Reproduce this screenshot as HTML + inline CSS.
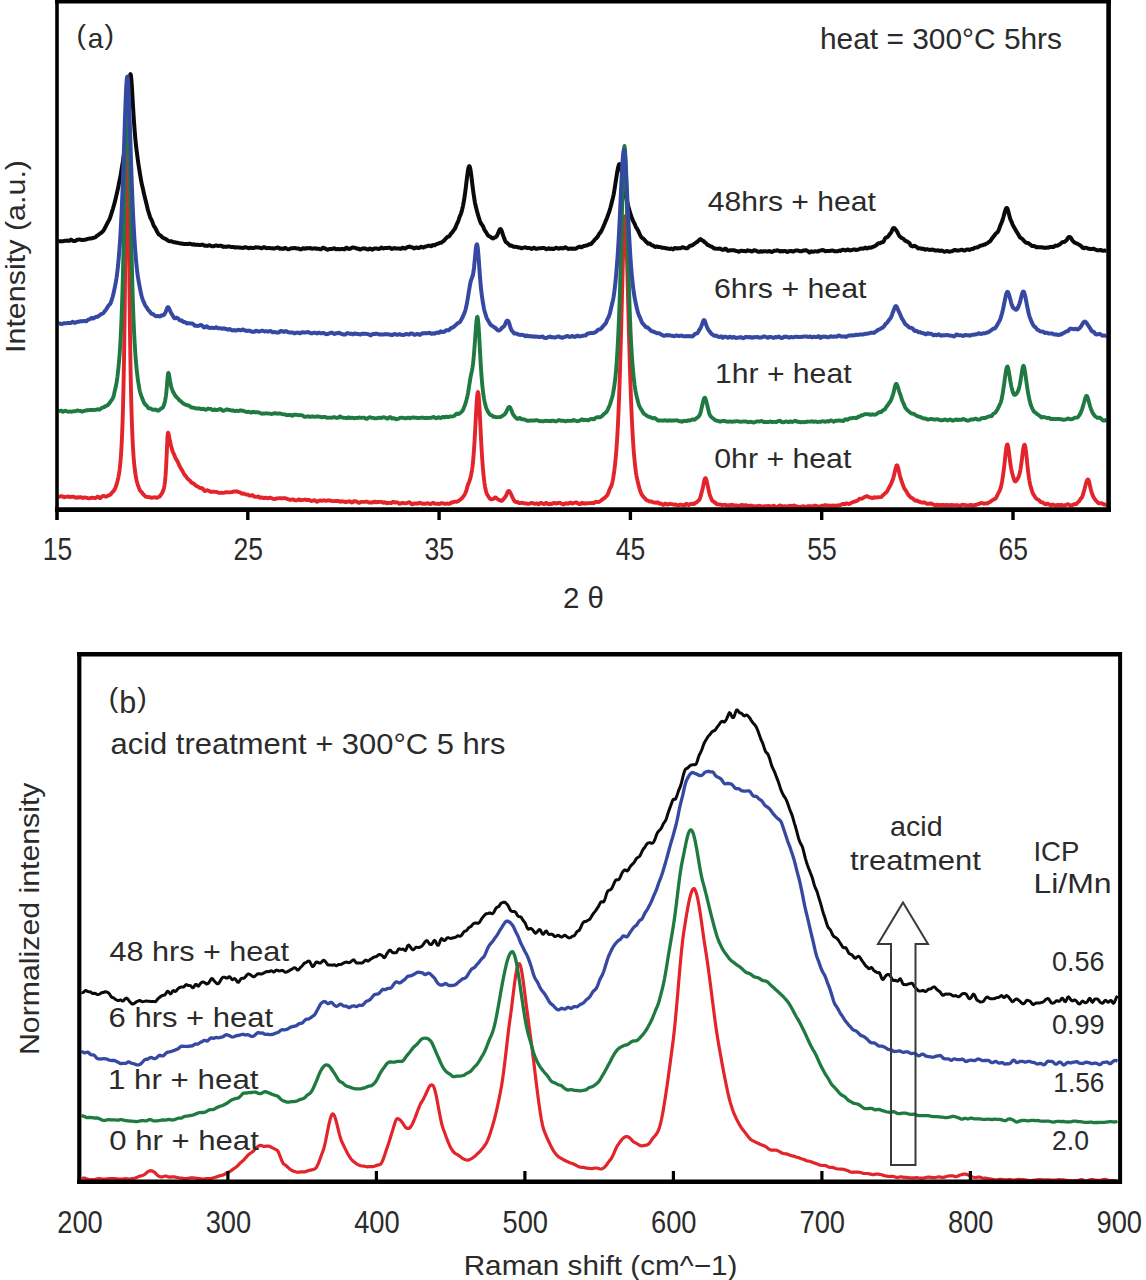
<!DOCTYPE html>
<html><head><meta charset="utf-8"><title>XRD and Raman spectra</title>
<style>html,body{margin:0;padding:0;background:#fff;} body{width:1146px;height:1280px;overflow:hidden;} svg{display:block;} text{font-family:"Liberation Sans",sans-serif;}</style>
</head><body>
<svg width="1146" height="1280" viewBox="0 0 1146 1280">
<rect width="1146" height="1280" fill="#fff"/>
<g>
<polyline fill="none" stroke="#0a0a0a" stroke-width="4.0" stroke-linejoin="round" points="58.5,241.6 59.0,241.4 59.5,241.3 60.0,241.2 60.5,241.2 61.0,241.2 61.5,241.2 62.0,241.3 62.5,241.3 63.0,241.2 63.5,241.1 64.0,241.0 64.5,240.8 65.0,240.8 65.5,240.8 66.0,240.8 66.5,240.8 67.0,240.6 67.5,240.5 68.0,240.6 68.5,240.7 69.0,240.9 69.5,240.8 70.0,240.4 70.5,239.9 71.0,239.7 71.5,239.9 72.0,240.3 72.5,240.6 73.0,240.9 73.5,240.9 74.0,240.9 74.5,240.9 75.0,241.0 75.5,240.9 76.0,240.6 76.5,240.1 77.0,239.9 77.5,239.8 78.0,239.7 78.5,239.6 79.0,239.6 79.5,239.6 80.0,239.6 80.5,239.7 81.0,239.8 81.5,239.9 82.0,240.0 82.5,240.1 83.0,240.1 83.5,240.0 84.0,239.8 84.5,239.7 85.0,239.7 85.5,239.6 86.0,239.5 86.5,239.4 87.0,239.2 87.5,239.0 88.0,238.9 88.5,238.8 89.0,238.7 89.5,238.5 90.0,238.4 90.5,238.4 91.0,238.4 91.5,238.4 92.0,238.2 92.5,238.1 93.0,238.0 93.5,237.9 94.0,237.7 94.5,237.5 95.0,237.3 95.5,237.1 96.0,236.7 96.5,236.2 97.0,235.7 97.5,235.4 98.0,235.3 98.5,234.9 99.0,234.4 99.5,233.9 100.0,233.6 100.5,233.3 101.0,233.0 101.5,232.6 102.0,232.1 102.5,231.6 103.0,231.1 103.5,230.5 104.0,229.7 104.5,228.8 105.0,227.8 105.5,226.8 106.0,225.8 106.5,224.8 107.0,223.9 107.5,222.9 108.0,222.0 108.5,221.1 109.0,220.2 109.5,219.1 110.0,217.9 110.5,216.5 111.0,214.9 111.5,213.2 112.0,211.6 112.5,210.1 113.0,208.5 113.5,206.7 114.0,205.0 114.5,203.2 115.0,201.3 115.5,199.3 116.0,197.1 116.5,194.9 117.0,192.8 117.5,190.6 118.0,188.3 118.5,185.8 119.0,183.1 119.5,180.6 120.0,178.3 120.5,175.8 121.0,173.0 121.5,169.9 122.0,166.8 122.5,163.7 123.0,160.5 123.5,157.1 124.0,153.5 124.5,149.5 125.0,145.0 125.5,140.0 126.0,134.5 126.5,128.3 127.0,121.4 127.5,113.8 128.0,105.6 128.5,97.0 129.0,88.6 129.5,81.3 130.0,76.1 130.5,74.1 131.0,76.0 131.5,81.2 132.0,88.7 132.5,97.3 133.0,106.1 133.5,114.3 134.0,121.8 134.5,128.6 135.0,134.8 135.5,140.4 136.0,145.4 136.5,149.7 137.0,153.6 137.5,157.3 138.0,161.0 138.5,164.5 139.0,167.7 139.5,170.8 140.0,173.9 140.5,177.0 141.0,179.9 141.5,182.5 142.0,184.8 142.5,186.9 143.0,189.2 143.5,191.5 144.0,193.8 144.5,195.9 145.0,198.0 145.5,200.0 146.0,202.0 146.5,204.0 147.0,206.1 147.5,208.2 148.0,210.2 148.5,211.9 149.0,213.5 149.5,215.2 150.0,216.7 150.5,218.0 151.0,218.9 151.5,219.9 152.0,221.1 152.5,222.3 153.0,223.7 153.5,225.0 154.0,226.1 154.5,226.9 155.0,227.5 155.5,228.3 156.0,229.4 156.5,230.5 157.0,231.5 157.5,232.3 158.0,233.2 158.5,234.0 159.0,234.6 159.5,234.9 160.0,235.1 160.5,235.4 161.0,235.9 161.5,236.5 162.0,237.0 162.5,237.4 163.0,237.7 163.5,238.0 164.0,238.3 164.5,238.5 165.0,238.7 165.5,238.9 166.0,239.2 166.5,239.5 167.0,239.9 167.5,240.2 168.0,240.6 168.5,240.9 169.0,241.1 169.5,241.2 170.0,241.2 170.5,241.2 171.0,241.2 171.5,241.3 172.0,241.5 172.5,241.7 173.0,242.0 173.5,242.2 174.0,242.3 174.5,242.2 175.0,242.3 175.5,242.4 176.0,242.6 176.5,242.7 177.0,242.8 177.5,242.8 178.0,242.9 178.5,243.0 179.0,243.2 179.5,243.3 180.0,243.4 180.5,243.5 181.0,243.4 181.5,243.4 182.0,243.5 182.5,243.7 183.0,243.8 183.5,243.9 184.0,243.9 184.5,243.9 185.0,244.0 185.5,244.0 186.0,243.9 186.5,244.0 187.0,244.1 187.5,244.1 188.0,244.1 188.5,244.0 189.0,243.9 189.5,243.7 190.0,243.7 190.5,243.8 191.0,244.0 191.5,244.3 192.0,244.4 192.5,244.5 193.0,244.4 193.5,244.3 194.0,244.4 194.5,244.6 195.0,244.8 195.5,244.9 196.0,244.8 196.5,244.7 197.0,244.7 197.5,244.7 198.0,244.8 198.5,245.0 199.0,245.0 199.5,244.9 200.0,244.9 200.5,244.9 201.0,244.9 201.5,244.8 202.0,244.7 202.5,244.6 203.0,244.8 203.5,245.0 204.0,245.4 204.5,245.6 205.0,245.7 205.5,245.6 206.0,245.6 206.5,245.7 207.0,245.8 207.5,245.9 208.0,245.7 208.5,245.5 209.0,245.3 209.5,245.3 210.0,245.4 210.5,245.6 211.0,245.9 211.5,246.1 212.0,246.2 212.5,246.3 213.0,246.3 213.5,246.2 214.0,246.1 214.5,245.9 215.0,245.7 215.5,245.5 216.0,245.5 216.5,245.5 217.0,245.6 217.5,245.8 218.0,246.0 218.5,246.0 219.0,245.9 219.5,245.8 220.0,245.7 220.5,245.7 221.0,245.7 221.5,245.8 222.0,246.1 222.5,246.5 223.0,246.8 223.5,246.9 224.0,246.8 224.5,246.7 225.0,246.6 225.5,246.7 226.0,246.8 226.5,246.9 227.0,246.7 227.5,246.5 228.0,246.4 228.5,246.4 229.0,246.4 229.5,246.5 230.0,246.6 230.5,246.8 231.0,247.0 231.5,246.9 232.0,246.9 232.5,246.9 233.0,247.0 233.5,247.0 234.0,247.0 234.5,247.2 235.0,247.5 235.5,247.5 236.0,247.5 236.5,247.4 237.0,247.3 237.5,247.4 238.0,247.5 238.5,247.6 239.0,247.6 239.5,247.6 240.0,247.6 240.5,247.8 241.0,247.8 241.5,247.8 242.0,247.8 242.5,247.9 243.0,248.0 243.5,247.9 244.0,247.6 244.5,247.4 245.0,247.3 245.5,247.3 246.0,247.3 246.5,247.5 247.0,247.7 247.5,247.8 248.0,247.9 248.5,248.1 249.0,248.2 249.5,248.1 250.0,247.9 250.5,247.7 251.0,247.7 251.5,247.8 252.0,248.0 252.5,248.0 253.0,248.0 253.5,248.0 254.0,247.9 254.5,247.8 255.0,247.5 255.5,247.3 256.0,247.3 256.5,247.4 257.0,247.5 257.5,247.5 258.0,247.5 258.5,247.4 259.0,247.5 259.5,247.7 260.0,247.9 260.5,248.0 261.0,248.1 261.5,248.2 262.0,248.2 262.5,247.9 263.0,247.5 263.5,247.2 264.0,247.2 264.5,247.3 265.0,247.4 265.5,247.7 266.0,248.0 266.5,248.1 267.0,248.2 267.5,248.1 268.0,248.1 268.5,248.0 269.0,248.0 269.5,248.1 270.0,248.1 270.5,248.2 271.0,248.2 271.5,248.2 272.0,248.2 272.5,248.3 273.0,248.5 273.5,248.6 274.0,248.6 274.5,248.5 275.0,248.3 275.5,248.1 276.0,248.0 276.5,247.9 277.0,247.7 277.5,247.5 278.0,247.5 278.5,247.6 279.0,248.0 279.5,248.5 280.0,248.8 280.5,248.7 281.0,248.6 281.5,248.5 282.0,248.6 282.5,248.9 283.0,249.0 283.5,248.8 284.0,248.5 284.5,248.1 285.0,247.9 285.5,248.0 286.0,248.2 286.5,248.6 287.0,248.9 287.5,249.1 288.0,249.2 288.5,249.2 289.0,249.2 289.5,249.0 290.0,248.8 290.5,248.5 291.0,248.4 291.5,248.3 292.0,248.2 292.5,248.2 293.0,248.2 293.5,248.2 294.0,248.0 294.5,247.9 295.0,248.0 295.5,248.2 296.0,248.4 296.5,248.6 297.0,248.6 297.5,248.5 298.0,248.4 298.5,248.5 299.0,248.8 299.5,249.1 300.0,249.3 300.5,249.4 301.0,249.3 301.5,249.2 302.0,248.9 302.5,248.5 303.0,248.2 303.5,248.2 304.0,248.4 304.5,248.6 305.0,248.7 305.5,248.6 306.0,248.4 306.5,248.2 307.0,248.1 307.5,248.1 308.0,248.2 308.5,248.3 309.0,248.3 309.5,248.1 310.0,248.0 310.5,248.1 311.0,248.3 311.5,248.6 312.0,248.7 312.5,248.7 313.0,248.5 313.5,248.4 314.0,248.4 314.5,248.4 315.0,248.3 315.5,248.4 316.0,248.5 316.5,248.8 317.0,248.9 317.5,248.8 318.0,248.8 318.5,248.8 319.0,248.8 319.5,249.0 320.0,249.2 320.5,249.3 321.0,249.2 321.5,248.9 322.0,248.5 322.5,248.0 323.0,247.7 323.5,247.7 324.0,248.0 324.5,248.3 325.0,248.6 325.5,248.7 326.0,248.9 326.5,249.3 327.0,249.6 327.5,249.7 328.0,249.6 328.5,249.3 329.0,249.1 329.5,249.0 330.0,249.0 330.5,249.1 331.0,249.1 331.5,249.0 332.0,248.9 332.5,248.8 333.0,248.7 333.5,248.5 334.0,248.3 334.5,248.3 335.0,248.5 335.5,249.0 336.0,249.3 336.5,249.3 337.0,249.2 337.5,249.0 338.0,248.9 338.5,249.0 339.0,249.2 339.5,249.3 340.0,249.2 340.5,249.1 341.0,249.0 341.5,249.1 342.0,249.0 342.5,248.9 343.0,248.9 343.5,249.1 344.0,249.3 344.5,249.4 345.0,249.0 345.5,248.5 346.0,247.9 346.5,247.7 347.0,247.9 347.5,248.3 348.0,248.7 348.5,248.9 349.0,249.0 349.5,248.9 350.0,248.8 350.5,248.6 351.0,248.3 351.5,247.9 352.0,247.6 352.5,247.5 353.0,247.5 353.5,247.6 354.0,247.7 354.5,247.7 355.0,247.8 355.5,247.9 356.0,248.2 356.5,248.5 357.0,248.7 357.5,248.6 358.0,248.5 358.5,248.7 359.0,249.0 359.5,249.4 360.0,249.5 360.5,249.5 361.0,249.3 361.5,248.9 362.0,248.6 362.5,248.5 363.0,248.6 363.5,248.6 364.0,248.5 364.5,248.4 365.0,248.4 365.5,248.6 366.0,248.9 366.5,249.1 367.0,249.2 367.5,249.4 368.0,249.5 368.5,249.4 369.0,249.2 369.5,248.8 370.0,248.5 370.5,248.6 371.0,248.9 371.5,249.3 372.0,249.7 372.5,249.6 373.0,249.3 373.5,249.0 374.0,248.7 374.5,248.5 375.0,248.4 375.5,248.4 376.0,248.4 376.5,248.5 377.0,248.6 377.5,248.8 378.0,248.9 378.5,249.0 379.0,249.0 379.5,248.9 380.0,248.6 380.5,248.2 381.0,247.7 381.5,247.5 382.0,247.7 382.5,248.1 383.0,248.4 383.5,248.5 384.0,248.3 384.5,248.1 385.0,248.0 385.5,248.0 386.0,248.0 386.5,248.0 387.0,248.0 387.5,248.0 388.0,247.9 388.5,247.7 389.0,247.7 389.5,247.7 390.0,247.8 390.5,248.1 391.0,248.5 391.5,248.9 392.0,249.0 392.5,248.8 393.0,248.5 393.5,248.2 394.0,248.1 394.5,248.1 395.0,248.2 395.5,248.4 396.0,248.6 396.5,248.6 397.0,248.5 397.5,248.5 398.0,248.4 398.5,248.4 399.0,248.5 399.5,248.6 400.0,248.8 400.5,248.9 401.0,248.8 401.5,248.5 402.0,248.1 402.5,247.8 403.0,247.7 403.5,247.9 404.0,248.3 404.5,248.6 405.0,248.6 405.5,248.4 406.0,248.1 406.5,247.6 407.0,247.3 407.5,247.1 408.0,247.1 408.5,247.0 409.0,246.7 409.5,246.5 410.0,246.6 410.5,247.0 411.0,247.2 411.5,247.3 412.0,247.3 412.5,247.4 413.0,247.8 413.5,248.2 414.0,248.4 414.5,248.4 415.0,248.1 415.5,247.7 416.0,247.5 416.5,247.4 417.0,247.5 417.5,247.8 418.0,248.0 418.5,248.1 419.0,248.1 419.5,247.8 420.0,247.5 420.5,247.1 421.0,246.8 421.5,246.8 422.0,247.0 422.5,247.3 423.0,247.6 423.5,247.5 424.0,247.3 424.5,246.9 425.0,246.6 425.5,246.5 426.0,246.4 426.5,246.4 427.0,246.2 427.5,246.0 428.0,245.8 428.5,245.7 429.0,245.6 429.5,245.7 430.0,245.8 430.5,246.1 431.0,246.2 431.5,246.1 432.0,245.7 432.5,245.2 433.0,245.0 433.5,245.1 434.0,245.2 434.5,245.3 435.0,245.1 435.5,244.8 436.0,244.4 436.5,244.2 437.0,244.0 437.5,243.9 438.0,243.7 438.5,243.5 439.0,243.3 439.5,243.0 440.0,242.8 440.5,242.8 441.0,242.7 441.5,242.6 442.0,242.2 442.5,241.7 443.0,241.3 443.5,241.0 444.0,240.7 444.5,240.1 445.0,239.4 445.5,238.8 446.0,238.3 446.5,237.8 447.0,237.3 447.5,236.9 448.0,236.7 448.5,236.6 449.0,236.4 449.5,236.0 450.0,235.2 450.5,234.3 451.0,233.6 451.5,233.0 452.0,232.6 452.5,232.1 453.0,231.4 453.5,230.5 454.0,229.8 454.5,229.2 455.0,228.5 455.5,227.5 456.0,226.1 456.5,224.8 457.0,223.7 457.5,222.8 458.0,221.7 458.5,220.3 459.0,218.7 459.5,217.2 460.0,216.0 460.5,214.9 461.0,213.6 461.5,211.9 462.0,210.1 462.5,208.1 463.0,205.8 463.5,203.2 464.0,200.3 464.5,197.2 465.0,193.8 465.5,190.1 466.0,186.0 466.5,181.8 467.0,177.6 467.5,173.7 468.0,170.3 468.5,167.7 469.0,166.3 469.5,166.2 470.0,167.5 470.5,170.0 471.0,173.4 471.5,177.3 472.0,181.5 472.5,185.7 473.0,189.6 473.5,193.2 474.0,196.7 474.5,199.9 475.0,202.8 475.5,205.3 476.0,207.3 476.5,209.3 477.0,211.2 477.5,213.0 478.0,214.8 478.5,216.5 479.0,218.1 479.5,219.7 480.0,221.1 480.5,222.4 481.0,223.5 481.5,224.2 482.0,224.8 482.5,225.4 483.0,226.3 483.5,227.4 484.0,228.7 484.5,229.9 485.0,230.7 485.5,231.4 486.0,232.1 486.5,232.9 487.0,233.8 487.5,234.6 488.0,235.3 488.5,235.8 489.0,236.1 489.5,236.3 490.0,236.6 490.5,237.0 491.0,237.3 491.5,237.7 492.0,238.1 492.5,238.4 493.0,238.5 493.5,238.3 494.0,237.9 494.5,237.5 495.0,237.3 495.5,237.2 496.0,236.9 496.5,236.4 497.0,235.7 497.5,234.8 498.0,233.6 498.5,232.2 499.0,230.9 499.5,229.8 500.0,229.1 500.5,229.0 501.0,229.6 501.5,230.5 502.0,231.8 502.5,233.3 503.0,234.9 503.5,236.4 504.0,237.7 504.5,239.0 505.0,240.3 505.5,241.4 506.0,242.1 506.5,242.5 507.0,242.8 507.5,243.2 508.0,243.7 508.5,244.2 509.0,244.7 509.5,245.2 510.0,245.6 510.5,245.7 511.0,245.6 511.5,245.6 512.0,245.8 512.5,246.1 513.0,246.5 513.5,246.7 514.0,246.9 514.5,246.8 515.0,246.8 515.5,246.8 516.0,246.9 516.5,246.9 517.0,247.0 517.5,247.2 518.0,247.4 518.5,247.6 519.0,247.6 519.5,247.6 520.0,247.6 520.5,247.8 521.0,248.1 521.5,248.3 522.0,248.2 522.5,248.0 523.0,247.8 523.5,247.7 524.0,247.6 524.5,247.5 525.0,247.4 525.5,247.3 526.0,247.5 526.5,247.7 527.0,248.0 527.5,248.0 528.0,247.9 528.5,247.9 529.0,247.9 529.5,248.0 530.0,248.2 530.5,248.5 531.0,248.7 531.5,248.9 532.0,248.8 532.5,248.5 533.0,248.1 533.5,247.8 534.0,247.8 534.5,248.0 535.0,248.3 535.5,248.6 536.0,248.8 536.5,248.9 537.0,248.8 537.5,248.7 538.0,248.5 538.5,248.3 539.0,248.3 539.5,248.3 540.0,248.3 540.5,248.3 541.0,248.2 541.5,248.1 542.0,248.0 542.5,248.0 543.0,248.0 543.5,248.0 544.0,248.0 544.5,248.1 545.0,248.3 545.5,248.7 546.0,249.0 546.5,249.2 547.0,249.1 547.5,248.9 548.0,248.5 548.5,248.3 549.0,248.3 549.5,248.6 550.0,248.9 550.5,249.0 551.0,248.9 551.5,248.6 552.0,248.5 552.5,248.7 553.0,249.0 553.5,249.1 554.0,249.0 554.5,248.6 555.0,248.3 555.5,248.0 556.0,247.8 556.5,247.8 557.0,247.9 557.5,248.2 558.0,248.5 558.5,248.7 559.0,248.7 559.5,248.5 560.0,248.2 560.5,248.0 561.0,248.0 561.5,248.2 562.0,248.3 562.5,248.4 563.0,248.4 563.5,248.3 564.0,248.0 564.5,247.6 565.0,247.4 565.5,247.3 566.0,247.6 566.5,247.9 567.0,248.3 567.5,248.5 568.0,248.8 568.5,249.0 569.0,248.9 569.5,248.8 570.0,248.6 570.5,248.5 571.0,248.5 571.5,248.6 572.0,248.8 572.5,248.9 573.0,248.7 573.5,248.6 574.0,248.6 574.5,248.7 575.0,248.7 575.5,248.7 576.0,248.6 576.5,248.3 577.0,248.0 577.5,247.6 578.0,247.3 578.5,247.0 579.0,246.8 579.5,246.7 580.0,246.8 580.5,247.1 581.0,247.3 581.5,247.3 582.0,247.1 582.5,246.8 583.0,246.4 583.5,246.1 584.0,245.9 584.5,245.9 585.0,245.9 585.5,245.7 586.0,245.5 586.5,245.4 587.0,245.4 587.5,245.3 588.0,245.0 588.5,244.6 589.0,244.2 589.5,244.1 590.0,244.2 590.5,244.2 591.0,244.1 591.5,243.6 592.0,242.9 592.5,242.3 593.0,241.7 593.5,241.3 594.0,240.7 594.5,240.0 595.0,239.4 595.5,238.9 596.0,238.5 596.5,238.0 597.0,237.5 597.5,236.9 598.0,236.1 598.5,235.1 599.0,234.2 599.5,233.5 600.0,233.0 600.5,232.4 601.0,231.6 601.5,230.6 602.0,229.6 602.5,228.5 603.0,227.4 603.5,226.3 604.0,225.1 604.5,223.9 605.0,222.7 605.5,221.4 606.0,220.2 606.5,219.1 607.0,217.9 607.5,216.5 608.0,215.1 608.5,213.7 609.0,212.3 609.5,210.8 610.0,209.2 610.5,207.5 611.0,205.6 611.5,203.5 612.0,201.4 612.5,199.4 613.0,197.4 613.5,195.1 614.0,192.5 614.5,189.5 615.0,186.3 615.5,183.0 616.0,179.7 616.5,176.5 617.0,173.4 617.5,170.5 618.0,167.9 618.5,165.9 619.0,164.6 619.5,164.0 620.0,164.4 620.5,165.7 621.0,167.8 621.5,170.4 622.0,173.3 622.5,176.4 623.0,179.5 623.5,182.7 624.0,186.0 624.5,189.2 625.0,192.1 625.5,194.8 626.0,197.3 626.5,199.4 627.0,201.3 627.5,203.1 628.0,205.0 628.5,206.9 629.0,208.8 629.5,210.6 630.0,212.3 630.5,213.9 631.0,215.4 631.5,216.9 632.0,218.3 632.5,219.6 633.0,220.7 633.5,221.7 634.0,222.6 634.5,223.6 635.0,224.8 635.5,226.0 636.0,227.1 636.5,228.0 637.0,228.7 637.5,229.5 638.0,230.3 638.5,231.4 639.0,232.5 639.5,233.6 640.0,234.7 640.5,235.7 641.0,236.6 641.5,237.3 642.0,237.8 642.5,238.2 643.0,238.5 643.5,238.9 644.0,239.3 644.5,239.9 645.0,240.5 645.5,241.2 646.0,241.7 646.5,242.0 647.0,242.4 647.5,243.0 648.0,243.6 648.5,243.8 649.0,243.7 649.5,243.6 650.0,243.6 650.5,244.0 651.0,244.6 651.5,245.1 652.0,245.4 652.5,245.4 653.0,245.4 653.5,245.7 654.0,246.1 654.5,246.5 655.0,246.9 655.5,247.0 656.0,246.8 656.5,246.5 657.0,246.4 657.5,246.6 658.0,246.9 658.5,247.1 659.0,247.1 659.5,247.0 660.0,247.0 660.5,247.1 661.0,247.4 661.5,247.6 662.0,247.7 662.5,247.7 663.0,247.7 663.5,247.7 664.0,247.9 664.5,248.0 665.0,248.0 665.5,248.0 666.0,248.3 666.5,248.5 667.0,248.6 667.5,248.6 668.0,248.5 668.5,248.6 669.0,248.8 669.5,249.0 670.0,249.0 670.5,248.8 671.0,248.6 671.5,248.6 672.0,248.8 672.5,249.2 673.0,249.4 673.5,249.2 674.0,248.7 674.5,248.2 675.0,247.9 675.5,248.0 676.0,248.2 676.5,248.4 677.0,248.4 677.5,248.4 678.0,248.2 678.5,248.1 679.0,248.2 679.5,248.3 680.0,248.3 680.5,248.2 681.0,248.0 681.5,247.8 682.0,247.5 682.5,247.2 683.0,247.2 683.5,247.5 684.0,247.7 684.5,247.9 685.0,248.0 685.5,248.0 686.0,248.1 686.5,248.3 687.0,248.3 687.5,248.2 688.0,247.8 688.5,247.3 689.0,246.6 689.5,246.1 690.0,245.8 690.5,245.8 691.0,245.7 691.5,245.6 692.0,245.3 692.5,245.1 693.0,244.7 693.5,244.4 694.0,244.0 694.5,243.7 695.0,243.4 695.5,243.0 696.0,242.6 696.5,242.3 697.0,242.0 697.5,241.7 698.0,241.2 698.5,240.7 699.0,240.1 699.5,239.6 700.0,239.3 700.5,239.1 701.0,239.3 701.5,239.8 702.0,240.3 702.5,240.6 703.0,240.7 703.5,241.0 704.0,241.5 704.5,242.1 705.0,242.5 705.5,242.7 706.0,243.1 706.5,243.7 707.0,244.4 707.5,244.9 708.0,245.1 708.5,245.2 709.0,245.4 709.5,245.7 710.0,246.0 710.5,246.3 711.0,246.6 711.5,246.7 712.0,246.9 712.5,247.1 713.0,247.5 713.5,248.0 714.0,248.4 714.5,248.6 715.0,248.6 715.5,248.6 716.0,248.7 716.5,248.8 717.0,248.8 717.5,248.7 718.0,248.8 718.5,248.8 719.0,248.7 719.5,248.5 720.0,248.5 720.5,248.8 721.0,249.2 721.5,249.5 722.0,249.7 722.5,249.8 723.0,249.9 723.5,249.8 724.0,249.5 724.5,249.1 725.0,248.8 725.5,248.7 726.0,248.9 726.5,249.4 727.0,250.1 727.5,250.6 728.0,250.8 728.5,250.7 729.0,250.6 729.5,250.4 730.0,250.3 730.5,250.3 731.0,250.3 731.5,250.3 732.0,250.3 732.5,250.3 733.0,250.3 733.5,250.2 734.0,250.2 734.5,250.4 735.0,250.6 735.5,250.8 736.0,251.0 736.5,251.0 737.0,251.1 737.5,251.2 738.0,251.5 738.5,251.7 739.0,251.7 739.5,251.4 740.0,251.1 740.5,250.9 741.0,250.8 741.5,250.8 742.0,250.8 742.5,250.9 743.0,251.1 743.5,251.1 744.0,251.0 744.5,251.0 745.0,251.1 745.5,251.3 746.0,251.2 746.5,250.9 747.0,250.5 747.5,250.3 748.0,250.4 748.5,250.7 749.0,250.8 749.5,250.8 750.0,250.8 750.5,250.9 751.0,251.3 751.5,251.5 752.0,251.5 752.5,251.3 753.0,251.0 753.5,250.6 754.0,250.3 754.5,250.3 755.0,250.4 755.5,250.5 756.0,250.6 756.5,250.8 757.0,251.2 757.5,251.5 758.0,251.7 758.5,251.8 759.0,251.8 759.5,251.8 760.0,251.6 760.5,251.3 761.0,251.2 761.5,251.4 762.0,251.6 762.5,251.7 763.0,251.5 763.5,251.3 764.0,251.2 764.5,251.2 765.0,251.2 765.5,251.3 766.0,251.4 766.5,251.5 767.0,251.6 767.5,251.6 768.0,251.5 768.5,251.3 769.0,251.1 769.5,251.1 770.0,251.3 770.5,251.6 771.0,251.8 771.5,252.0 772.0,252.0 772.5,251.8 773.0,251.4 773.5,251.0 774.0,250.8 774.5,250.7 775.0,250.8 775.5,250.8 776.0,250.7 776.5,250.5 777.0,250.3 777.5,250.4 778.0,250.5 778.5,250.7 779.0,250.9 779.5,251.2 780.0,251.4 780.5,251.4 781.0,251.2 781.5,251.0 782.0,251.1 782.5,251.3 783.0,251.4 783.5,251.2 784.0,251.0 784.5,250.9 785.0,250.9 785.5,251.0 786.0,251.4 786.5,251.8 787.0,252.0 787.5,252.0 788.0,251.8 788.5,251.5 789.0,251.2 789.5,251.0 790.0,251.0 790.5,250.9 791.0,250.9 791.5,251.0 792.0,251.2 792.5,251.5 793.0,251.6 793.5,251.5 794.0,251.3 794.5,251.0 795.0,250.6 795.5,250.5 796.0,250.5 796.5,250.5 797.0,250.5 797.5,250.5 798.0,250.5 798.5,250.6 799.0,250.9 799.5,251.1 800.0,251.2 800.5,251.2 801.0,251.3 801.5,251.3 802.0,251.1 802.5,250.8 803.0,250.6 803.5,250.5 804.0,250.5 804.5,250.6 805.0,250.4 805.5,250.2 806.0,250.2 806.5,250.4 807.0,250.7 807.5,251.0 808.0,251.3 808.5,251.8 809.0,252.2 809.5,252.5 810.0,252.4 810.5,252.0 811.0,251.4 811.5,251.3 812.0,251.5 812.5,251.7 813.0,251.8 813.5,251.7 814.0,251.5 814.5,251.4 815.0,251.3 815.5,251.3 816.0,251.4 816.5,251.4 817.0,251.5 817.5,251.6 818.0,251.5 818.5,251.2 819.0,250.9 819.5,250.7 820.0,250.6 820.5,250.5 821.0,250.4 821.5,250.3 822.0,250.1 822.5,250.0 823.0,250.1 823.5,250.2 824.0,250.5 824.5,250.8 825.0,251.1 825.5,251.2 826.0,251.1 826.5,251.0 827.0,251.0 827.5,251.0 828.0,251.0 828.5,251.0 829.0,251.0 829.5,251.0 830.0,250.9 830.5,250.8 831.0,250.7 831.5,250.6 832.0,250.6 832.5,250.6 833.0,250.6 833.5,250.8 834.0,251.0 834.5,251.3 835.0,251.4 835.5,251.3 836.0,251.2 836.5,251.2 837.0,251.2 837.5,251.2 838.0,251.1 838.5,250.9 839.0,250.6 839.5,250.5 840.0,250.7 840.5,250.9 841.0,250.7 841.5,250.3 842.0,250.0 842.5,249.9 843.0,249.8 843.5,249.8 844.0,249.9 844.5,250.2 845.0,250.4 845.5,250.5 846.0,250.3 846.5,250.1 847.0,249.7 847.5,249.5 848.0,249.5 848.5,249.8 849.0,250.1 849.5,250.3 850.0,250.4 850.5,250.4 851.0,250.2 851.5,250.1 852.0,250.0 852.5,249.9 853.0,249.7 853.5,249.6 854.0,249.4 854.5,249.4 855.0,249.4 855.5,249.7 856.0,250.0 856.5,250.0 857.0,249.9 857.5,249.7 858.0,249.6 858.5,249.5 859.0,249.3 859.5,249.1 860.0,248.9 860.5,248.7 861.0,248.4 861.5,248.4 862.0,248.5 862.5,248.7 863.0,248.7 863.5,248.6 864.0,248.4 864.5,248.0 865.0,247.7 865.5,247.6 866.0,247.8 866.5,248.2 867.0,248.5 867.5,248.4 868.0,248.1 868.5,247.8 869.0,247.6 869.5,247.6 870.0,247.6 870.5,247.7 871.0,247.6 871.5,247.5 872.0,247.2 872.5,247.0 873.0,246.9 873.5,246.7 874.0,246.5 874.5,246.2 875.0,245.9 875.5,245.7 876.0,245.4 876.5,245.0 877.0,244.5 877.5,243.9 878.0,243.5 878.5,243.3 879.0,243.2 879.5,243.2 880.0,243.2 880.5,242.9 881.0,242.6 881.5,242.4 882.0,242.3 882.5,242.3 883.0,242.1 883.5,241.6 884.0,240.7 884.5,239.6 885.0,238.6 885.5,237.9 886.0,237.5 886.5,237.3 887.0,237.3 887.5,237.2 888.0,236.7 888.5,236.0 889.0,235.2 889.5,234.5 890.0,233.9 890.5,233.3 891.0,232.6 891.5,231.6 892.0,230.4 892.5,229.2 893.0,228.4 893.5,228.0 894.0,228.0 894.5,228.2 895.0,228.8 895.5,229.4 896.0,230.1 896.5,230.7 897.0,231.4 897.5,232.3 898.0,233.4 898.5,234.4 899.0,235.3 899.5,236.0 900.0,236.6 900.5,237.1 901.0,237.5 901.5,237.8 902.0,238.2 902.5,238.4 903.0,238.6 903.5,238.9 904.0,239.4 904.5,240.1 905.0,240.6 905.5,240.9 906.0,241.1 906.5,241.2 907.0,241.4 907.5,241.8 908.0,242.2 908.5,242.4 909.0,242.7 909.5,243.2 910.0,244.2 910.5,245.1 911.0,245.7 911.5,246.0 912.0,246.2 912.5,246.4 913.0,246.3 913.5,246.1 914.0,245.8 914.5,245.8 915.0,246.0 915.5,246.3 916.0,246.6 916.5,246.9 917.0,247.3 917.5,247.8 918.0,248.3 918.5,248.5 919.0,248.4 919.5,248.3 920.0,248.3 920.5,248.4 921.0,248.6 921.5,248.8 922.0,248.9 922.5,248.8 923.0,248.7 923.5,248.8 924.0,249.1 924.5,249.5 925.0,249.7 925.5,249.6 926.0,249.4 926.5,249.2 927.0,249.2 927.5,249.3 928.0,249.5 928.5,249.7 929.0,249.8 929.5,249.8 930.0,249.9 930.5,249.9 931.0,249.8 931.5,249.7 932.0,249.6 932.5,249.6 933.0,249.7 933.5,249.8 934.0,250.0 934.5,250.2 935.0,250.5 935.5,250.6 936.0,250.6 936.5,250.5 937.0,250.5 937.5,250.4 938.0,250.3 938.5,250.4 939.0,250.6 939.5,250.9 940.0,251.0 940.5,250.9 941.0,250.6 941.5,250.5 942.0,250.6 942.5,250.8 943.0,251.1 943.5,251.3 944.0,251.6 944.5,251.7 945.0,251.7 945.5,251.5 946.0,251.3 946.5,251.1 947.0,251.1 947.5,251.1 948.0,251.3 948.5,251.5 949.0,251.7 949.5,251.7 950.0,251.6 950.5,251.4 951.0,251.4 951.5,251.3 952.0,251.2 952.5,251.1 953.0,250.8 953.5,250.5 954.0,250.2 954.5,250.0 955.0,249.9 955.5,250.1 956.0,250.3 956.5,250.5 957.0,250.6 957.5,250.6 958.0,250.5 958.5,250.5 959.0,250.5 959.5,250.4 960.0,250.2 960.5,250.0 961.0,249.9 961.5,249.8 962.0,249.8 962.5,249.9 963.0,250.1 963.5,250.4 964.0,250.6 964.5,250.6 965.0,250.4 965.5,250.0 966.0,249.8 966.5,249.7 967.0,249.5 967.5,249.4 968.0,249.4 968.5,249.6 969.0,249.9 969.5,250.0 970.0,249.9 970.5,249.4 971.0,249.1 971.5,249.0 972.0,249.1 972.5,249.1 973.0,248.9 973.5,248.5 974.0,248.1 974.5,247.9 975.0,247.7 975.5,247.7 976.0,247.6 976.5,247.5 977.0,247.4 977.5,247.3 978.0,247.2 978.5,246.9 979.0,246.5 979.5,246.2 980.0,245.9 980.5,245.7 981.0,245.6 981.5,245.5 982.0,245.4 982.5,245.3 983.0,245.1 983.5,244.8 984.0,244.7 984.5,244.6 985.0,244.5 985.5,244.2 986.0,243.8 986.5,243.5 987.0,243.3 987.5,243.1 988.0,242.7 988.5,242.2 989.0,241.9 989.5,241.7 990.0,241.4 990.5,240.8 991.0,240.1 991.5,239.2 992.0,238.5 992.5,237.8 993.0,237.2 993.5,236.6 994.0,236.0 994.5,235.4 995.0,234.6 995.5,233.9 996.0,233.4 996.5,233.0 997.0,232.7 997.5,232.3 998.0,231.5 998.5,230.5 999.0,229.2 999.5,227.8 1000.0,226.4 1000.5,225.1 1001.0,223.9 1001.5,222.8 1002.0,221.5 1002.5,220.2 1003.0,218.5 1003.5,216.8 1004.0,214.9 1004.5,213.1 1005.0,211.3 1005.5,209.8 1006.0,208.7 1006.5,208.0 1007.0,208.0 1007.5,208.8 1008.0,210.3 1008.5,212.2 1009.0,214.3 1009.5,216.4 1010.0,218.2 1010.5,219.5 1011.0,220.6 1011.5,221.8 1012.0,223.1 1012.5,224.3 1013.0,225.3 1013.5,226.3 1014.0,227.2 1014.5,228.0 1015.0,228.9 1015.5,229.8 1016.0,230.7 1016.5,231.6 1017.0,232.3 1017.5,233.1 1018.0,233.9 1018.5,234.8 1019.0,235.7 1019.5,236.6 1020.0,237.3 1020.5,237.8 1021.0,238.1 1021.5,238.4 1022.0,238.7 1022.5,239.2 1023.0,239.7 1023.5,240.3 1024.0,240.8 1024.5,241.4 1025.0,241.8 1025.5,242.2 1026.0,242.6 1026.5,242.9 1027.0,243.0 1027.5,242.9 1028.0,243.0 1028.5,243.2 1029.0,243.6 1029.5,244.0 1030.0,244.4 1030.5,244.7 1031.0,245.1 1031.5,245.6 1032.0,246.0 1032.5,246.1 1033.0,246.1 1033.5,246.1 1034.0,246.0 1034.5,246.1 1035.0,246.3 1035.5,246.7 1036.0,247.1 1036.5,247.3 1037.0,247.3 1037.5,247.1 1038.0,247.1 1038.5,247.2 1039.0,247.3 1039.5,247.3 1040.0,247.2 1040.5,247.2 1041.0,247.2 1041.5,247.4 1042.0,247.5 1042.5,247.6 1043.0,247.5 1043.5,247.5 1044.0,247.6 1044.5,247.8 1045.0,247.9 1045.5,247.9 1046.0,247.7 1046.5,247.6 1047.0,247.5 1047.5,247.6 1048.0,247.7 1048.5,247.6 1049.0,247.3 1049.5,247.1 1050.0,247.1 1050.5,247.1 1051.0,247.1 1051.5,246.9 1052.0,246.8 1052.5,246.9 1053.0,247.0 1053.5,247.0 1054.0,246.7 1054.5,246.3 1055.0,245.8 1055.5,245.6 1056.0,245.6 1056.5,245.7 1057.0,245.7 1057.5,245.6 1058.0,245.4 1058.5,245.1 1059.0,244.8 1059.5,244.5 1060.0,244.2 1060.5,243.9 1061.0,243.4 1061.5,242.9 1062.0,242.4 1062.5,242.2 1063.0,242.1 1063.5,242.0 1064.0,242.0 1064.5,241.9 1065.0,241.7 1065.5,241.2 1066.0,240.7 1066.5,240.2 1067.0,239.6 1067.5,238.8 1068.0,237.8 1068.5,237.2 1069.0,236.9 1069.5,236.9 1070.0,237.1 1070.5,237.4 1071.0,238.0 1071.5,238.8 1072.0,239.8 1072.5,240.6 1073.0,241.1 1073.5,241.6 1074.0,242.0 1074.5,242.5 1075.0,242.8 1075.5,243.0 1076.0,243.2 1076.5,243.3 1077.0,243.5 1077.5,243.8 1078.0,244.1 1078.5,244.4 1079.0,244.7 1079.5,245.0 1080.0,245.2 1080.5,245.6 1081.0,246.0 1081.5,246.5 1082.0,247.0 1082.5,247.5 1083.0,248.0 1083.5,248.2 1084.0,248.2 1084.5,247.9 1085.0,247.7 1085.5,247.7 1086.0,247.8 1086.5,247.9 1087.0,248.1 1087.5,248.3 1088.0,248.6 1088.5,248.7 1089.0,248.8 1089.5,248.8 1090.0,248.9 1090.5,249.1 1091.0,249.1 1091.5,249.1 1092.0,249.0 1092.5,248.8 1093.0,248.7 1093.5,248.7 1094.0,248.9 1094.5,249.1 1095.0,249.4 1095.5,249.6 1096.0,249.8 1096.5,250.0 1097.0,250.2 1097.5,250.3 1098.0,250.3 1098.5,250.3 1099.0,250.3 1099.5,250.2 1100.0,249.9 1100.5,249.9 1101.0,250.0 1101.5,250.3 1102.0,250.5 1102.5,250.7 1103.0,250.7 1103.5,250.7 1104.0,250.6 1104.5,250.5 1105.0,250.6 1105.5,250.7 1106.0,250.8 1106.5,250.8"/>
<polyline fill="none" stroke="#e3242b" stroke-width="3.9" stroke-linejoin="round" points="58.5,496.3 59.0,496.5 59.5,496.7 60.0,496.6 60.5,496.3 61.0,496.2 61.5,496.1 62.0,496.2 62.5,496.3 63.0,496.6 63.5,497.0 64.0,497.2 64.5,497.2 65.0,497.0 65.5,496.9 66.0,496.9 66.5,496.8 67.0,496.8 67.5,496.6 68.0,496.5 68.5,496.5 69.0,496.7 69.5,496.9 70.0,497.1 70.5,497.0 71.0,496.9 71.5,496.7 72.0,496.7 72.5,496.7 73.0,496.6 73.5,496.7 74.0,496.9 74.5,497.1 75.0,497.4 75.5,497.7 76.0,497.8 76.5,497.6 77.0,497.3 77.5,497.3 78.0,497.4 78.5,497.6 79.0,497.5 79.5,497.3 80.0,497.1 80.5,497.1 81.0,497.2 81.5,497.5 82.0,497.8 82.5,497.9 83.0,497.9 83.5,497.7 84.0,497.5 84.5,497.5 85.0,497.5 85.5,497.6 86.0,497.7 86.5,497.8 87.0,497.9 87.5,498.0 88.0,498.2 88.5,498.3 89.0,498.4 89.5,498.4 90.0,498.2 90.5,498.0 91.0,497.9 91.5,497.8 92.0,497.7 92.5,497.7 93.0,497.8 93.5,497.9 94.0,498.0 94.5,498.0 95.0,498.1 95.5,498.0 96.0,497.8 96.5,497.4 97.0,497.0 97.5,496.7 98.0,496.6 98.5,496.9 99.0,497.5 99.5,497.9 100.0,498.1 100.5,497.9 101.0,497.5 101.5,497.0 102.0,496.6 102.5,496.2 103.0,496.0 103.5,495.9 104.0,496.0 104.5,496.2 105.0,496.4 105.5,496.6 106.0,496.6 106.5,496.5 107.0,496.3 107.5,496.0 108.0,495.7 108.5,495.4 109.0,495.2 109.5,495.1 110.0,494.8 110.5,494.4 111.0,493.9 111.5,493.2 112.0,492.7 112.5,492.2 113.0,491.7 113.5,491.1 114.0,490.4 114.5,489.6 115.0,488.6 115.5,487.5 116.0,486.3 116.5,484.7 117.0,482.9 117.5,481.0 118.0,478.9 118.5,476.6 119.0,473.9 119.5,470.6 120.0,466.6 120.5,461.4 121.0,454.8 121.5,446.7 122.0,436.6 122.5,423.9 123.0,407.6 123.5,386.8 124.0,360.1 124.5,325.7 125.0,282.3 125.5,230.0 126.0,173.0 126.5,121.8 127.0,92.2 127.5,96.0 128.0,131.6 128.5,185.1 129.0,241.5 129.5,291.8 130.0,333.1 130.5,365.6 131.0,390.9 131.5,410.5 132.0,425.9 132.5,438.2 133.0,447.9 133.5,455.6 134.0,461.8 134.5,466.7 135.0,470.9 135.5,474.4 136.0,477.4 136.5,479.9 137.0,482.0 137.5,483.7 138.0,485.3 138.5,486.7 139.0,488.1 139.5,489.4 140.0,490.5 140.5,491.1 141.0,491.5 141.5,491.9 142.0,492.6 142.5,493.4 143.0,494.0 143.5,494.4 144.0,494.9 144.5,495.5 145.0,496.1 145.5,496.5 146.0,496.8 146.5,496.9 147.0,496.9 147.5,496.9 148.0,497.0 148.5,497.2 149.0,497.3 149.5,497.3 150.0,497.3 150.5,497.4 151.0,497.6 151.5,497.8 152.0,497.8 152.5,497.7 153.0,497.5 153.5,497.4 154.0,497.4 154.5,497.4 155.0,497.3 155.5,497.3 156.0,497.5 156.5,497.8 157.0,497.8 157.5,497.6 158.0,497.3 158.5,497.0 159.0,496.8 159.5,496.5 160.0,496.0 160.5,495.3 161.0,494.6 161.5,494.0 162.0,493.2 162.5,492.2 163.0,491.1 163.5,489.8 164.0,487.9 164.5,485.3 165.0,481.4 165.5,476.0 166.0,468.6 166.5,458.7 167.0,447.1 167.5,436.8 168.0,432.6 168.5,433.7 169.0,436.1 169.5,438.8 170.0,441.3 170.5,443.5 171.0,445.6 171.5,447.6 172.0,449.4 172.5,450.9 173.0,452.1 173.5,453.2 174.0,454.3 174.5,455.5 175.0,456.8 175.5,458.0 176.0,459.0 176.5,459.8 177.0,460.6 177.5,461.4 178.0,462.4 178.5,463.6 179.0,464.8 179.5,466.0 180.0,466.9 180.5,467.8 181.0,468.6 181.5,469.4 182.0,470.2 182.5,471.0 183.0,472.0 183.5,473.0 184.0,474.0 184.5,474.8 185.0,475.4 185.5,475.9 186.0,476.4 186.5,477.1 187.0,477.9 187.5,478.5 188.0,479.1 188.5,479.5 189.0,479.9 189.5,480.3 190.0,480.7 190.5,481.2 191.0,482.0 191.5,482.7 192.0,483.1 192.5,483.1 193.0,483.2 193.5,483.4 194.0,483.8 194.5,484.4 195.0,484.8 195.5,485.3 196.0,485.7 196.5,486.1 197.0,486.3 197.5,486.4 198.0,486.7 198.5,487.1 199.0,487.5 199.5,487.8 200.0,487.9 200.5,488.0 201.0,488.1 201.5,488.1 202.0,488.2 202.5,488.5 203.0,489.0 203.5,489.7 204.0,490.4 204.5,490.9 205.0,491.0 205.5,490.9 206.0,490.6 206.5,490.3 207.0,490.2 207.5,490.3 208.0,490.5 208.5,490.7 209.0,490.9 209.5,491.2 210.0,491.6 210.5,491.8 211.0,491.9 211.5,491.8 212.0,491.7 212.5,491.7 213.0,491.7 213.5,491.8 214.0,491.8 214.5,491.9 215.0,491.9 215.5,491.9 216.0,491.9 216.5,492.0 217.0,492.1 217.5,492.3 218.0,492.5 218.5,492.7 219.0,492.9 219.5,492.9 220.0,492.9 220.5,492.9 221.0,492.9 221.5,492.8 222.0,492.8 222.5,492.9 223.0,492.9 223.5,492.9 224.0,492.8 224.5,492.7 225.0,492.4 225.5,492.2 226.0,492.2 226.5,492.3 227.0,492.4 227.5,492.3 228.0,492.2 228.5,492.2 229.0,492.3 229.5,492.4 230.0,492.4 230.5,492.4 231.0,492.3 231.5,492.1 232.0,492.1 232.5,492.0 233.0,491.8 233.5,491.6 234.0,491.4 234.5,491.4 235.0,491.5 235.5,491.5 236.0,491.4 236.5,491.3 237.0,491.3 237.5,491.6 238.0,491.9 238.5,492.1 239.0,492.3 239.5,492.3 240.0,492.4 240.5,492.6 241.0,493.1 241.5,493.5 242.0,493.7 242.5,493.7 243.0,493.5 243.5,493.5 244.0,493.7 244.5,493.9 245.0,494.2 245.5,494.3 246.0,494.4 246.5,494.6 247.0,494.6 247.5,494.6 248.0,494.7 248.5,495.0 249.0,495.3 249.5,495.6 250.0,495.7 250.5,495.7 251.0,495.5 251.5,495.3 252.0,495.1 252.5,495.1 253.0,495.5 253.5,496.1 254.0,496.6 254.5,496.7 255.0,496.7 255.5,496.7 256.0,496.8 256.5,496.9 257.0,496.9 257.5,496.7 258.0,496.5 258.5,496.5 259.0,496.9 259.5,497.5 260.0,497.8 260.5,497.8 261.0,497.6 261.5,497.4 262.0,497.4 262.5,497.6 263.0,497.9 263.5,498.1 264.0,498.1 264.5,498.0 265.0,497.8 265.5,497.8 266.0,497.8 266.5,498.0 267.0,498.1 267.5,498.3 268.0,498.3 268.5,498.2 269.0,497.9 269.5,497.7 270.0,497.7 270.5,497.8 271.0,498.0 271.5,498.2 272.0,498.4 272.5,498.5 273.0,498.7 273.5,498.9 274.0,499.0 274.5,499.1 275.0,499.1 275.5,498.9 276.0,498.6 276.5,498.4 277.0,498.4 277.5,498.4 278.0,498.3 278.5,498.2 279.0,498.1 279.5,498.1 280.0,498.2 280.5,498.2 281.0,498.3 281.5,498.3 282.0,498.4 282.5,498.3 283.0,498.2 283.5,498.2 284.0,498.1 284.5,498.1 285.0,498.1 285.5,498.2 286.0,498.4 286.5,498.7 287.0,498.9 287.5,499.0 288.0,499.2 288.5,499.4 289.0,499.5 289.5,499.6 290.0,499.8 290.5,499.9 291.0,499.8 291.5,499.7 292.0,499.5 292.5,499.4 293.0,499.4 293.5,499.6 294.0,499.8 294.5,500.1 295.0,500.3 295.5,500.4 296.0,500.4 296.5,500.3 297.0,500.3 297.5,500.1 298.0,499.8 298.5,499.4 299.0,499.3 299.5,499.6 300.0,500.0 300.5,500.2 301.0,500.2 301.5,500.1 302.0,500.0 302.5,499.9 303.0,499.9 303.5,499.9 304.0,499.8 304.5,499.7 305.0,499.5 305.5,499.6 306.0,499.8 306.5,500.0 307.0,500.2 307.5,500.1 308.0,500.0 308.5,499.8 309.0,499.9 309.5,500.1 310.0,500.4 310.5,500.7 311.0,500.9 311.5,501.0 312.0,500.9 312.5,500.8 313.0,500.6 313.5,500.5 314.0,500.3 314.5,500.3 315.0,500.4 315.5,500.7 316.0,501.2 316.5,501.6 317.0,501.8 317.5,501.6 318.0,501.3 318.5,501.0 319.0,500.8 319.5,500.6 320.0,500.5 320.5,500.5 321.0,500.7 321.5,500.7 322.0,500.7 322.5,500.6 323.0,500.5 323.5,500.4 324.0,500.3 324.5,500.4 325.0,500.7 325.5,500.9 326.0,500.8 326.5,500.7 327.0,500.6 327.5,500.5 328.0,500.4 328.5,500.3 329.0,500.4 329.5,500.5 330.0,500.7 330.5,500.7 331.0,500.7 331.5,500.8 332.0,501.0 332.5,501.1 333.0,501.2 333.5,501.1 334.0,501.1 334.5,501.1 335.0,501.1 335.5,501.0 336.0,501.0 336.5,501.0 337.0,501.1 337.5,501.1 338.0,500.9 338.5,500.9 339.0,501.2 339.5,501.6 340.0,501.8 340.5,501.6 341.0,501.3 341.5,501.3 342.0,501.5 342.5,501.5 343.0,501.5 343.5,501.4 344.0,501.5 344.5,501.7 345.0,501.9 345.5,502.1 346.0,502.1 346.5,501.9 347.0,501.7 347.5,501.6 348.0,501.6 348.5,501.6 349.0,501.3 349.5,501.2 350.0,501.4 350.5,501.9 351.0,502.3 351.5,502.5 352.0,502.5 352.5,502.3 353.0,502.0 353.5,501.5 354.0,501.2 354.5,501.1 355.0,501.2 355.5,501.4 356.0,501.5 356.5,501.5 357.0,501.7 357.5,502.0 358.0,502.4 358.5,502.8 359.0,502.9 359.5,502.7 360.0,502.5 360.5,502.2 361.0,502.0 361.5,501.9 362.0,501.9 362.5,501.9 363.0,501.9 363.5,501.9 364.0,501.9 364.5,501.9 365.0,501.9 365.5,501.8 366.0,501.7 366.5,501.6 367.0,501.6 367.5,501.8 368.0,502.1 368.5,502.4 369.0,502.5 369.5,502.5 370.0,502.5 370.5,502.5 371.0,502.5 371.5,502.5 372.0,502.6 372.5,502.5 373.0,502.2 373.5,501.9 374.0,501.6 374.5,501.6 375.0,501.8 375.5,502.2 376.0,502.4 376.5,502.3 377.0,502.1 377.5,501.9 378.0,501.9 378.5,501.9 379.0,502.0 379.5,501.9 380.0,501.8 380.5,501.9 381.0,501.9 381.5,502.0 382.0,502.1 382.5,502.3 383.0,502.6 383.5,502.8 384.0,502.7 384.5,502.5 385.0,502.3 385.5,502.4 386.0,502.8 386.5,503.1 387.0,503.3 387.5,503.2 388.0,503.0 388.5,502.9 389.0,502.9 389.5,502.9 390.0,503.0 390.5,503.1 391.0,503.1 391.5,503.0 392.0,502.6 392.5,502.1 393.0,501.9 393.5,501.9 394.0,502.1 394.5,502.4 395.0,502.5 395.5,502.5 396.0,502.3 396.5,502.3 397.0,502.4 397.5,502.6 398.0,502.7 398.5,503.1 399.0,503.5 399.5,503.8 400.0,503.8 400.5,503.6 401.0,503.3 401.5,503.1 402.0,503.0 402.5,503.0 403.0,503.0 403.5,503.0 404.0,503.2 404.5,503.3 405.0,503.4 405.5,503.4 406.0,503.3 406.5,503.2 407.0,503.0 407.5,502.8 408.0,502.6 408.5,502.3 409.0,502.2 409.5,502.2 410.0,502.6 410.5,503.0 411.0,503.5 411.5,504.0 412.0,504.3 412.5,504.3 413.0,504.1 413.5,503.9 414.0,503.6 414.5,503.5 415.0,503.6 415.5,503.6 416.0,503.5 416.5,503.4 417.0,503.4 417.5,503.6 418.0,503.6 418.5,503.4 419.0,503.0 419.5,502.8 420.0,502.8 420.5,503.0 421.0,503.2 421.5,503.4 422.0,503.6 422.5,503.7 423.0,503.8 423.5,503.8 424.0,503.7 424.5,503.7 425.0,503.8 425.5,503.8 426.0,503.7 426.5,503.5 427.0,503.3 427.5,503.2 428.0,503.3 428.5,503.4 429.0,503.7 429.5,503.9 430.0,504.0 430.5,504.1 431.0,503.8 431.5,503.5 432.0,503.3 432.5,503.1 433.0,502.9 433.5,502.8 434.0,503.1 434.5,503.6 435.0,503.8 435.5,503.9 436.0,503.8 436.5,503.7 437.0,503.7 437.5,503.7 438.0,503.7 438.5,503.8 439.0,503.9 439.5,504.0 440.0,503.9 440.5,503.6 441.0,503.2 441.5,503.1 442.0,503.2 442.5,503.2 443.0,503.3 443.5,503.5 444.0,503.7 444.5,503.8 445.0,503.9 445.5,503.9 446.0,503.8 446.5,503.6 447.0,503.5 447.5,503.6 448.0,503.8 448.5,503.8 449.0,503.8 449.5,503.8 450.0,503.7 450.5,503.4 451.0,502.8 451.5,502.4 452.0,502.2 452.5,502.3 453.0,502.4 453.5,502.3 454.0,501.9 454.5,501.7 455.0,501.6 455.5,501.6 456.0,501.7 456.5,501.7 457.0,501.7 457.5,501.5 458.0,501.3 458.5,501.0 459.0,500.6 459.5,500.1 460.0,499.8 460.5,499.5 461.0,499.2 461.5,498.7 462.0,498.1 462.5,497.6 463.0,496.9 463.5,496.3 464.0,495.5 464.5,494.8 465.0,493.9 465.5,492.8 466.0,491.6 466.5,490.0 467.0,488.1 467.5,486.2 468.0,484.7 468.5,483.4 469.0,482.2 469.5,480.9 470.0,479.4 470.5,477.5 471.0,475.4 471.5,472.9 472.0,470.1 472.5,466.5 473.0,462.0 473.5,456.4 474.0,449.7 474.5,442.0 475.0,433.2 475.5,423.7 476.0,414.0 476.5,405.2 477.0,398.0 477.5,393.4 478.0,392.0 478.5,394.1 479.0,399.6 479.5,407.8 480.0,417.8 480.5,428.2 481.0,438.1 481.5,447.2 482.0,455.5 482.5,462.9 483.0,469.4 483.5,474.8 484.0,479.3 484.5,483.1 485.0,486.3 485.5,489.0 486.0,491.2 486.5,492.9 487.0,494.1 487.5,495.0 488.0,495.8 488.5,496.6 489.0,497.3 489.5,498.1 490.0,498.7 490.5,499.1 491.0,499.3 491.5,499.4 492.0,499.3 492.5,499.1 493.0,499.0 493.5,498.8 494.0,498.4 494.5,498.0 495.0,497.6 495.5,497.4 496.0,497.7 496.5,498.2 497.0,498.7 497.5,499.1 498.0,499.4 498.5,499.6 499.0,499.8 499.5,500.1 500.0,500.3 500.5,500.6 501.0,500.8 501.5,500.9 502.0,500.7 502.5,500.3 503.0,499.7 503.5,499.1 504.0,498.5 504.5,497.9 505.0,497.3 505.5,496.6 506.0,495.7 506.5,494.6 507.0,493.4 507.5,492.3 508.0,491.4 508.5,490.9 509.0,490.9 509.5,491.4 510.0,492.2 510.5,493.0 511.0,494.0 511.5,495.0 512.0,496.2 512.5,497.4 513.0,498.5 513.5,499.5 514.0,500.3 514.5,501.0 515.0,501.5 515.5,501.9 516.0,502.2 516.5,502.1 517.0,502.0 517.5,502.0 518.0,502.3 518.5,502.7 519.0,503.0 519.5,503.1 520.0,503.1 520.5,503.0 521.0,502.9 521.5,502.8 522.0,502.7 522.5,502.8 523.0,503.0 523.5,503.3 524.0,503.4 524.5,503.4 525.0,503.3 525.5,503.4 526.0,503.5 526.5,503.7 527.0,503.8 527.5,503.8 528.0,503.9 528.5,503.9 529.0,503.8 529.5,503.7 530.0,503.4 530.5,503.2 531.0,503.0 531.5,503.0 532.0,503.0 532.5,503.2 533.0,503.3 533.5,503.4 534.0,503.6 534.5,503.8 535.0,503.9 535.5,503.8 536.0,503.6 536.5,503.5 537.0,503.5 537.5,503.8 538.0,504.2 538.5,504.4 539.0,504.2 539.5,503.7 540.0,503.2 540.5,502.9 541.0,502.9 541.5,503.1 542.0,503.3 542.5,503.5 543.0,503.8 543.5,504.1 544.0,504.1 544.5,503.9 545.0,503.5 545.5,503.1 546.0,503.0 546.5,503.0 547.0,503.3 547.5,503.7 548.0,504.1 548.5,504.3 549.0,504.2 549.5,504.0 550.0,503.8 550.5,503.8 551.0,504.1 551.5,504.1 552.0,503.9 552.5,503.5 553.0,503.2 553.5,503.0 554.0,503.0 554.5,503.0 555.0,503.3 555.5,503.5 556.0,503.6 556.5,503.5 557.0,503.2 557.5,503.1 558.0,503.0 558.5,503.0 559.0,502.9 559.5,502.8 560.0,502.8 560.5,503.0 561.0,503.4 561.5,503.8 562.0,504.0 562.5,504.1 563.0,504.3 563.5,504.4 564.0,504.3 564.5,504.0 565.0,503.6 565.5,503.3 566.0,503.2 566.5,503.3 567.0,503.5 567.5,503.7 568.0,503.8 568.5,503.7 569.0,503.4 569.5,503.0 570.0,502.7 570.5,502.6 571.0,502.8 571.5,503.3 572.0,503.5 572.5,503.5 573.0,503.2 573.5,503.0 574.0,502.9 574.5,502.9 575.0,502.7 575.5,502.5 576.0,502.4 576.5,502.5 577.0,502.8 577.5,503.2 578.0,503.4 578.5,503.7 579.0,503.9 579.5,504.1 580.0,504.1 580.5,503.9 581.0,503.5 581.5,503.0 582.0,502.8 582.5,502.9 583.0,503.2 583.5,503.6 584.0,503.8 584.5,503.7 585.0,503.5 585.5,503.3 586.0,503.3 586.5,503.4 587.0,503.5 587.5,503.3 588.0,503.2 588.5,503.1 589.0,503.1 589.5,503.1 590.0,503.1 590.5,503.1 591.0,503.1 591.5,503.0 592.0,502.9 592.5,503.1 593.0,503.2 593.5,503.2 594.0,503.1 594.5,502.7 595.0,502.2 595.5,501.8 596.0,501.7 596.5,501.8 597.0,501.9 597.5,502.0 598.0,502.0 598.5,502.0 599.0,501.9 599.5,501.6 600.0,501.3 600.5,500.9 601.0,500.6 601.5,500.2 602.0,499.8 602.5,499.3 603.0,498.9 603.5,498.6 604.0,498.4 604.5,498.0 605.0,497.5 605.5,496.9 606.0,496.5 606.5,496.1 607.0,495.6 607.5,494.7 608.0,493.7 608.5,492.5 609.0,491.1 609.5,489.7 610.0,488.5 610.5,487.6 611.0,486.7 611.5,485.5 612.0,483.8 612.5,481.6 613.0,479.0 613.5,476.0 614.0,472.7 614.5,468.9 615.0,464.7 615.5,459.9 616.0,454.4 616.5,448.2 617.0,441.1 617.5,432.9 618.0,423.3 618.5,412.2 619.0,399.7 619.5,385.7 620.0,370.2 620.5,353.2 621.0,334.9 621.5,315.5 622.0,295.5 622.5,275.5 623.0,256.8 623.5,240.4 624.0,227.5 624.5,219.2 625.0,216.3 625.5,219.3 626.0,227.8 626.5,241.0 627.0,257.7 627.5,276.5 628.0,296.2 628.5,315.9 629.0,335.0 629.5,353.1 630.0,369.9 630.5,385.2 631.0,398.9 631.5,411.0 632.0,422.0 632.5,431.8 633.0,440.4 633.5,447.8 634.0,454.1 634.5,459.7 635.0,464.6 635.5,469.0 636.0,472.7 636.5,475.8 637.0,478.3 637.5,480.6 638.0,482.8 638.5,484.8 639.0,486.7 639.5,488.5 640.0,490.2 640.5,491.8 641.0,493.1 641.5,494.1 642.0,494.9 642.5,495.7 643.0,496.4 643.5,496.9 644.0,497.4 644.5,497.9 645.0,498.5 645.5,499.2 646.0,499.7 646.5,500.2 647.0,500.4 647.5,500.5 648.0,500.6 648.5,500.9 649.0,501.2 649.5,501.5 650.0,501.5 650.5,501.4 651.0,501.4 651.5,501.5 652.0,501.7 652.5,502.1 653.0,502.4 653.5,502.4 654.0,502.3 654.5,502.4 655.0,502.6 655.5,502.8 656.0,502.9 656.5,502.8 657.0,502.5 657.5,502.3 658.0,502.4 658.5,502.8 659.0,503.3 659.5,503.7 660.0,503.7 660.5,503.6 661.0,503.5 661.5,503.7 662.0,504.1 662.5,504.6 663.0,504.9 663.5,504.8 664.0,504.5 664.5,504.1 665.0,503.7 665.5,503.6 666.0,503.8 666.5,504.2 667.0,504.5 667.5,504.6 668.0,504.4 668.5,504.2 669.0,504.0 669.5,503.9 670.0,504.0 670.5,504.0 671.0,504.1 671.5,504.1 672.0,504.1 672.5,504.2 673.0,504.3 673.5,504.6 674.0,504.7 674.5,504.7 675.0,504.5 675.5,504.5 676.0,504.6 676.5,504.9 677.0,505.2 677.5,505.3 678.0,505.4 678.5,505.3 679.0,505.0 679.5,504.8 680.0,504.7 680.5,504.7 681.0,504.7 681.5,504.7 682.0,504.8 682.5,504.9 683.0,505.1 683.5,505.2 684.0,505.4 684.5,505.4 685.0,505.0 685.5,504.4 686.0,503.9 686.5,503.8 687.0,503.9 687.5,504.3 688.0,504.7 688.5,505.0 689.0,504.9 689.5,504.5 690.0,504.1 690.5,504.0 691.0,504.0 691.5,503.9 692.0,503.8 692.5,503.7 693.0,503.8 693.5,504.0 694.0,504.0 694.5,503.7 695.0,503.1 695.5,502.7 696.0,502.5 696.5,502.4 697.0,502.0 697.5,501.4 698.0,501.0 698.5,500.7 699.0,500.3 699.5,499.5 700.0,498.2 700.5,496.6 701.0,494.9 701.5,493.0 702.0,491.1 702.5,489.2 703.0,486.9 703.5,484.3 704.0,481.8 704.5,479.7 705.0,478.4 705.5,478.1 706.0,478.8 706.5,480.4 707.0,482.5 707.5,484.9 708.0,487.2 708.5,489.6 709.0,491.8 709.5,493.8 710.0,495.4 710.5,496.8 711.0,498.0 711.5,499.1 712.0,500.1 712.5,500.9 713.0,501.4 713.5,501.7 714.0,501.9 714.5,502.1 715.0,502.4 715.5,503.0 716.0,503.5 716.5,504.0 717.0,504.2 717.5,504.4 718.0,504.4 718.5,504.3 719.0,504.4 719.5,504.4 720.0,504.6 720.5,504.7 721.0,504.8 721.5,504.9 722.0,505.0 722.5,505.0 723.0,504.9 723.5,504.9 724.0,504.9 724.5,504.8 725.0,504.8 725.5,504.9 726.0,505.1 726.5,505.3 727.0,505.4 727.5,505.4 728.0,505.4 728.5,505.3 729.0,505.3 729.5,505.3 730.0,505.2 730.5,505.2 731.0,505.1 731.5,504.9 732.0,504.7 732.5,504.8 733.0,505.0 733.5,505.2 734.0,505.4 734.5,505.5 735.0,505.5 735.5,505.5 736.0,505.4 736.5,505.4 737.0,505.6 737.5,505.9 738.0,506.1 738.5,506.0 739.0,505.9 739.5,505.6 740.0,505.5 740.5,505.3 741.0,505.2 741.5,505.1 742.0,504.9 742.5,505.0 743.0,505.2 743.5,505.5 744.0,505.6 744.5,505.5 745.0,505.3 745.5,505.2 746.0,505.2 746.5,505.3 747.0,505.5 747.5,505.7 748.0,505.8 748.5,505.9 749.0,506.0 749.5,505.9 750.0,505.7 750.5,505.7 751.0,505.6 751.5,505.6 752.0,505.6 752.5,505.9 753.0,506.3 753.5,506.5 754.0,506.5 754.5,506.3 755.0,506.2 755.5,506.2 756.0,506.2 756.5,506.3 757.0,506.4 757.5,506.3 758.0,506.1 758.5,505.9 759.0,505.7 759.5,505.8 760.0,505.9 760.5,506.2 761.0,506.3 761.5,506.4 762.0,506.4 762.5,506.4 763.0,506.5 763.5,506.4 764.0,506.3 764.5,506.3 765.0,506.3 765.5,506.3 766.0,506.2 766.5,506.1 767.0,506.1 767.5,506.1 768.0,506.0 768.5,506.0 769.0,506.1 769.5,506.2 770.0,506.2 770.5,506.3 771.0,506.5 771.5,506.6 772.0,506.6 772.5,506.3 773.0,506.0 773.5,505.8 774.0,505.8 774.5,506.0 775.0,506.4 775.5,506.8 776.0,507.0 776.5,507.1 777.0,506.9 777.5,506.7 778.0,506.6 778.5,506.3 779.0,506.0 779.5,505.6 780.0,505.5 780.5,505.5 781.0,505.7 781.5,506.0 782.0,506.1 782.5,506.2 783.0,506.3 783.5,506.4 784.0,506.5 784.5,506.3 785.0,506.2 785.5,506.1 786.0,506.3 786.5,506.4 787.0,506.5 787.5,506.4 788.0,506.3 788.5,506.2 789.0,506.1 789.5,505.9 790.0,505.8 790.5,505.8 791.0,505.9 791.5,506.1 792.0,506.2 792.5,506.2 793.0,506.0 793.5,505.6 794.0,505.5 794.5,505.6 795.0,505.8 795.5,506.2 796.0,506.4 796.5,506.5 797.0,506.5 797.5,506.6 798.0,506.8 798.5,507.0 799.0,507.2 799.5,507.1 800.0,507.0 800.5,506.8 801.0,506.7 801.5,506.6 802.0,506.5 802.5,506.4 803.0,506.3 803.5,506.3 804.0,506.4 804.5,506.6 805.0,506.8 805.5,507.0 806.0,507.0 806.5,506.8 807.0,506.5 807.5,506.3 808.0,506.3 808.5,506.3 809.0,506.2 809.5,506.1 810.0,506.1 810.5,506.1 811.0,506.2 811.5,506.3 812.0,506.5 812.5,506.4 813.0,506.2 813.5,506.0 814.0,505.8 814.5,505.6 815.0,505.7 815.5,505.7 816.0,505.8 816.5,506.0 817.0,506.3 817.5,506.7 818.0,506.9 818.5,506.8 819.0,506.6 819.5,506.5 820.0,506.6 820.5,506.6 821.0,506.3 821.5,506.0 822.0,505.7 822.5,505.6 823.0,505.6 823.5,505.7 824.0,505.6 824.5,505.3 825.0,505.1 825.5,505.1 826.0,505.3 826.5,505.4 827.0,505.5 827.5,505.5 828.0,505.5 828.5,505.6 829.0,505.7 829.5,505.7 830.0,505.7 830.5,505.7 831.0,505.7 831.5,505.8 832.0,505.7 832.5,505.6 833.0,505.5 833.5,505.6 834.0,505.6 834.5,505.6 835.0,505.7 835.5,505.8 836.0,505.8 836.5,505.7 837.0,505.5 837.5,505.4 838.0,505.4 838.5,505.4 839.0,505.3 839.5,505.2 840.0,505.1 840.5,505.0 841.0,504.8 841.5,504.5 842.0,504.3 842.5,504.0 843.0,503.9 843.5,504.0 844.0,504.2 844.5,504.3 845.0,504.2 845.5,503.8 846.0,503.5 846.5,503.4 847.0,503.5 847.5,503.6 848.0,503.8 848.5,504.0 849.0,504.0 849.5,503.9 850.0,503.6 850.5,503.3 851.0,503.0 851.5,502.7 852.0,502.5 852.5,502.3 853.0,502.0 853.5,501.8 854.0,501.7 854.5,501.6 855.0,501.6 855.5,501.4 856.0,501.1 856.5,500.9 857.0,500.8 857.5,500.6 858.0,500.2 858.5,499.7 859.0,499.2 859.5,498.8 860.0,498.6 860.5,498.6 861.0,498.7 861.5,498.7 862.0,498.6 862.5,498.4 863.0,498.1 863.5,497.7 864.0,497.3 864.5,497.1 865.0,496.9 865.5,496.7 866.0,496.5 866.5,496.2 867.0,496.1 867.5,496.3 868.0,496.6 868.5,497.0 869.0,497.2 869.5,497.3 870.0,497.4 870.5,497.5 871.0,497.6 871.5,497.8 872.0,498.1 872.5,498.1 873.0,497.9 873.5,497.5 874.0,497.3 874.5,497.3 875.0,497.5 875.5,497.6 876.0,497.6 876.5,497.5 877.0,497.3 877.5,497.2 878.0,497.3 878.5,497.4 879.0,497.3 879.5,497.2 880.0,497.1 880.5,497.1 881.0,497.1 881.5,496.8 882.0,496.3 882.5,495.7 883.0,495.2 883.5,494.8 884.0,494.4 884.5,493.9 885.0,493.4 885.5,493.0 886.0,492.6 886.5,492.1 887.0,491.5 887.5,490.6 888.0,489.6 888.5,488.6 889.0,487.7 889.5,486.8 890.0,485.9 890.5,485.1 891.0,484.1 891.5,482.8 892.0,481.6 892.5,480.3 893.0,479.0 893.5,477.3 894.0,475.2 894.5,473.1 895.0,470.9 895.5,468.8 896.0,466.9 896.5,465.6 897.0,465.2 897.5,465.9 898.0,467.4 898.5,469.5 899.0,471.8 899.5,473.9 900.0,475.9 900.5,477.7 901.0,479.4 901.5,481.0 902.0,482.3 902.5,483.7 903.0,485.0 903.5,486.4 904.0,487.6 904.5,488.7 905.0,489.5 905.5,490.1 906.0,490.8 906.5,491.6 907.0,492.6 907.5,493.5 908.0,494.3 908.5,495.0 909.0,495.5 909.5,496.0 910.0,496.6 910.5,497.1 911.0,497.6 911.5,497.9 912.0,498.0 912.5,498.2 913.0,498.6 913.5,499.1 914.0,499.7 914.5,500.1 915.0,500.5 915.5,500.7 916.0,500.7 916.5,500.5 917.0,500.5 917.5,500.8 918.0,501.2 918.5,501.5 919.0,501.7 919.5,501.7 920.0,501.9 920.5,502.1 921.0,502.4 921.5,502.5 922.0,502.6 922.5,502.6 923.0,502.5 923.5,502.4 924.0,502.3 924.5,502.5 925.0,502.8 925.5,503.0 926.0,503.2 926.5,503.5 927.0,503.8 927.5,503.9 928.0,503.8 928.5,503.8 929.0,503.8 929.5,503.8 930.0,503.7 930.5,503.4 931.0,503.3 931.5,503.6 932.0,504.0 932.5,504.3 933.0,504.5 933.5,504.5 934.0,504.7 934.5,504.9 935.0,505.2 935.5,505.3 936.0,505.1 936.5,504.9 937.0,504.7 937.5,504.7 938.0,505.0 938.5,505.2 939.0,505.3 939.5,505.2 940.0,505.1 940.5,505.0 941.0,505.0 941.5,505.0 942.0,505.0 942.5,505.0 943.0,505.0 943.5,505.0 944.0,505.0 944.5,505.1 945.0,505.3 945.5,505.3 946.0,505.2 946.5,505.1 947.0,504.9 947.5,504.9 948.0,505.1 948.5,505.4 949.0,505.5 949.5,505.4 950.0,505.2 950.5,505.0 951.0,504.9 951.5,504.9 952.0,505.0 952.5,505.1 953.0,505.1 953.5,505.2 954.0,505.3 954.5,505.4 955.0,505.3 955.5,505.2 956.0,505.1 956.5,505.2 957.0,505.1 957.5,505.1 958.0,505.2 958.5,505.4 959.0,505.7 959.5,505.9 960.0,506.0 960.5,505.8 961.0,505.4 961.5,505.1 962.0,504.9 962.5,504.8 963.0,504.8 963.5,504.9 964.0,504.9 964.5,504.9 965.0,505.0 965.5,505.2 966.0,505.3 966.5,505.4 967.0,505.4 967.5,505.4 968.0,505.4 968.5,505.4 969.0,505.3 969.5,505.3 970.0,505.2 970.5,504.9 971.0,504.8 971.5,504.9 972.0,505.3 972.5,505.7 973.0,505.8 973.5,505.7 974.0,505.3 974.5,505.0 975.0,504.9 975.5,505.0 976.0,505.0 976.5,504.8 977.0,504.5 977.5,504.3 978.0,504.1 978.5,504.1 979.0,503.9 979.5,503.7 980.0,503.5 980.5,503.2 981.0,503.0 981.5,503.0 982.0,503.2 982.5,503.3 983.0,503.4 983.5,503.5 984.0,503.6 984.5,503.7 985.0,503.6 985.5,503.4 986.0,503.2 986.5,503.3 987.0,503.5 987.5,503.4 988.0,503.1 988.5,502.7 989.0,502.4 989.5,502.2 990.0,502.0 990.5,501.7 991.0,501.3 991.5,500.9 992.0,500.5 992.5,500.2 993.0,499.9 993.5,499.7 994.0,499.4 994.5,499.2 995.0,499.0 995.5,498.6 996.0,497.8 996.5,496.9 997.0,495.8 997.5,494.8 998.0,493.9 998.5,492.9 999.0,492.0 999.5,491.0 1000.0,489.9 1000.5,488.4 1001.0,486.6 1001.5,484.4 1002.0,481.8 1002.5,478.8 1003.0,475.6 1003.5,472.0 1004.0,468.0 1004.5,463.7 1005.0,459.1 1005.5,454.4 1006.0,450.1 1006.5,446.6 1007.0,444.7 1007.5,444.5 1008.0,446.0 1008.5,448.9 1009.0,452.7 1009.5,456.8 1010.0,460.8 1010.5,464.4 1011.0,467.5 1011.5,470.2 1012.0,472.4 1012.5,474.3 1013.0,476.1 1013.5,477.9 1014.0,479.4 1014.5,480.6 1015.0,481.3 1015.5,481.5 1016.0,481.1 1016.5,480.4 1017.0,479.6 1017.5,478.9 1018.0,478.2 1018.5,477.1 1019.0,475.6 1019.5,473.8 1020.0,471.8 1020.5,469.3 1021.0,466.1 1021.5,462.4 1022.0,458.4 1022.5,454.3 1023.0,450.6 1023.5,447.4 1024.0,445.4 1024.5,444.7 1025.0,445.5 1025.5,448.0 1026.0,451.8 1026.5,456.4 1027.0,461.3 1027.5,466.0 1028.0,470.5 1028.5,474.5 1029.0,478.1 1029.5,481.1 1030.0,483.7 1030.5,485.8 1031.0,487.7 1031.5,489.3 1032.0,490.9 1032.5,492.4 1033.0,493.6 1033.5,494.4 1034.0,495.2 1034.5,496.0 1035.0,496.9 1035.5,497.7 1036.0,498.3 1036.5,498.7 1037.0,499.1 1037.5,499.4 1038.0,499.7 1038.5,499.9 1039.0,500.2 1039.5,500.7 1040.0,501.3 1040.5,501.9 1041.0,502.2 1041.5,502.2 1042.0,502.2 1042.5,502.4 1043.0,502.7 1043.5,503.0 1044.0,503.4 1044.5,503.8 1045.0,504.1 1045.5,504.3 1046.0,504.3 1046.5,504.0 1047.0,503.7 1047.5,503.6 1048.0,503.8 1048.5,504.2 1049.0,504.4 1049.5,504.6 1050.0,504.9 1050.5,505.2 1051.0,505.3 1051.5,505.0 1052.0,504.7 1052.5,504.5 1053.0,504.6 1053.5,504.8 1054.0,505.0 1054.5,505.2 1055.0,505.6 1055.5,505.7 1056.0,505.5 1056.5,505.2 1057.0,505.1 1057.5,505.0 1058.0,504.9 1058.5,504.9 1059.0,505.1 1059.5,505.2 1060.0,505.2 1060.5,505.0 1061.0,504.9 1061.5,504.9 1062.0,505.0 1062.5,505.2 1063.0,505.4 1063.5,505.4 1064.0,505.4 1064.5,505.4 1065.0,505.3 1065.5,505.1 1066.0,504.9 1066.5,504.7 1067.0,504.5 1067.5,504.3 1068.0,504.2 1068.5,504.3 1069.0,504.7 1069.5,505.1 1070.0,505.4 1070.5,505.4 1071.0,505.3 1071.5,505.2 1072.0,505.3 1072.5,505.1 1073.0,504.6 1073.5,504.3 1074.0,504.3 1074.5,504.3 1075.0,504.3 1075.5,504.2 1076.0,504.1 1076.5,503.9 1077.0,503.4 1077.5,502.7 1078.0,502.2 1078.5,501.8 1079.0,501.4 1079.5,500.6 1080.0,499.8 1080.5,499.0 1081.0,498.5 1081.5,497.9 1082.0,497.1 1082.5,495.9 1083.0,494.5 1083.5,492.9 1084.0,491.1 1084.5,489.2 1085.0,487.2 1085.5,485.3 1086.0,483.4 1086.5,481.8 1087.0,480.5 1087.5,479.7 1088.0,479.4 1088.5,479.9 1089.0,481.3 1089.5,483.4 1090.0,485.8 1090.5,488.1 1091.0,490.0 1091.5,491.7 1092.0,493.3 1092.5,494.8 1093.0,496.1 1093.5,497.1 1094.0,497.8 1094.5,498.6 1095.0,499.3 1095.5,500.1 1096.0,500.6 1096.5,501.1 1097.0,501.6 1097.5,502.2 1098.0,502.8 1098.5,503.2 1099.0,503.4 1099.5,503.4 1100.0,503.3 1100.5,503.2 1101.0,503.1 1101.5,503.2 1102.0,503.4 1102.5,503.7 1103.0,503.9 1103.5,504.1 1104.0,504.4 1104.5,504.6 1105.0,504.7 1105.5,504.6 1106.0,504.4 1106.5,504.2"/>
<polyline fill="none" stroke="#1e7a40" stroke-width="3.9" stroke-linejoin="round" points="58.5,411.4 59.0,411.2 59.5,411.0 60.0,410.9 60.5,410.8 61.0,410.7 61.5,410.7 62.0,411.0 62.5,411.5 63.0,411.8 63.5,411.7 64.0,411.4 64.5,411.0 65.0,410.8 65.5,410.8 66.0,411.0 66.5,411.2 67.0,411.4 67.5,411.5 68.0,411.6 68.5,411.7 69.0,411.7 69.5,411.6 70.0,411.5 70.5,411.5 71.0,411.7 71.5,411.7 72.0,411.6 72.5,411.4 73.0,411.3 73.5,411.2 74.0,411.3 74.5,411.4 75.0,411.4 75.5,411.2 76.0,410.9 76.5,410.7 77.0,410.5 77.5,410.5 78.0,410.6 78.5,410.8 79.0,410.9 79.5,410.9 80.0,410.8 80.5,411.0 81.0,411.3 81.5,411.5 82.0,411.6 82.5,411.5 83.0,411.3 83.5,411.1 84.0,410.9 84.5,410.9 85.0,410.9 85.5,410.7 86.0,410.4 86.5,410.2 87.0,410.2 87.5,410.3 88.0,410.3 88.5,410.2 89.0,410.1 89.5,410.0 90.0,410.0 90.5,409.9 91.0,410.0 91.5,410.1 92.0,410.0 92.5,409.9 93.0,409.8 93.5,409.9 94.0,410.0 94.5,410.0 95.0,409.9 95.5,409.7 96.0,409.7 96.5,409.7 97.0,409.5 97.5,409.3 98.0,409.3 98.5,409.5 99.0,409.7 99.5,409.6 100.0,409.3 100.5,408.9 101.0,408.4 101.5,408.1 102.0,407.9 102.5,407.7 103.0,407.4 103.5,407.2 104.0,407.1 104.5,406.9 105.0,406.5 105.5,406.1 106.0,405.8 106.5,405.7 107.0,405.7 107.5,405.4 108.0,404.9 108.5,404.3 109.0,403.7 109.5,403.1 110.0,402.4 110.5,401.7 111.0,400.9 111.5,400.2 112.0,399.5 112.5,398.8 113.0,397.9 113.5,396.4 114.0,394.5 114.5,392.2 115.0,390.0 115.5,387.8 116.0,385.5 116.5,382.9 117.0,379.9 117.5,376.3 118.0,372.0 118.5,367.2 119.0,361.8 119.5,355.9 120.0,348.9 120.5,340.5 121.0,330.5 121.5,318.8 122.0,305.2 122.5,289.5 123.0,271.1 123.5,249.9 124.0,226.1 124.5,200.3 125.0,173.4 125.5,146.5 126.0,121.4 126.5,100.7 127.0,86.8 127.5,82.0 128.0,86.8 128.5,100.6 129.0,121.5 129.5,146.8 130.0,173.6 130.5,200.3 131.0,225.8 131.5,249.3 132.0,270.5 132.5,289.1 133.0,305.1 133.5,318.7 134.0,330.3 134.5,340.1 135.0,348.5 135.5,355.9 136.0,362.3 136.5,367.7 137.0,372.5 137.5,376.7 138.0,380.5 138.5,383.8 139.0,386.7 139.5,389.3 140.0,391.6 140.5,393.6 141.0,395.1 141.5,396.4 142.0,397.7 142.5,399.0 143.0,400.3 143.5,401.6 144.0,402.6 144.5,403.5 145.0,404.2 145.5,404.7 146.0,405.1 146.5,405.6 147.0,406.2 147.5,406.9 148.0,407.6 148.5,408.2 149.0,408.4 149.5,408.4 150.0,408.4 150.5,408.5 151.0,408.8 151.5,409.0 152.0,409.3 152.5,409.6 153.0,409.8 153.5,409.9 154.0,409.8 154.5,409.6 155.0,409.5 155.5,409.5 156.0,409.7 156.5,410.0 157.0,410.4 157.5,410.6 158.0,410.7 158.5,410.6 159.0,410.3 159.5,409.8 160.0,409.3 160.5,408.9 161.0,408.6 161.5,408.4 162.0,408.2 162.5,407.8 163.0,407.1 163.5,406.1 164.0,404.8 164.5,403.2 165.0,401.2 165.5,398.7 166.0,395.3 166.5,390.8 167.0,385.1 167.5,378.7 168.0,373.8 168.5,372.9 169.0,374.6 169.5,377.5 170.0,380.7 170.5,383.5 171.0,385.7 171.5,387.6 172.0,389.2 172.5,390.6 173.0,391.7 173.5,392.6 174.0,393.4 174.5,394.3 175.0,395.1 175.5,395.9 176.0,396.6 176.5,397.2 177.0,397.7 177.5,398.1 178.0,398.5 178.5,399.1 179.0,399.8 179.5,400.3 180.0,400.6 180.5,400.9 181.0,401.3 181.5,401.9 182.0,402.5 182.5,402.9 183.0,403.2 183.5,403.5 184.0,403.9 184.5,404.3 185.0,404.5 185.5,404.6 186.0,404.8 186.5,404.9 187.0,405.2 187.5,405.4 188.0,405.5 188.5,405.5 189.0,405.6 189.5,405.9 190.0,406.4 190.5,406.9 191.0,407.3 191.5,407.4 192.0,407.5 192.5,407.6 193.0,407.6 193.5,407.7 194.0,407.9 194.5,408.1 195.0,408.2 195.5,408.2 196.0,408.3 196.5,408.5 197.0,408.6 197.5,408.6 198.0,408.5 198.5,408.4 199.0,408.4 199.5,408.5 200.0,408.6 200.5,408.9 201.0,409.1 201.5,409.2 202.0,409.1 202.5,408.9 203.0,408.7 203.5,408.8 204.0,409.0 204.5,409.3 205.0,409.6 205.5,409.7 206.0,409.7 206.5,409.5 207.0,409.1 207.5,408.8 208.0,408.8 208.5,408.8 209.0,408.8 209.5,408.9 210.0,408.9 210.5,408.9 211.0,409.0 211.5,409.3 212.0,409.6 212.5,410.0 213.0,410.2 213.5,410.1 214.0,409.8 214.5,409.5 215.0,409.5 215.5,409.7 216.0,410.0 216.5,410.1 217.0,410.1 217.5,409.9 218.0,409.8 218.5,409.6 219.0,409.3 219.5,409.1 220.0,409.0 220.5,409.1 221.0,409.3 221.5,409.6 222.0,410.1 222.5,410.6 223.0,410.8 223.5,410.8 224.0,410.5 224.5,410.3 225.0,410.2 225.5,410.0 226.0,409.7 226.5,409.4 227.0,409.3 227.5,409.5 228.0,409.8 228.5,410.0 229.0,410.0 229.5,409.9 230.0,410.0 230.5,410.2 231.0,410.4 231.5,410.5 232.0,410.5 232.5,410.5 233.0,410.5 233.5,410.5 234.0,410.7 234.5,410.9 235.0,411.1 235.5,411.1 236.0,410.9 236.5,410.7 237.0,410.7 237.5,410.8 238.0,410.9 238.5,411.0 239.0,410.9 239.5,410.7 240.0,410.4 240.5,410.3 241.0,410.5 241.5,410.7 242.0,410.8 242.5,410.8 243.0,410.8 243.5,411.0 244.0,411.1 244.5,411.3 245.0,411.5 245.5,411.7 246.0,411.8 246.5,411.9 247.0,412.0 247.5,411.9 248.0,411.8 248.5,411.7 249.0,411.8 249.5,412.0 250.0,412.2 250.5,412.4 251.0,412.6 251.5,412.6 252.0,412.3 252.5,412.0 253.0,411.9 253.5,412.0 254.0,412.2 254.5,412.3 255.0,412.3 255.5,412.2 256.0,412.1 256.5,412.2 257.0,412.4 257.5,412.3 258.0,412.2 258.5,412.3 259.0,412.5 259.5,412.8 260.0,413.0 260.5,413.2 261.0,413.4 261.5,413.6 262.0,413.7 262.5,413.7 263.0,413.6 263.5,413.5 264.0,413.4 264.5,413.4 265.0,413.5 265.5,413.5 266.0,413.4 266.5,413.3 267.0,413.3 267.5,413.4 268.0,413.5 268.5,413.6 269.0,413.6 269.5,413.6 270.0,413.6 270.5,413.7 271.0,413.9 271.5,414.0 272.0,413.9 272.5,413.8 273.0,413.7 273.5,413.6 274.0,413.3 274.5,413.1 275.0,413.1 275.5,413.2 276.0,413.4 276.5,413.6 277.0,413.7 277.5,413.7 278.0,413.6 278.5,413.5 279.0,413.4 279.5,413.4 280.0,413.5 280.5,413.6 281.0,413.8 281.5,413.9 282.0,414.0 282.5,414.2 283.0,414.4 283.5,414.4 284.0,414.4 284.5,414.3 285.0,414.4 285.5,414.6 286.0,414.9 286.5,415.2 287.0,415.2 287.5,415.1 288.0,415.0 288.5,414.9 289.0,415.0 289.5,415.0 290.0,415.0 290.5,414.9 291.0,415.1 291.5,415.4 292.0,415.8 292.5,415.8 293.0,415.4 293.5,414.9 294.0,414.6 294.5,414.6 295.0,414.7 295.5,414.8 296.0,414.8 296.5,414.8 297.0,414.9 297.5,415.0 298.0,415.2 298.5,415.3 299.0,415.3 299.5,415.1 300.0,415.1 300.5,415.1 301.0,415.2 301.5,415.2 302.0,415.3 302.5,415.5 303.0,415.8 303.5,416.2 304.0,416.5 304.5,416.8 305.0,416.9 305.5,416.9 306.0,416.8 306.5,416.7 307.0,416.4 307.5,416.3 308.0,416.3 308.5,416.5 309.0,416.7 309.5,416.7 310.0,416.8 310.5,416.8 311.0,416.8 311.5,416.7 312.0,416.5 312.5,416.4 313.0,416.4 313.5,416.5 314.0,416.7 314.5,416.9 315.0,416.9 315.5,416.8 316.0,416.7 316.5,416.6 317.0,416.4 317.5,416.4 318.0,416.4 318.5,416.6 319.0,416.7 319.5,416.7 320.0,416.7 320.5,416.8 321.0,417.1 321.5,417.4 322.0,417.4 322.5,417.3 323.0,417.0 323.5,416.9 324.0,416.9 324.5,416.9 325.0,417.0 325.5,417.1 326.0,417.4 326.5,417.6 327.0,417.8 327.5,417.8 328.0,417.7 328.5,417.7 329.0,417.6 329.5,417.6 330.0,417.7 330.5,417.8 331.0,417.8 331.5,417.7 332.0,417.6 332.5,417.5 333.0,417.4 333.5,417.3 334.0,417.1 334.5,417.1 335.0,417.3 335.5,417.6 336.0,417.8 336.5,417.9 337.0,417.8 337.5,417.8 338.0,417.8 338.5,417.7 339.0,417.3 339.5,416.7 340.0,416.4 340.5,416.6 341.0,417.1 341.5,417.4 342.0,417.5 342.5,417.6 343.0,417.6 343.5,417.8 344.0,417.9 344.5,417.9 345.0,417.9 345.5,417.8 346.0,417.9 346.5,418.1 347.0,418.3 347.5,418.1 348.0,417.7 348.5,417.3 349.0,417.4 349.5,417.7 350.0,418.0 350.5,418.0 351.0,417.8 351.5,417.7 352.0,417.7 352.5,417.8 353.0,417.9 353.5,418.1 354.0,418.2 354.5,418.3 355.0,418.2 355.5,418.0 356.0,417.9 356.5,417.8 357.0,417.9 357.5,418.0 358.0,417.9 358.5,417.7 359.0,417.5 359.5,417.5 360.0,417.6 360.5,417.7 361.0,417.9 361.5,417.9 362.0,417.8 362.5,417.7 363.0,417.6 363.5,417.6 364.0,417.7 364.5,417.9 365.0,418.2 365.5,418.5 366.0,418.7 366.5,418.8 367.0,418.8 367.5,418.5 368.0,418.1 368.5,417.7 369.0,417.5 369.5,417.3 370.0,417.3 370.5,417.4 371.0,417.6 371.5,417.8 372.0,417.9 372.5,417.9 373.0,417.9 373.5,418.0 374.0,418.1 374.5,418.3 375.0,418.4 375.5,418.4 376.0,418.3 376.5,418.2 377.0,418.2 377.5,418.1 378.0,418.0 378.5,417.9 379.0,417.7 379.5,417.6 380.0,417.7 380.5,417.9 381.0,418.0 381.5,417.9 382.0,417.8 382.5,417.5 383.0,417.3 383.5,417.2 384.0,417.3 384.5,417.4 385.0,417.5 385.5,417.7 386.0,418.0 386.5,418.3 387.0,418.6 387.5,418.7 388.0,418.5 388.5,418.1 389.0,417.6 389.5,417.2 390.0,417.1 390.5,417.2 391.0,417.7 391.5,418.2 392.0,418.5 392.5,418.4 393.0,418.2 393.5,418.1 394.0,418.1 394.5,418.3 395.0,418.6 395.5,419.0 396.0,419.3 396.5,419.3 397.0,419.1 397.5,418.9 398.0,418.7 398.5,418.7 399.0,418.5 399.5,418.2 400.0,417.9 400.5,417.7 401.0,417.8 401.5,417.9 402.0,417.8 402.5,417.7 403.0,417.8 403.5,418.0 404.0,418.2 404.5,418.3 405.0,418.2 405.5,418.2 406.0,418.2 406.5,418.2 407.0,418.0 407.5,417.8 408.0,417.6 408.5,417.7 409.0,418.0 409.5,418.2 410.0,418.3 410.5,418.0 411.0,417.8 411.5,417.7 412.0,417.7 412.5,417.6 413.0,417.5 413.5,417.5 414.0,417.7 414.5,417.8 415.0,417.8 415.5,417.7 416.0,417.6 416.5,417.6 417.0,417.9 417.5,418.1 418.0,418.2 418.5,418.1 419.0,418.0 419.5,417.9 420.0,417.9 420.5,417.8 421.0,417.8 421.5,417.8 422.0,417.7 422.5,417.6 423.0,417.6 423.5,417.7 424.0,417.9 424.5,418.1 425.0,418.1 425.5,417.9 426.0,417.8 426.5,417.7 427.0,417.9 427.5,418.0 428.0,418.0 428.5,418.0 429.0,417.9 429.5,417.8 430.0,417.8 430.5,417.8 431.0,417.9 431.5,417.9 432.0,417.6 432.5,417.3 433.0,417.1 433.5,417.0 434.0,417.1 434.5,417.3 435.0,417.6 435.5,418.0 436.0,418.2 436.5,418.2 437.0,418.0 437.5,417.7 438.0,417.4 438.5,417.2 439.0,417.2 439.5,417.6 440.0,417.9 440.5,418.0 441.0,417.9 441.5,417.7 442.0,417.4 442.5,417.1 443.0,416.9 443.5,417.0 444.0,417.3 444.5,417.5 445.0,417.3 445.5,417.0 446.0,416.7 446.5,416.6 447.0,416.7 447.5,416.9 448.0,417.1 448.5,417.1 449.0,416.8 449.5,416.6 450.0,416.5 450.5,416.6 451.0,416.6 451.5,416.5 452.0,416.4 452.5,416.4 453.0,416.3 453.5,416.2 454.0,416.0 454.5,415.7 455.0,415.3 455.5,414.7 456.0,414.1 456.5,413.6 457.0,413.6 457.5,413.7 458.0,414.0 458.5,414.0 459.0,413.8 459.5,413.5 460.0,413.1 460.5,412.7 461.0,412.3 461.5,411.9 462.0,411.4 462.5,410.7 463.0,409.9 463.5,408.8 464.0,407.6 464.5,406.2 465.0,404.8 465.5,403.3 466.0,401.7 466.5,399.9 467.0,397.8 467.5,395.6 468.0,393.1 468.5,390.2 469.0,387.0 469.5,383.7 470.0,380.6 470.5,377.7 471.0,375.0 471.5,372.7 472.0,370.4 472.5,367.6 473.0,363.9 473.5,359.2 474.0,353.7 474.5,347.3 475.0,340.5 475.5,333.3 476.0,326.3 476.5,320.6 477.0,317.2 477.5,316.9 478.0,319.7 478.5,325.3 479.0,332.9 479.5,341.7 480.0,350.9 480.5,360.1 481.0,368.5 481.5,375.8 482.0,382.0 482.5,387.2 483.0,391.6 483.5,395.3 484.0,398.5 484.5,401.2 485.0,403.4 485.5,405.4 486.0,407.1 486.5,408.5 487.0,409.7 487.5,410.8 488.0,411.7 488.5,412.6 489.0,413.3 489.5,413.9 490.0,414.6 490.5,415.0 491.0,415.1 491.5,415.1 492.0,415.4 492.5,415.9 493.0,416.5 493.5,416.8 494.0,416.9 494.5,416.8 495.0,416.8 495.5,417.0 496.0,417.2 496.5,417.2 497.0,417.1 497.5,417.1 498.0,417.2 498.5,417.2 499.0,417.1 499.5,417.1 500.0,417.1 500.5,417.0 501.0,416.8 501.5,416.4 502.0,416.0 502.5,415.8 503.0,415.5 503.5,415.1 504.0,414.8 504.5,414.4 505.0,413.9 505.5,413.2 506.0,412.3 506.5,411.3 507.0,410.2 507.5,409.1 508.0,408.1 508.5,407.4 509.0,407.0 509.5,407.0 510.0,407.3 510.5,408.1 511.0,409.2 511.5,410.5 512.0,411.9 512.5,413.1 513.0,414.2 513.5,415.0 514.0,415.7 514.5,416.2 515.0,416.8 515.5,417.3 516.0,417.9 516.5,418.4 517.0,418.8 517.5,419.0 518.0,418.8 518.5,418.6 519.0,418.3 519.5,418.0 520.0,418.0 520.5,418.3 521.0,418.9 521.5,419.3 522.0,419.4 522.5,419.3 523.0,419.2 523.5,419.3 524.0,419.4 524.5,419.5 525.0,419.7 525.5,419.9 526.0,420.2 526.5,420.5 527.0,420.7 527.5,420.8 528.0,420.8 528.5,420.8 529.0,420.8 529.5,420.7 530.0,420.5 530.5,420.5 531.0,420.5 531.5,420.6 532.0,420.6 532.5,420.6 533.0,420.5 533.5,420.5 534.0,420.6 534.5,420.6 535.0,420.5 535.5,420.3 536.0,420.1 536.5,420.1 537.0,420.3 537.5,420.5 538.0,420.6 538.5,420.7 539.0,420.9 539.5,421.2 540.0,421.3 540.5,421.2 541.0,421.1 541.5,421.1 542.0,421.2 542.5,421.2 543.0,421.2 543.5,421.2 544.0,421.2 544.5,421.1 545.0,420.9 545.5,420.7 546.0,420.7 546.5,420.8 547.0,420.9 547.5,421.0 548.0,421.1 548.5,421.0 549.0,420.9 549.5,420.9 550.0,421.1 550.5,421.3 551.0,421.2 551.5,421.0 552.0,420.7 552.5,420.6 553.0,420.6 553.5,420.8 554.0,420.9 554.5,421.1 555.0,421.3 555.5,421.4 556.0,421.4 556.5,421.4 557.0,421.1 557.5,420.7 558.0,420.3 558.5,420.2 559.0,420.3 559.5,420.3 560.0,420.3 560.5,420.4 561.0,420.7 561.5,420.9 562.0,420.8 562.5,420.7 563.0,420.6 563.5,420.7 564.0,420.8 564.5,421.1 565.0,421.3 565.5,421.3 566.0,421.2 566.5,421.0 567.0,420.8 567.5,420.7 568.0,420.7 568.5,420.8 569.0,420.9 569.5,420.9 570.0,420.9 570.5,420.9 571.0,420.9 571.5,420.9 572.0,420.8 572.5,420.5 573.0,420.2 573.5,420.0 574.0,420.1 574.5,420.3 575.0,420.6 575.5,420.7 576.0,420.8 576.5,421.0 577.0,421.2 577.5,421.2 578.0,421.1 578.5,420.8 579.0,420.7 579.5,420.6 580.0,420.5 580.5,420.3 581.0,420.0 581.5,419.6 582.0,419.4 582.5,419.5 583.0,419.9 583.5,420.2 584.0,420.2 584.5,420.0 585.0,419.8 585.5,419.8 586.0,419.9 586.5,420.0 587.0,420.1 587.5,420.3 588.0,420.4 588.5,420.3 589.0,420.0 589.5,419.7 590.0,419.3 590.5,419.1 591.0,419.0 591.5,418.9 592.0,418.8 592.5,418.9 593.0,419.2 593.5,419.4 594.0,419.3 594.5,418.9 595.0,418.3 595.5,417.9 596.0,417.6 596.5,417.4 597.0,417.3 597.5,417.2 598.0,417.3 598.5,417.3 599.0,417.3 599.5,417.3 600.0,417.3 600.5,417.1 601.0,416.8 601.5,416.4 602.0,416.0 602.5,415.5 603.0,415.1 603.5,414.5 604.0,414.1 604.5,413.6 605.0,413.2 605.5,412.8 606.0,412.4 606.5,411.8 607.0,411.0 607.5,410.2 608.0,409.1 608.5,407.9 609.0,406.8 609.5,405.7 610.0,404.3 610.5,402.7 611.0,401.1 611.5,399.5 612.0,397.8 612.5,395.9 613.0,393.6 613.5,390.9 614.0,387.9 614.5,384.5 615.0,380.7 615.5,376.2 616.0,370.9 616.5,364.8 617.0,357.6 617.5,349.3 618.0,340.0 618.5,329.6 619.0,317.9 619.5,304.6 620.0,289.3 620.5,272.0 621.0,252.8 621.5,232.5 622.0,211.8 622.5,191.8 623.0,173.8 623.5,159.1 624.0,149.4 624.5,146.0 625.0,149.3 625.5,158.8 626.0,173.5 626.5,191.8 627.0,212.0 627.5,232.6 628.0,252.4 628.5,271.1 629.0,288.3 629.5,304.2 630.0,318.3 630.5,330.5 631.0,340.8 631.5,349.7 632.0,357.3 632.5,364.0 633.0,370.1 633.5,375.5 634.0,380.2 634.5,384.3 635.0,387.7 635.5,390.8 636.0,393.4 636.5,395.7 637.0,397.7 637.5,399.6 638.0,401.7 638.5,403.6 639.0,405.2 639.5,406.4 640.0,407.4 640.5,408.3 641.0,409.1 641.5,409.9 642.0,410.7 642.5,411.6 643.0,412.5 643.5,413.2 644.0,413.8 644.5,414.1 645.0,414.4 645.5,414.7 646.0,415.1 646.5,415.6 647.0,415.9 647.5,416.2 648.0,416.4 648.5,416.7 649.0,416.9 649.5,416.9 650.0,417.0 650.5,417.2 651.0,417.5 651.5,417.8 652.0,418.0 652.5,418.2 653.0,418.2 653.5,418.2 654.0,418.0 654.5,418.0 655.0,418.1 655.5,418.4 656.0,418.8 656.5,419.3 657.0,419.8 657.5,420.2 658.0,420.5 658.5,420.6 659.0,420.6 659.5,420.5 660.0,420.5 660.5,420.4 661.0,420.4 661.5,420.5 662.0,420.6 662.5,420.7 663.0,420.7 663.5,420.6 664.0,420.5 664.5,420.4 665.0,420.3 665.5,420.3 666.0,420.4 666.5,420.6 667.0,420.8 667.5,420.9 668.0,420.8 668.5,420.6 669.0,420.4 669.5,420.3 670.0,420.4 670.5,420.6 671.0,420.7 671.5,420.7 672.0,420.6 672.5,420.4 673.0,420.5 673.5,420.6 674.0,420.6 674.5,420.5 675.0,420.4 675.5,420.4 676.0,420.4 676.5,420.3 677.0,420.3 677.5,420.5 678.0,420.7 678.5,421.0 679.0,421.2 679.5,421.3 680.0,421.3 680.5,421.3 681.0,421.5 681.5,421.7 682.0,421.8 682.5,421.6 683.0,421.2 683.5,420.9 684.0,420.8 684.5,420.8 685.0,421.0 685.5,421.1 686.0,421.2 686.5,421.1 687.0,420.9 687.5,420.6 688.0,420.3 688.5,420.3 689.0,420.4 689.5,420.6 690.0,420.5 690.5,420.4 691.0,420.1 691.5,419.8 692.0,419.5 692.5,419.5 693.0,419.5 693.5,419.6 694.0,419.7 694.5,419.7 695.0,419.5 695.5,419.1 696.0,418.5 696.5,418.1 697.0,417.8 697.5,417.5 698.0,417.1 698.5,416.7 699.0,416.1 699.5,415.3 700.0,414.2 700.5,412.6 701.0,410.7 701.5,408.6 702.0,406.4 702.5,404.2 703.0,402.1 703.5,400.2 704.0,398.7 704.5,397.8 705.0,397.7 705.5,398.5 706.0,400.2 706.5,402.2 707.0,404.2 707.5,406.2 708.0,408.3 708.5,410.5 709.0,412.5 709.5,414.1 710.0,415.2 710.5,416.0 711.0,416.7 711.5,417.2 712.0,417.6 712.5,418.0 713.0,418.4 713.5,418.8 714.0,419.2 714.5,419.7 715.0,420.0 715.5,420.2 716.0,420.4 716.5,420.6 717.0,420.8 717.5,420.9 718.0,420.9 718.5,421.0 719.0,421.2 719.5,421.5 720.0,421.6 720.5,421.7 721.0,421.4 721.5,421.1 722.0,421.0 722.5,421.1 723.0,421.1 723.5,421.1 724.0,420.9 724.5,421.0 725.0,421.1 725.5,421.3 726.0,421.4 726.5,421.5 727.0,421.6 727.5,421.7 728.0,421.7 728.5,421.7 729.0,421.6 729.5,421.5 730.0,421.4 730.5,421.5 731.0,421.6 731.5,421.8 732.0,421.9 732.5,421.8 733.0,421.6 733.5,421.5 734.0,421.5 734.5,421.5 735.0,421.5 735.5,421.4 736.0,421.2 736.5,421.1 737.0,421.1 737.5,421.3 738.0,421.4 738.5,421.4 739.0,421.5 739.5,421.6 740.0,421.8 740.5,421.8 741.0,421.7 741.5,421.7 742.0,421.6 742.5,421.6 743.0,421.6 743.5,421.5 744.0,421.5 744.5,421.5 745.0,421.6 745.5,421.6 746.0,421.5 746.5,421.5 747.0,421.7 747.5,422.0 748.0,422.2 748.5,422.3 749.0,422.2 749.5,421.9 750.0,421.7 750.5,421.7 751.0,421.8 751.5,421.9 752.0,422.1 752.5,422.2 753.0,422.4 753.5,422.5 754.0,422.5 754.5,422.3 755.0,422.1 755.5,421.9 756.0,421.7 756.5,421.5 757.0,421.4 757.5,421.4 758.0,421.4 758.5,421.4 759.0,421.5 759.5,421.5 760.0,421.4 760.5,421.2 761.0,421.1 761.5,421.0 762.0,421.1 762.5,421.3 763.0,421.6 763.5,421.9 764.0,422.1 764.5,422.0 765.0,421.9 765.5,421.9 766.0,422.0 766.5,422.1 767.0,422.2 767.5,422.1 768.0,422.0 768.5,422.0 769.0,421.9 769.5,421.8 770.0,421.6 770.5,421.5 771.0,421.6 771.5,421.9 772.0,422.1 772.5,422.1 773.0,422.0 773.5,421.9 774.0,421.9 774.5,421.8 775.0,421.9 775.5,422.0 776.0,422.1 776.5,422.0 777.0,421.7 777.5,421.4 778.0,421.2 778.5,421.0 779.0,420.9 779.5,420.8 780.0,420.8 780.5,421.0 781.0,421.5 781.5,421.9 782.0,422.1 782.5,422.2 783.0,422.3 783.5,422.3 784.0,422.2 784.5,422.0 785.0,421.7 785.5,421.5 786.0,421.5 786.5,421.6 787.0,421.6 787.5,421.7 788.0,421.9 788.5,422.1 789.0,422.1 789.5,421.9 790.0,421.5 790.5,421.4 791.0,421.5 791.5,421.8 792.0,422.0 792.5,422.0 793.0,421.8 793.5,421.5 794.0,421.3 794.5,421.1 795.0,420.8 795.5,420.8 796.0,421.1 796.5,421.5 797.0,421.7 797.5,421.7 798.0,421.7 798.5,421.7 799.0,421.8 799.5,422.0 800.0,422.1 800.5,422.3 801.0,422.3 801.5,422.2 802.0,422.0 802.5,422.0 803.0,422.1 803.5,422.2 804.0,422.3 804.5,422.3 805.0,422.1 805.5,421.9 806.0,421.7 806.5,421.7 807.0,421.7 807.5,421.8 808.0,421.7 808.5,421.6 809.0,421.6 809.5,421.6 810.0,421.6 810.5,421.7 811.0,421.6 811.5,421.4 812.0,421.2 812.5,421.3 813.0,421.6 813.5,421.8 814.0,421.8 814.5,421.8 815.0,421.6 815.5,421.5 816.0,421.6 816.5,421.8 817.0,421.9 817.5,422.0 818.0,422.0 818.5,421.8 819.0,421.8 819.5,421.8 820.0,421.9 820.5,421.9 821.0,421.7 821.5,421.5 822.0,421.3 822.5,421.3 823.0,421.3 823.5,421.4 824.0,421.5 824.5,421.7 825.0,421.8 825.5,421.7 826.0,421.6 826.5,421.3 827.0,421.1 827.5,421.2 828.0,421.4 828.5,421.5 829.0,421.4 829.5,421.0 830.0,420.7 830.5,420.5 831.0,420.5 831.5,420.6 832.0,420.8 832.5,421.1 833.0,421.4 833.5,421.7 834.0,421.7 834.5,421.4 835.0,421.0 835.5,420.7 836.0,420.7 836.5,420.8 837.0,420.9 837.5,420.8 838.0,420.6 838.5,420.4 839.0,420.4 839.5,420.5 840.0,420.6 840.5,420.7 841.0,420.7 841.5,420.6 842.0,420.7 842.5,420.9 843.0,421.1 843.5,421.0 844.0,420.6 844.5,420.0 845.0,419.5 845.5,419.3 846.0,419.3 846.5,419.5 847.0,419.7 847.5,419.8 848.0,419.6 848.5,419.2 849.0,418.8 849.5,418.5 850.0,418.3 850.5,418.3 851.0,418.3 851.5,418.4 852.0,418.3 852.5,418.1 853.0,417.9 853.5,417.9 854.0,417.8 854.5,417.8 855.0,417.8 855.5,417.9 856.0,418.1 856.5,418.1 857.0,417.8 857.5,417.3 858.0,416.8 858.5,416.6 859.0,416.7 859.5,416.7 860.0,416.4 860.5,415.9 861.0,415.5 861.5,415.3 862.0,415.3 862.5,415.3 863.0,415.2 863.5,414.9 864.0,414.6 864.5,414.3 865.0,414.1 865.5,414.1 866.0,414.1 866.5,414.1 867.0,414.2 867.5,414.3 868.0,414.3 868.5,414.3 869.0,414.3 869.5,414.5 870.0,414.7 870.5,414.9 871.0,414.8 871.5,414.6 872.0,414.4 872.5,414.3 873.0,414.4 873.5,414.5 874.0,414.6 874.5,414.7 875.0,414.7 875.5,414.5 876.0,414.3 876.5,414.0 877.0,413.7 877.5,413.4 878.0,413.0 878.5,412.6 879.0,412.2 879.5,412.0 880.0,412.0 880.5,412.1 881.0,412.1 881.5,411.8 882.0,411.3 882.5,410.6 883.0,410.2 883.5,410.0 884.0,409.9 884.5,409.6 885.0,409.1 885.5,408.3 886.0,407.4 886.5,406.7 887.0,406.1 887.5,405.5 888.0,404.7 888.5,404.0 889.0,403.2 889.5,402.6 890.0,401.9 890.5,401.1 891.0,400.0 891.5,398.7 892.0,397.4 892.5,396.0 893.0,394.5 893.5,392.7 894.0,390.7 894.5,388.5 895.0,386.3 895.5,384.7 896.0,383.9 896.5,384.0 897.0,384.7 897.5,385.9 898.0,387.3 898.5,389.0 899.0,390.7 899.5,392.3 900.0,393.7 900.5,395.0 901.0,396.6 901.5,398.3 902.0,399.9 902.5,401.2 903.0,402.3 903.5,403.3 904.0,404.5 904.5,405.8 905.0,407.1 905.5,408.0 906.0,408.6 906.5,409.1 907.0,409.7 907.5,410.3 908.0,410.8 908.5,411.2 909.0,411.5 909.5,411.9 910.0,412.4 910.5,412.8 911.0,413.1 911.5,413.4 912.0,413.6 912.5,413.7 913.0,413.7 913.5,413.8 914.0,414.0 914.5,414.3 915.0,414.7 915.5,415.1 916.0,415.4 916.5,415.6 917.0,415.9 917.5,416.2 918.0,416.4 918.5,416.5 919.0,416.6 919.5,416.8 920.0,416.9 920.5,417.1 921.0,417.3 921.5,417.6 922.0,417.8 922.5,418.1 923.0,418.3 923.5,418.4 924.0,418.5 924.5,418.4 925.0,418.4 925.5,418.5 926.0,418.7 926.5,419.0 927.0,419.3 927.5,419.6 928.0,419.6 928.5,419.5 929.0,419.4 929.5,419.3 930.0,419.1 930.5,419.0 931.0,419.0 931.5,419.1 932.0,419.1 932.5,419.1 933.0,419.2 933.5,419.4 934.0,419.5 934.5,419.4 935.0,419.4 935.5,419.5 936.0,419.4 936.5,419.3 937.0,419.2 937.5,419.2 938.0,419.4 938.5,419.5 939.0,419.7 939.5,419.9 940.0,420.2 940.5,420.3 941.0,420.3 941.5,420.3 942.0,420.3 942.5,420.3 943.0,420.2 943.5,420.0 944.0,419.7 944.5,419.5 945.0,419.5 945.5,419.6 946.0,419.8 946.5,420.0 947.0,420.3 947.5,420.4 948.0,420.3 948.5,420.1 949.0,419.8 949.5,419.6 950.0,419.5 950.5,419.5 951.0,419.7 951.5,420.0 952.0,420.5 952.5,420.7 953.0,420.6 953.5,420.4 954.0,420.2 954.5,420.1 955.0,419.9 955.5,419.6 956.0,419.4 956.5,419.5 957.0,419.8 957.5,420.1 958.0,420.1 958.5,419.8 959.0,419.6 959.5,419.7 960.0,419.8 960.5,419.9 961.0,419.9 961.5,419.8 962.0,419.5 962.5,419.2 963.0,419.0 963.5,419.0 964.0,419.3 964.5,419.5 965.0,419.8 965.5,419.9 966.0,420.1 966.5,420.3 967.0,420.6 967.5,420.7 968.0,420.6 968.5,420.5 969.0,420.4 969.5,420.2 970.0,419.9 970.5,419.6 971.0,419.4 971.5,419.4 972.0,419.6 972.5,419.6 973.0,419.5 973.5,419.4 974.0,419.2 974.5,419.0 975.0,418.8 975.5,418.6 976.0,418.7 976.5,418.9 977.0,419.3 977.5,419.6 978.0,419.7 978.5,419.6 979.0,419.6 979.5,419.6 980.0,419.5 980.5,419.1 981.0,418.6 981.5,418.2 982.0,418.1 982.5,418.1 983.0,418.1 983.5,418.1 984.0,417.9 984.5,417.9 985.0,418.0 985.5,418.0 986.0,417.8 986.5,417.4 987.0,417.1 987.5,416.9 988.0,416.8 988.5,416.7 989.0,416.5 989.5,416.3 990.0,416.2 990.5,416.3 991.0,416.3 991.5,416.2 992.0,415.6 992.5,414.8 993.0,414.1 993.5,413.6 994.0,413.3 994.5,413.2 995.0,412.9 995.5,412.4 996.0,411.6 996.5,410.8 997.0,410.1 997.5,409.4 998.0,408.4 998.5,407.4 999.0,406.2 999.5,405.1 1000.0,404.0 1000.5,403.0 1001.0,401.6 1001.5,399.7 1002.0,397.2 1002.5,394.5 1003.0,391.6 1003.5,388.4 1004.0,384.9 1004.5,381.2 1005.0,377.6 1005.5,374.1 1006.0,370.9 1006.5,368.3 1007.0,366.8 1007.5,366.6 1008.0,367.7 1008.5,369.8 1009.0,372.6 1009.5,375.7 1010.0,378.9 1010.5,381.9 1011.0,384.7 1011.5,387.1 1012.0,389.1 1012.5,390.9 1013.0,392.5 1013.5,393.7 1014.0,394.6 1014.5,394.9 1015.0,394.8 1015.5,394.5 1016.0,394.2 1016.5,393.6 1017.0,392.9 1017.5,392.1 1018.0,391.1 1018.5,389.8 1019.0,388.2 1019.5,386.1 1020.0,383.6 1020.5,380.8 1021.0,377.8 1021.5,374.5 1022.0,371.2 1022.5,368.3 1023.0,366.4 1023.5,365.8 1024.0,366.6 1024.5,368.7 1025.0,371.8 1025.5,375.2 1026.0,378.8 1026.5,382.4 1027.0,386.0 1027.5,389.3 1028.0,392.4 1028.5,395.2 1029.0,397.7 1029.5,400.0 1030.0,402.1 1030.5,403.9 1031.0,405.5 1031.5,406.7 1032.0,407.9 1032.5,409.0 1033.0,410.0 1033.5,410.9 1034.0,411.5 1034.5,412.0 1035.0,412.3 1035.5,412.7 1036.0,413.1 1036.5,413.5 1037.0,414.0 1037.5,414.3 1038.0,414.5 1038.5,414.8 1039.0,415.3 1039.5,415.8 1040.0,416.2 1040.5,416.5 1041.0,417.0 1041.5,417.4 1042.0,417.5 1042.5,417.3 1043.0,417.0 1043.5,417.0 1044.0,417.1 1044.5,417.3 1045.0,417.4 1045.5,417.5 1046.0,417.6 1046.5,417.7 1047.0,417.9 1047.5,418.0 1048.0,418.0 1048.5,417.8 1049.0,417.9 1049.5,418.1 1050.0,418.6 1050.5,419.0 1051.0,419.1 1051.5,418.9 1052.0,418.8 1052.5,418.8 1053.0,418.9 1053.5,419.1 1054.0,419.1 1054.5,419.1 1055.0,419.0 1055.5,419.1 1056.0,419.2 1056.5,419.1 1057.0,419.0 1057.5,418.9 1058.0,418.9 1058.5,418.9 1059.0,419.0 1059.5,419.1 1060.0,419.2 1060.5,419.2 1061.0,419.3 1061.5,419.3 1062.0,419.4 1062.5,419.6 1063.0,419.8 1063.5,419.8 1064.0,419.8 1064.5,419.7 1065.0,419.6 1065.5,419.5 1066.0,419.4 1066.5,419.2 1067.0,418.9 1067.5,418.6 1068.0,418.5 1068.5,418.6 1069.0,418.8 1069.5,419.1 1070.0,419.2 1070.5,419.3 1071.0,419.2 1071.5,419.2 1072.0,419.1 1072.5,419.0 1073.0,418.8 1073.5,418.4 1074.0,418.1 1074.5,417.8 1075.0,417.6 1075.5,417.6 1076.0,417.6 1076.5,417.6 1077.0,417.6 1077.5,417.4 1078.0,417.1 1078.5,416.4 1079.0,415.7 1079.5,414.9 1080.0,414.1 1080.5,413.2 1081.0,412.1 1081.5,410.8 1082.0,409.4 1082.5,407.8 1083.0,406.2 1083.5,404.5 1084.0,402.8 1084.5,400.9 1085.0,399.1 1085.5,397.5 1086.0,396.3 1086.5,395.8 1087.0,396.1 1087.5,397.1 1088.0,398.5 1088.5,400.3 1089.0,402.3 1089.5,404.2 1090.0,406.0 1090.5,407.6 1091.0,409.0 1091.5,410.3 1092.0,411.6 1092.5,412.6 1093.0,413.5 1093.5,414.2 1094.0,414.9 1094.5,415.6 1095.0,416.2 1095.5,416.6 1096.0,416.9 1096.5,417.2 1097.0,417.5 1097.5,417.8 1098.0,417.9 1098.5,417.8 1099.0,417.7 1099.5,417.6 1100.0,417.8 1100.5,418.2 1101.0,418.7 1101.5,419.2 1102.0,419.6 1102.5,420.1 1103.0,420.4 1103.5,420.6 1104.0,420.7 1104.5,420.6 1105.0,420.5 1105.5,420.1 1106.0,419.7 1106.5,419.5"/>
<polyline fill="none" stroke="#3649a2" stroke-width="4.0" stroke-linejoin="round" points="58.5,323.6 59.0,323.5 59.5,323.4 60.0,323.5 60.5,323.8 61.0,324.1 61.5,324.1 62.0,324.0 62.5,323.8 63.0,323.7 63.5,323.5 64.0,323.4 64.5,323.2 65.0,323.2 65.5,323.2 66.0,323.2 66.5,323.2 67.0,323.1 67.5,323.0 68.0,323.0 68.5,323.1 69.0,323.1 69.5,323.1 70.0,323.0 70.5,323.0 71.0,322.9 71.5,322.7 72.0,322.2 72.5,321.8 73.0,321.9 73.5,322.3 74.0,322.6 74.5,322.8 75.0,322.8 75.5,322.6 76.0,322.4 76.5,322.2 77.0,321.9 77.5,321.8 78.0,321.8 78.5,321.8 79.0,321.8 79.5,321.5 80.0,321.3 80.5,321.2 81.0,321.3 81.5,321.4 82.0,321.3 82.5,321.2 83.0,321.1 83.5,321.0 84.0,320.9 84.5,320.9 85.0,321.0 85.5,321.2 86.0,321.3 86.5,321.1 87.0,320.7 87.5,320.2 88.0,319.8 88.5,319.7 89.0,319.5 89.5,319.4 90.0,319.1 90.5,318.7 91.0,318.3 91.5,317.9 92.0,317.9 92.5,318.2 93.0,318.5 93.5,318.5 94.0,318.1 94.5,317.7 95.0,317.4 95.5,317.0 96.0,316.8 96.5,316.9 97.0,316.9 97.5,316.8 98.0,316.5 98.5,316.1 99.0,315.7 99.5,315.4 100.0,315.0 100.5,314.6 101.0,314.2 101.5,314.0 102.0,313.8 102.5,313.6 103.0,313.3 103.5,312.8 104.0,312.2 104.5,311.5 105.0,310.9 105.5,310.3 106.0,309.7 106.5,308.9 107.0,308.1 107.5,307.2 108.0,306.4 108.5,305.7 109.0,305.2 109.5,304.7 110.0,304.2 110.5,303.3 111.0,302.2 111.5,300.7 112.0,299.0 112.5,297.3 113.0,295.4 113.5,293.4 114.0,291.1 114.5,288.8 115.0,286.3 115.5,283.8 116.0,281.0 116.5,278.0 117.0,274.5 117.5,270.5 118.0,265.8 118.5,260.6 119.0,254.9 119.5,248.7 120.0,241.8 120.5,233.8 121.0,224.7 121.5,214.5 122.0,203.3 122.5,191.1 123.0,178.0 123.5,164.0 124.0,149.1 124.5,133.6 125.0,118.1 125.5,103.8 126.0,91.6 126.5,82.6 127.0,77.4 127.5,76.6 128.0,80.5 128.5,88.8 129.0,100.6 129.5,114.6 130.0,129.9 130.5,145.6 131.0,161.1 131.5,175.9 132.0,189.7 132.5,202.1 133.0,213.2 133.5,223.1 134.0,232.0 134.5,240.0 135.0,247.3 135.5,253.9 136.0,259.8 136.5,265.2 137.0,269.9 137.5,273.9 138.0,277.3 138.5,280.3 139.0,283.1 139.5,285.8 140.0,288.5 140.5,291.0 141.0,293.3 141.5,295.5 142.0,297.3 142.5,298.9 143.0,300.2 143.5,301.4 144.0,302.6 144.5,303.8 145.0,304.9 145.5,305.8 146.0,306.5 146.5,307.2 147.0,307.9 147.5,308.8 148.0,309.7 148.5,310.3 149.0,310.7 149.5,311.2 150.0,311.9 150.5,312.6 151.0,313.3 151.5,313.7 152.0,313.8 152.5,313.9 153.0,314.1 153.5,314.5 154.0,314.9 154.5,315.2 155.0,315.6 155.5,316.0 156.0,316.2 156.5,316.2 157.0,316.1 157.5,316.0 158.0,316.0 158.5,316.1 159.0,316.3 159.5,316.4 160.0,316.5 160.5,316.3 161.0,315.9 161.5,315.4 162.0,315.2 162.5,315.3 163.0,315.4 163.5,315.2 164.0,314.7 164.5,314.1 165.0,313.3 165.5,312.3 166.0,311.1 166.5,309.7 167.0,308.4 167.5,307.4 168.0,307.1 168.5,307.4 169.0,308.3 169.5,309.3 170.0,310.5 170.5,311.8 171.0,312.8 171.5,313.6 172.0,314.3 172.5,315.1 173.0,316.0 173.5,316.9 174.0,317.8 174.5,318.3 175.0,318.3 175.5,318.0 176.0,317.8 176.5,317.8 177.0,317.9 177.5,318.1 178.0,318.4 178.5,318.9 179.0,319.5 179.5,320.1 180.0,320.4 180.5,320.5 181.0,320.4 181.5,320.4 182.0,320.6 182.5,321.1 183.0,321.7 183.5,322.0 184.0,322.1 184.5,322.1 185.0,322.1 185.5,322.4 186.0,322.9 186.5,323.3 187.0,323.5 187.5,323.4 188.0,323.2 188.5,323.2 189.0,323.3 189.5,323.4 190.0,323.5 190.5,323.5 191.0,323.6 191.5,323.5 192.0,323.5 192.5,323.6 193.0,323.9 193.5,324.3 194.0,324.8 194.5,325.4 195.0,325.7 195.5,325.8 196.0,325.8 196.5,325.8 197.0,325.9 197.5,325.9 198.0,325.9 198.5,325.8 199.0,325.7 199.5,325.5 200.0,325.2 200.5,325.0 201.0,325.0 201.5,325.1 202.0,325.4 202.5,325.9 203.0,326.5 203.5,327.1 204.0,327.4 204.5,327.4 205.0,327.3 205.5,327.0 206.0,326.6 206.5,326.3 207.0,326.3 207.5,326.7 208.0,327.3 208.5,327.8 209.0,327.9 209.5,327.8 210.0,327.9 210.5,328.0 211.0,328.0 211.5,327.8 212.0,327.7 212.5,327.8 213.0,328.0 213.5,328.1 214.0,328.1 214.5,328.0 215.0,327.9 215.5,327.5 216.0,327.3 216.5,327.2 217.0,327.6 217.5,328.0 218.0,328.3 218.5,328.3 219.0,328.3 219.5,328.2 220.0,328.2 220.5,328.3 221.0,328.4 221.5,328.6 222.0,328.7 222.5,328.7 223.0,328.6 223.5,328.4 224.0,328.3 224.5,328.5 225.0,328.8 225.5,328.9 226.0,328.9 226.5,329.0 227.0,329.2 227.5,329.5 228.0,329.7 228.5,329.6 229.0,329.3 229.5,329.1 230.0,329.1 230.5,329.4 231.0,329.8 231.5,330.2 232.0,330.4 232.5,330.5 233.0,330.4 233.5,330.2 234.0,330.1 234.5,330.1 235.0,330.2 235.5,330.5 236.0,330.6 236.5,330.5 237.0,330.3 237.5,330.0 238.0,329.8 238.5,329.8 239.0,329.9 239.5,330.0 240.0,330.2 240.5,330.3 241.0,330.3 241.5,330.1 242.0,329.8 242.5,329.5 243.0,329.5 243.5,329.8 244.0,330.1 244.5,330.2 245.0,330.3 245.5,330.5 246.0,330.8 246.5,331.0 247.0,331.0 247.5,330.8 248.0,330.7 248.5,330.6 249.0,330.7 249.5,330.7 250.0,330.8 250.5,331.0 251.0,331.4 251.5,331.6 252.0,331.7 252.5,331.6 253.0,331.6 253.5,331.7 254.0,331.9 254.5,331.8 255.0,331.4 255.5,331.0 256.0,330.7 256.5,330.7 257.0,331.0 257.5,331.3 258.0,331.5 258.5,331.6 259.0,331.6 259.5,331.5 260.0,331.4 260.5,331.2 261.0,331.0 261.5,330.8 262.0,330.7 262.5,330.8 263.0,330.8 263.5,331.0 264.0,331.2 264.5,331.4 265.0,331.5 265.5,331.4 266.0,331.3 266.5,331.3 267.0,331.4 267.5,331.5 268.0,331.5 268.5,331.5 269.0,331.4 269.5,331.2 270.0,331.1 270.5,331.0 271.0,331.2 271.5,331.5 272.0,331.9 272.5,332.2 273.0,332.3 273.5,332.2 274.0,332.1 274.5,332.0 275.0,332.1 275.5,332.2 276.0,332.4 276.5,332.5 277.0,332.4 277.5,332.4 278.0,332.4 278.5,332.5 279.0,332.4 279.5,332.0 280.0,331.4 280.5,331.0 281.0,330.9 281.5,331.0 282.0,331.1 282.5,331.3 283.0,331.6 283.5,331.8 284.0,331.9 284.5,331.7 285.0,331.4 285.5,331.2 286.0,331.2 286.5,331.3 287.0,331.6 287.5,332.0 288.0,332.2 288.5,332.3 289.0,332.4 289.5,332.5 290.0,332.4 290.5,332.4 291.0,332.4 291.5,332.5 292.0,332.4 292.5,332.4 293.0,332.6 293.5,332.9 294.0,333.3 294.5,333.4 295.0,333.2 295.5,333.0 296.0,332.8 296.5,332.7 297.0,332.7 297.5,332.6 298.0,332.6 298.5,332.7 299.0,333.0 299.5,333.2 300.0,333.3 300.5,333.2 301.0,332.8 301.5,332.5 302.0,332.2 302.5,332.2 303.0,332.4 303.5,332.5 304.0,332.5 304.5,332.4 305.0,332.4 305.5,332.4 306.0,332.4 306.5,332.3 307.0,332.2 307.5,332.0 308.0,332.1 308.5,332.3 309.0,332.4 309.5,332.6 310.0,332.9 310.5,333.1 311.0,333.3 311.5,333.3 312.0,333.3 312.5,333.2 313.0,333.0 313.5,332.8 314.0,332.7 314.5,332.7 315.0,332.8 315.5,332.9 316.0,332.9 316.5,333.2 317.0,333.4 317.5,333.4 318.0,333.1 318.5,332.8 319.0,332.7 319.5,332.8 320.0,333.0 320.5,333.2 321.0,333.3 321.5,333.3 322.0,333.1 322.5,333.0 323.0,333.0 323.5,333.0 324.0,333.1 324.5,333.3 325.0,333.7 325.5,334.0 326.0,334.2 326.5,334.1 327.0,334.0 327.5,333.9 328.0,333.9 328.5,333.7 329.0,333.5 329.5,333.3 330.0,333.1 330.5,332.9 331.0,332.7 331.5,332.7 332.0,332.7 332.5,332.9 333.0,333.2 333.5,333.6 334.0,333.9 334.5,334.0 335.0,333.8 335.5,333.5 336.0,333.3 336.5,333.3 337.0,333.3 337.5,333.2 338.0,333.1 338.5,332.9 339.0,332.8 339.5,332.9 340.0,333.2 340.5,333.5 341.0,333.8 341.5,333.9 342.0,334.0 342.5,334.2 343.0,334.4 343.5,334.6 344.0,334.6 344.5,334.6 345.0,334.6 345.5,334.4 346.0,334.0 346.5,333.6 347.0,333.3 347.5,333.2 348.0,333.2 348.5,333.4 349.0,333.5 349.5,333.7 350.0,333.8 350.5,333.9 351.0,333.8 351.5,333.8 352.0,333.9 352.5,334.2 353.0,334.3 353.5,334.1 354.0,333.7 354.5,333.4 355.0,333.4 355.5,333.6 356.0,333.8 356.5,333.9 357.0,333.9 357.5,333.9 358.0,333.9 358.5,334.1 359.0,334.2 359.5,334.4 360.0,334.5 360.5,334.5 361.0,334.2 361.5,333.9 362.0,333.7 362.5,333.7 363.0,333.8 363.5,334.0 364.0,333.9 364.5,333.7 365.0,333.7 365.5,333.8 366.0,333.9 366.5,333.9 367.0,334.0 367.5,334.1 368.0,334.2 368.5,334.3 369.0,334.4 369.5,334.7 370.0,335.2 370.5,335.4 371.0,335.3 371.5,334.9 372.0,334.4 372.5,334.2 373.0,334.1 373.5,334.1 374.0,334.1 374.5,334.1 375.0,334.0 375.5,333.7 376.0,333.6 376.5,333.7 377.0,333.8 377.5,333.9 378.0,334.0 378.5,334.2 379.0,334.4 379.5,334.6 380.0,334.6 380.5,334.5 381.0,334.4 381.5,334.5 382.0,334.6 382.5,334.6 383.0,334.5 383.5,334.5 384.0,334.5 384.5,334.4 385.0,334.2 385.5,334.1 386.0,334.1 386.5,334.2 387.0,334.3 387.5,334.4 388.0,334.3 388.5,334.4 389.0,334.5 389.5,334.7 390.0,334.6 390.5,334.6 391.0,334.7 391.5,335.0 392.0,335.2 392.5,335.0 393.0,334.7 393.5,334.4 394.0,334.2 394.5,334.0 395.0,334.0 395.5,334.2 396.0,334.5 396.5,334.7 397.0,334.8 397.5,334.7 398.0,334.6 398.5,334.4 399.0,334.2 399.5,334.2 400.0,334.4 400.5,334.6 401.0,334.7 401.5,334.8 402.0,334.9 402.5,334.9 403.0,334.9 403.5,334.9 404.0,334.9 404.5,334.7 405.0,334.5 405.5,334.2 406.0,334.0 406.5,334.0 407.0,334.1 407.5,334.2 408.0,334.4 408.5,334.5 409.0,334.6 409.5,334.4 410.0,334.0 410.5,333.6 411.0,333.4 411.5,333.4 412.0,333.5 412.5,333.7 413.0,334.0 413.5,334.3 414.0,334.6 414.5,334.8 415.0,334.8 415.5,334.6 416.0,334.3 416.5,334.1 417.0,334.0 417.5,333.9 418.0,334.1 418.5,334.3 419.0,334.6 419.5,334.8 420.0,334.8 420.5,334.6 421.0,334.1 421.5,333.7 422.0,333.4 422.5,333.3 423.0,333.3 423.5,333.4 424.0,333.4 424.5,333.3 425.0,333.2 425.5,333.1 426.0,333.1 426.5,333.2 427.0,333.3 427.5,333.2 428.0,333.1 428.5,332.9 429.0,332.8 429.5,332.8 430.0,332.9 430.5,333.2 431.0,333.6 431.5,333.8 432.0,333.8 432.5,333.5 433.0,333.3 433.5,333.4 434.0,333.6 434.5,333.7 435.0,333.5 435.5,333.2 436.0,332.9 436.5,332.7 437.0,332.6 437.5,332.6 438.0,332.8 438.5,332.9 439.0,332.9 439.5,332.6 440.0,332.0 440.5,331.4 441.0,331.3 441.5,331.5 442.0,331.9 442.5,332.1 443.0,332.1 443.5,331.9 444.0,331.8 444.5,331.6 445.0,331.2 445.5,330.8 446.0,330.4 446.5,330.2 447.0,330.2 447.5,330.2 448.0,330.3 448.5,330.3 449.0,330.2 449.5,329.7 450.0,329.1 450.5,328.4 451.0,328.0 451.5,327.9 452.0,327.8 452.5,327.5 453.0,327.3 453.5,327.0 454.0,326.7 454.5,326.2 455.0,325.6 455.5,325.2 456.0,324.8 456.5,324.4 457.0,323.9 457.5,323.4 458.0,323.0 458.5,322.8 459.0,322.6 459.5,322.3 460.0,321.8 460.5,321.0 461.0,320.1 461.5,319.2 462.0,318.3 462.5,317.3 463.0,316.2 463.5,315.1 464.0,314.0 464.5,312.8 465.0,311.4 465.5,309.7 466.0,307.6 466.5,305.3 467.0,302.8 467.5,300.0 468.0,297.1 468.5,294.0 469.0,290.8 469.5,287.7 470.0,284.8 470.5,282.3 471.0,280.4 471.5,279.0 472.0,277.8 472.5,276.4 473.0,274.5 473.5,271.7 474.0,267.7 474.5,262.8 475.0,257.4 475.5,252.0 476.0,247.6 476.5,244.9 477.0,244.3 477.5,246.1 478.0,250.2 478.5,256.2 479.0,263.2 479.5,270.4 480.0,277.1 480.5,283.1 481.0,288.3 481.5,292.8 482.0,296.6 482.5,300.0 483.0,303.1 483.5,306.0 484.0,308.6 484.5,310.7 485.0,312.5 485.5,314.2 486.0,315.9 486.5,317.5 487.0,318.6 487.5,319.5 488.0,320.3 488.5,321.2 489.0,322.1 489.5,323.0 490.0,323.9 490.5,324.5 491.0,325.0 491.5,325.4 492.0,325.8 492.5,326.1 493.0,326.4 493.5,326.7 494.0,327.1 494.5,327.5 495.0,327.7 495.5,328.0 496.0,328.5 496.5,329.2 497.0,329.7 497.5,330.1 498.0,330.4 498.5,330.5 499.0,330.5 499.5,330.2 500.0,329.9 500.5,329.5 501.0,329.0 501.5,328.4 502.0,327.8 502.5,327.4 503.0,327.0 503.5,326.7 504.0,326.3 504.5,325.6 505.0,324.5 505.5,323.2 506.0,322.0 506.5,321.1 507.0,320.7 507.5,320.6 508.0,320.9 508.5,321.5 509.0,322.7 509.5,324.3 510.0,326.1 510.5,327.8 511.0,329.1 511.5,330.1 512.0,330.8 512.5,331.3 513.0,331.9 513.5,332.6 514.0,333.2 514.5,333.5 515.0,333.6 515.5,333.5 516.0,333.5 516.5,333.6 517.0,333.8 517.5,334.0 518.0,334.3 518.5,334.6 519.0,334.8 519.5,334.8 520.0,334.8 520.5,334.9 521.0,334.9 521.5,334.9 522.0,334.8 522.5,334.9 523.0,335.0 523.5,335.2 524.0,335.4 524.5,335.8 525.0,336.1 525.5,336.2 526.0,335.9 526.5,335.4 527.0,335.4 527.5,335.7 528.0,336.2 528.5,336.3 529.0,336.2 529.5,336.0 530.0,336.1 530.5,336.3 531.0,336.5 531.5,336.6 532.0,336.5 532.5,336.3 533.0,336.3 533.5,336.5 534.0,336.8 534.5,336.8 535.0,336.6 535.5,336.4 536.0,336.5 536.5,336.6 537.0,336.7 537.5,336.8 538.0,336.8 538.5,337.0 539.0,337.1 539.5,337.1 540.0,337.0 540.5,337.0 541.0,336.9 541.5,336.7 542.0,336.5 542.5,336.5 543.0,336.7 543.5,337.2 544.0,337.6 544.5,337.8 545.0,338.0 545.5,338.1 546.0,338.1 546.5,337.9 547.0,337.6 547.5,337.4 548.0,337.3 548.5,337.1 549.0,336.9 549.5,336.7 550.0,336.5 550.5,336.6 551.0,336.9 551.5,337.2 552.0,337.3 552.5,337.3 553.0,337.3 553.5,337.3 554.0,337.4 554.5,337.6 555.0,337.6 555.5,337.4 556.0,337.1 556.5,337.0 557.0,336.9 557.5,336.7 558.0,336.5 558.5,336.4 559.0,336.5 559.5,336.8 560.0,337.1 560.5,337.3 561.0,337.4 561.5,337.6 562.0,337.8 562.5,337.7 563.0,337.4 563.5,337.2 564.0,337.1 564.5,337.0 565.0,336.9 565.5,336.7 566.0,336.4 566.5,336.1 567.0,336.0 567.5,336.0 568.0,336.2 568.5,336.5 569.0,336.8 569.5,336.9 570.0,336.9 570.5,336.8 571.0,336.6 571.5,336.3 572.0,336.0 572.5,336.0 573.0,336.3 573.5,336.6 574.0,336.8 574.5,336.8 575.0,336.9 575.5,336.8 576.0,336.4 576.5,336.0 577.0,335.7 577.5,335.7 578.0,335.9 578.5,336.1 579.0,336.3 579.5,336.5 580.0,336.4 580.5,336.3 581.0,336.2 581.5,336.1 582.0,336.0 582.5,335.9 583.0,335.8 583.5,335.7 584.0,335.5 584.5,335.5 585.0,335.6 585.5,335.5 586.0,335.2 586.5,334.6 587.0,334.0 587.5,333.6 588.0,333.5 588.5,333.6 589.0,333.5 589.5,333.3 590.0,333.1 590.5,333.0 591.0,333.0 591.5,333.0 592.0,333.1 592.5,333.1 593.0,333.1 593.5,332.9 594.0,332.8 594.5,332.5 595.0,332.3 595.5,332.1 596.0,331.8 596.5,331.4 597.0,330.8 597.5,330.2 598.0,329.8 598.5,329.6 599.0,329.6 599.5,329.5 600.0,329.4 600.5,329.1 601.0,328.6 601.5,328.1 602.0,327.5 602.5,327.0 603.0,326.4 603.5,325.9 604.0,325.2 604.5,324.7 605.0,324.2 605.5,323.6 606.0,322.7 606.5,321.6 607.0,320.2 607.5,319.1 608.0,318.1 608.5,317.2 609.0,316.1 609.5,314.6 610.0,312.8 610.5,310.7 611.0,308.6 611.5,306.4 612.0,304.3 612.5,302.2 613.0,299.9 613.5,297.3 614.0,294.1 614.5,290.4 615.0,286.2 615.5,281.5 616.0,276.1 616.5,270.3 617.0,264.2 617.5,257.6 618.0,250.3 618.5,242.2 619.0,233.1 619.5,223.3 620.0,213.0 620.5,202.3 621.0,191.3 621.5,180.6 622.0,170.7 622.5,162.2 623.0,155.6 623.5,151.3 624.0,149.6 624.5,150.9 625.0,155.0 625.5,161.6 626.0,170.4 626.5,180.6 627.0,191.5 627.5,202.5 628.0,213.2 628.5,223.4 629.0,233.1 629.5,242.2 630.0,250.7 630.5,258.6 631.0,265.7 631.5,271.9 632.0,277.3 632.5,282.0 633.0,286.4 633.5,290.3 634.0,293.9 634.5,297.0 635.0,299.6 635.5,302.0 636.0,304.3 636.5,306.6 637.0,308.8 637.5,310.8 638.0,312.7 638.5,314.2 639.0,315.5 639.5,316.5 640.0,317.6 640.5,318.8 641.0,320.1 641.5,321.4 642.0,322.5 642.5,323.3 643.0,323.9 643.5,324.4 644.0,324.8 644.5,325.3 645.0,326.0 645.5,326.8 646.0,327.3 646.5,327.4 647.0,327.3 647.5,327.4 648.0,327.8 648.5,328.4 649.0,328.9 649.5,329.2 650.0,329.7 650.5,330.2 651.0,330.8 651.5,331.2 652.0,331.3 652.5,331.4 653.0,331.4 653.5,331.5 654.0,331.8 654.5,332.1 655.0,332.4 655.5,332.5 656.0,332.7 656.5,333.0 657.0,333.2 657.5,333.2 658.0,333.2 658.5,333.2 659.0,333.3 659.5,333.5 660.0,333.7 660.5,334.0 661.0,334.4 661.5,334.7 662.0,334.9 662.5,335.2 663.0,335.5 663.5,335.7 664.0,335.8 664.5,335.8 665.0,335.7 665.5,335.5 666.0,335.2 666.5,335.0 667.0,335.1 667.5,335.2 668.0,335.4 668.5,335.4 669.0,335.3 669.5,335.2 670.0,335.3 670.5,335.5 671.0,335.7 671.5,335.7 672.0,335.7 672.5,335.8 673.0,335.9 673.5,336.1 674.0,336.2 674.5,336.1 675.0,336.0 675.5,335.8 676.0,335.5 676.5,335.4 677.0,335.5 677.5,335.7 678.0,335.9 678.5,336.0 679.0,336.1 679.5,336.0 680.0,335.8 680.5,335.7 681.0,335.6 681.5,335.6 682.0,335.7 682.5,335.9 683.0,336.1 683.5,336.2 684.0,336.2 684.5,336.2 685.0,336.3 685.5,336.3 686.0,336.2 686.5,336.1 687.0,336.1 687.5,336.3 688.0,336.4 688.5,336.3 689.0,336.1 689.5,336.0 690.0,336.1 690.5,336.2 691.0,336.3 691.5,336.4 692.0,336.4 692.5,336.4 693.0,336.1 693.5,335.6 694.0,334.9 694.5,334.4 695.0,334.0 695.5,333.7 696.0,333.6 696.5,333.6 697.0,333.4 697.5,333.0 698.0,332.3 698.5,331.4 699.0,330.4 699.5,329.6 700.0,328.9 700.5,328.1 701.0,327.0 701.5,325.8 702.0,324.5 702.5,323.0 703.0,321.6 703.5,320.5 704.0,320.0 704.5,320.4 705.0,321.4 705.5,322.8 706.0,324.3 706.5,325.7 707.0,327.0 707.5,328.1 708.0,329.1 708.5,330.0 709.0,330.7 709.5,331.3 710.0,331.9 710.5,332.6 711.0,333.2 711.5,333.8 712.0,334.2 712.5,334.5 713.0,334.9 713.5,335.2 714.0,335.6 714.5,335.8 715.0,335.8 715.5,335.6 716.0,335.5 716.5,335.7 717.0,336.1 717.5,336.5 718.0,336.7 718.5,336.8 719.0,336.9 719.5,337.0 720.0,336.8 720.5,336.5 721.0,336.3 721.5,336.6 722.0,337.3 722.5,337.8 723.0,337.7 723.5,337.3 724.0,336.9 724.5,336.7 725.0,336.7 725.5,336.7 726.0,336.8 726.5,337.0 727.0,337.3 727.5,337.7 728.0,337.8 728.5,337.5 729.0,337.1 729.5,336.8 730.0,336.7 730.5,336.9 731.0,337.3 731.5,337.6 732.0,337.7 732.5,337.5 733.0,337.1 733.5,336.9 734.0,336.9 734.5,337.2 735.0,337.6 735.5,337.8 736.0,337.9 736.5,337.9 737.0,337.8 737.5,337.7 738.0,337.6 738.5,337.6 739.0,337.6 739.5,337.6 740.0,337.4 740.5,337.2 741.0,337.1 741.5,337.4 742.0,337.7 742.5,337.9 743.0,338.1 743.5,338.2 744.0,338.0 744.5,337.7 745.0,337.3 745.5,337.0 746.0,336.9 746.5,336.9 747.0,336.9 747.5,337.0 748.0,337.1 748.5,337.3 749.0,337.4 749.5,337.3 750.0,337.1 750.5,337.1 751.0,337.3 751.5,337.6 752.0,337.7 752.5,337.7 753.0,337.4 753.5,337.1 754.0,337.0 754.5,337.2 755.0,337.3 755.5,337.3 756.0,337.1 756.5,337.0 757.0,337.0 757.5,337.0 758.0,337.3 758.5,337.5 759.0,337.6 759.5,337.5 760.0,337.4 760.5,337.4 761.0,337.5 761.5,337.5 762.0,337.4 762.5,337.1 763.0,336.8 763.5,336.5 764.0,336.4 764.5,336.5 765.0,336.7 765.5,336.9 766.0,337.0 766.5,337.2 767.0,337.5 767.5,337.7 768.0,337.8 768.5,337.5 769.0,337.1 769.5,336.9 770.0,336.9 770.5,336.9 771.0,337.0 771.5,337.2 772.0,337.4 772.5,337.5 773.0,337.7 773.5,337.8 774.0,337.9 774.5,337.6 775.0,337.3 775.5,337.0 776.0,337.1 776.5,337.3 777.0,337.4 777.5,337.2 778.0,336.8 778.5,336.6 779.0,336.6 779.5,336.9 780.0,337.3 780.5,337.7 781.0,337.9 781.5,338.1 782.0,338.0 782.5,337.8 783.0,337.5 783.5,337.1 784.0,336.8 784.5,336.8 785.0,336.9 785.5,336.9 786.0,336.7 786.5,336.6 787.0,336.8 787.5,337.1 788.0,337.3 788.5,337.5 789.0,337.6 789.5,337.6 790.0,337.4 790.5,337.1 791.0,336.9 791.5,337.0 792.0,337.2 792.5,337.3 793.0,337.3 793.5,337.2 794.0,337.1 794.5,337.0 795.0,336.9 795.5,336.8 796.0,336.7 796.5,336.7 797.0,336.8 797.5,336.9 798.0,337.0 798.5,337.0 799.0,337.0 799.5,336.9 800.0,336.9 800.5,336.9 801.0,336.9 801.5,336.9 802.0,336.8 802.5,336.8 803.0,336.8 803.5,336.7 804.0,336.6 804.5,336.5 805.0,336.5 805.5,336.4 806.0,336.4 806.5,336.4 807.0,336.6 807.5,336.8 808.0,337.0 808.5,337.0 809.0,336.8 809.5,336.6 810.0,336.4 810.5,336.4 811.0,336.7 811.5,337.1 812.0,337.3 812.5,337.3 813.0,337.0 813.5,336.8 814.0,336.7 814.5,336.8 815.0,337.0 815.5,337.1 816.0,337.1 816.5,337.1 817.0,336.9 817.5,336.7 818.0,336.4 818.5,336.2 819.0,336.4 819.5,336.9 820.0,337.5 820.5,337.9 821.0,337.7 821.5,337.2 822.0,336.7 822.5,336.5 823.0,336.6 823.5,336.7 824.0,336.8 824.5,336.7 825.0,336.6 825.5,336.6 826.0,336.7 826.5,336.9 827.0,337.1 827.5,337.2 828.0,337.3 828.5,337.3 829.0,337.1 829.5,336.9 830.0,336.6 830.5,336.4 831.0,336.3 831.5,336.4 832.0,336.6 832.5,336.8 833.0,336.8 833.5,336.7 834.0,336.6 834.5,336.6 835.0,336.6 835.5,336.6 836.0,336.6 836.5,336.7 837.0,336.6 837.5,336.2 838.0,335.8 838.5,335.5 839.0,335.5 839.5,335.7 840.0,336.0 840.5,336.3 841.0,336.5 841.5,336.6 842.0,336.6 842.5,336.5 843.0,336.6 843.5,336.6 844.0,336.5 844.5,336.4 845.0,336.5 845.5,336.8 846.0,337.0 846.5,336.8 847.0,336.4 847.5,336.1 848.0,335.9 848.5,335.7 849.0,335.6 849.5,335.4 850.0,335.5 850.5,335.6 851.0,335.6 851.5,335.4 852.0,335.3 852.5,335.3 853.0,335.4 853.5,335.5 854.0,335.4 854.5,335.3 855.0,335.0 855.5,334.8 856.0,334.7 856.5,334.8 857.0,335.0 857.5,335.0 858.0,335.0 858.5,334.8 859.0,334.7 859.5,334.5 860.0,334.4 860.5,334.4 861.0,334.4 861.5,334.4 862.0,334.4 862.5,334.4 863.0,334.4 863.5,334.4 864.0,334.2 864.5,334.1 865.0,333.9 865.5,333.8 866.0,333.8 866.5,333.8 867.0,333.8 867.5,333.7 868.0,333.5 868.5,333.4 869.0,333.3 869.5,333.2 870.0,333.1 870.5,332.9 871.0,332.7 871.5,332.7 872.0,332.8 872.5,332.8 873.0,332.8 873.5,332.9 874.0,332.8 874.5,332.6 875.0,332.1 875.5,331.6 876.0,331.3 876.5,331.1 877.0,330.7 877.5,330.2 878.0,329.8 878.5,329.7 879.0,329.6 879.5,329.4 880.0,329.1 880.5,328.7 881.0,328.4 881.5,328.2 882.0,328.0 882.5,327.7 883.0,327.3 883.5,326.8 884.0,326.3 884.5,325.7 885.0,324.9 885.5,324.1 886.0,323.5 886.5,323.2 887.0,322.8 887.5,322.2 888.0,321.5 888.5,320.7 889.0,320.1 889.5,319.4 890.0,318.8 890.5,318.1 891.0,317.3 891.5,316.2 892.0,314.9 892.5,313.4 893.0,312.0 893.5,310.7 894.0,309.4 894.5,308.1 895.0,306.9 895.5,306.2 896.0,306.1 896.5,306.5 897.0,307.5 897.5,308.6 898.0,309.7 898.5,310.9 899.0,312.0 899.5,313.0 900.0,314.1 900.5,315.3 901.0,316.6 901.5,317.8 902.0,318.7 902.5,319.4 903.0,320.1 903.5,320.8 904.0,321.8 904.5,322.8 905.0,323.7 905.5,324.3 906.0,324.7 906.5,325.0 907.0,325.3 907.5,325.8 908.0,326.4 908.5,326.9 909.0,327.3 909.5,327.6 910.0,327.7 910.5,327.8 911.0,327.9 911.5,328.0 912.0,328.1 912.5,328.4 913.0,329.0 913.5,329.7 914.0,330.4 914.5,330.9 915.0,331.0 915.5,330.9 916.0,330.8 916.5,330.9 917.0,331.1 917.5,331.5 918.0,331.9 918.5,332.2 919.0,332.3 919.5,332.2 920.0,332.1 920.5,332.2 921.0,332.5 921.5,332.8 922.0,333.0 922.5,333.1 923.0,333.2 923.5,333.2 924.0,333.4 924.5,333.6 925.0,334.0 925.5,334.3 926.0,334.3 926.5,334.1 927.0,333.6 927.5,333.2 928.0,333.1 928.5,333.4 929.0,333.7 929.5,333.8 930.0,333.7 930.5,333.7 931.0,333.8 931.5,334.0 932.0,334.2 932.5,334.6 933.0,335.0 933.5,335.3 934.0,335.3 934.5,335.1 935.0,334.8 935.5,334.8 936.0,335.0 936.5,335.2 937.0,335.1 937.5,334.9 938.0,334.6 938.5,334.3 939.0,334.4 939.5,334.7 940.0,335.1 940.5,335.5 941.0,335.7 941.5,335.6 942.0,335.4 942.5,335.3 943.0,335.3 943.5,335.4 944.0,335.4 944.5,335.3 945.0,335.3 945.5,335.2 946.0,335.1 946.5,335.0 947.0,334.9 947.5,334.9 948.0,335.2 948.5,335.4 949.0,335.4 949.5,335.4 950.0,335.5 950.5,335.6 951.0,335.7 951.5,335.7 952.0,335.8 952.5,336.0 953.0,336.2 953.5,336.4 954.0,336.4 954.5,336.3 955.0,335.9 955.5,335.3 956.0,334.7 956.5,334.4 957.0,334.4 957.5,334.7 958.0,335.0 958.5,335.3 959.0,335.3 959.5,335.2 960.0,335.2 960.5,335.2 961.0,335.3 961.5,335.4 962.0,335.6 962.5,335.8 963.0,336.0 963.5,335.9 964.0,335.6 964.5,335.2 965.0,334.9 965.5,334.9 966.0,335.1 966.5,335.3 967.0,335.3 967.5,335.3 968.0,335.2 968.5,335.2 969.0,335.4 969.5,335.6 970.0,335.7 970.5,335.5 971.0,335.2 971.5,335.0 972.0,334.8 972.5,334.8 973.0,334.8 973.5,334.8 974.0,334.8 974.5,334.6 975.0,334.4 975.5,334.4 976.0,334.3 976.5,334.3 977.0,334.2 977.5,333.9 978.0,333.6 978.5,333.3 979.0,333.3 979.5,333.5 980.0,333.7 980.5,333.9 981.0,333.9 981.5,333.8 982.0,333.7 982.5,333.6 983.0,333.4 983.5,333.3 984.0,333.2 984.5,333.2 985.0,333.2 985.5,333.2 986.0,333.0 986.5,332.7 987.0,332.5 987.5,332.4 988.0,332.3 988.5,332.2 989.0,331.8 989.5,331.4 990.0,331.0 990.5,330.8 991.0,330.4 991.5,330.0 992.0,329.6 992.5,329.2 993.0,328.9 993.5,328.7 994.0,328.6 994.5,328.5 995.0,328.2 995.5,327.6 996.0,326.9 996.5,326.2 997.0,325.3 997.5,324.4 998.0,323.5 998.5,322.7 999.0,321.8 999.5,320.9 1000.0,319.8 1000.5,318.4 1001.0,316.8 1001.5,315.2 1002.0,313.5 1002.5,311.6 1003.0,309.4 1003.5,307.0 1004.0,304.5 1004.5,302.1 1005.0,299.6 1005.5,297.1 1006.0,294.9 1006.5,293.2 1007.0,292.1 1007.5,291.8 1008.0,292.2 1008.5,293.2 1009.0,294.7 1009.5,296.4 1010.0,298.2 1010.5,300.1 1011.0,302.1 1011.5,303.9 1012.0,305.3 1012.5,306.5 1013.0,307.5 1013.5,308.1 1014.0,308.3 1014.5,308.6 1015.0,309.0 1015.5,309.5 1016.0,309.8 1016.5,309.7 1017.0,309.2 1017.5,308.5 1018.0,307.5 1018.5,306.4 1019.0,305.0 1019.5,303.6 1020.0,301.9 1020.5,300.1 1021.0,298.1 1021.5,296.1 1022.0,294.2 1022.5,292.6 1023.0,291.7 1023.5,291.5 1024.0,292.2 1024.5,293.7 1025.0,295.6 1025.5,297.6 1026.0,300.0 1026.5,302.6 1027.0,305.3 1027.5,307.8 1028.0,310.3 1028.5,312.5 1029.0,314.6 1029.5,316.3 1030.0,317.7 1030.5,319.0 1031.0,320.3 1031.5,321.5 1032.0,322.7 1032.5,323.7 1033.0,324.7 1033.5,325.5 1034.0,326.2 1034.5,326.6 1035.0,327.0 1035.5,327.4 1036.0,327.9 1036.5,328.6 1037.0,329.3 1037.5,329.7 1038.0,330.0 1038.5,330.2 1039.0,330.5 1039.5,330.9 1040.0,331.2 1040.5,331.4 1041.0,331.4 1041.5,331.4 1042.0,331.5 1042.5,331.6 1043.0,331.7 1043.5,331.9 1044.0,332.3 1044.5,332.7 1045.0,333.0 1045.5,333.0 1046.0,332.8 1046.5,332.7 1047.0,332.7 1047.5,333.0 1048.0,333.3 1048.5,333.5 1049.0,333.6 1049.5,333.5 1050.0,333.5 1050.5,333.5 1051.0,333.5 1051.5,333.5 1052.0,333.5 1052.5,333.6 1053.0,333.9 1053.5,334.3 1054.0,334.5 1054.5,334.6 1055.0,334.5 1055.5,334.4 1056.0,334.4 1056.5,334.4 1057.0,334.6 1057.5,334.8 1058.0,335.0 1058.5,335.1 1059.0,334.9 1059.5,334.7 1060.0,334.4 1060.5,334.3 1061.0,334.4 1061.5,334.4 1062.0,334.2 1062.5,333.7 1063.0,333.2 1063.5,333.0 1064.0,332.8 1064.5,332.6 1065.0,332.3 1065.5,331.9 1066.0,331.5 1066.5,331.3 1067.0,331.3 1067.5,331.3 1068.0,331.1 1068.5,330.6 1069.0,329.9 1069.5,329.3 1070.0,328.9 1070.5,328.7 1071.0,328.7 1071.5,328.7 1072.0,328.8 1072.5,328.9 1073.0,329.0 1073.5,329.2 1074.0,329.2 1074.5,329.1 1075.0,328.9 1075.5,328.8 1076.0,328.9 1076.5,329.2 1077.0,329.4 1077.5,329.5 1078.0,329.4 1078.5,329.1 1079.0,328.6 1079.5,328.2 1080.0,327.6 1080.5,327.0 1081.0,326.3 1081.5,325.6 1082.0,324.8 1082.5,323.8 1083.0,323.0 1083.5,322.4 1084.0,321.9 1084.5,321.6 1085.0,321.6 1085.5,321.9 1086.0,322.3 1086.5,322.8 1087.0,323.6 1087.5,324.4 1088.0,325.1 1088.5,325.9 1089.0,326.6 1089.5,327.4 1090.0,328.1 1090.5,328.9 1091.0,329.8 1091.5,330.7 1092.0,331.3 1092.5,331.6 1093.0,331.7 1093.5,331.8 1094.0,332.1 1094.5,332.7 1095.0,333.5 1095.5,334.1 1096.0,334.4 1096.5,334.5 1097.0,334.4 1097.5,334.3 1098.0,334.3 1098.5,334.2 1099.0,334.0 1099.5,333.9 1100.0,333.9 1100.5,334.2 1101.0,334.7 1101.5,335.1 1102.0,335.5 1102.5,335.7 1103.0,335.7 1103.5,335.5 1104.0,335.5 1104.5,335.6 1105.0,335.7 1105.5,335.7 1106.0,335.5 1106.5,335.3"/>
</g>
<g stroke="#000" fill="none" stroke-linecap="butt">
<line x1="57" y1="0" x2="57" y2="520" stroke-width="3.6"/>
<line x1="55" y1="1.7" x2="1111" y2="1.7" stroke-width="3.6"/>
<line x1="1108.6" y1="0" x2="1108.6" y2="512" stroke-width="4.6"/>
<line x1="55" y1="509.6" x2="1111" y2="509.6" stroke-width="4.6"/>
<line x1="247.8" y1="509" x2="247.8" y2="520" stroke-width="3.4"/>
<line x1="439.1" y1="509" x2="439.1" y2="520" stroke-width="3.4"/>
<line x1="630.4" y1="509" x2="630.4" y2="520" stroke-width="3.4"/>
<line x1="821.7" y1="509" x2="821.7" y2="520" stroke-width="3.4"/>
<line x1="1013" y1="509" x2="1013" y2="520" stroke-width="3.4"/>
</g>
<polyline fill="none" stroke="#0a0a0a" stroke-width="3.0" stroke-linejoin="round" points="81.5,992.3 82.5,992.7 83.5,992.3 84.5,991.3 85.5,990.5 86.5,990.7 87.5,991.4 88.5,991.7 89.5,991.7 90.5,991.9 91.5,992.8 92.5,993.4 93.5,993.5 94.5,993.3 95.5,993.5 96.5,994.1 97.5,994.5 98.5,994.4 99.5,994.1 100.5,993.5 101.5,992.8 102.5,992.4 103.5,992.4 104.5,992.0 105.5,991.7 106.5,991.9 107.5,992.4 108.5,992.9 109.5,994.0 110.5,995.7 111.5,997.1 112.5,997.5 113.5,997.8 114.5,998.6 115.5,999.4 116.5,1000.0 117.5,1000.5 118.5,1000.6 119.5,1000.1 120.5,999.9 121.5,1000.5 122.5,1001.1 123.5,1000.8 124.5,999.5 125.5,998.4 126.5,998.1 127.5,998.7 128.5,1000.0 129.5,1001.4 130.5,1002.5 131.5,1003.6 132.5,1004.1 133.5,1003.9 134.5,1003.3 135.5,1002.4 136.5,1001.7 137.5,1001.3 138.5,1000.9 139.5,1000.5 140.5,1000.7 141.5,1001.4 142.5,1001.7 143.5,1001.6 144.5,1001.4 145.5,1001.1 146.5,1001.1 147.5,1001.2 148.5,1001.3 149.5,1001.3 150.5,1001.4 151.5,1001.6 152.5,1001.5 153.5,1001.4 154.5,1001.6 155.5,1001.7 156.5,1000.7 157.5,999.2 158.5,998.3 159.5,997.6 160.5,996.6 161.5,995.9 162.5,995.5 163.5,995.3 164.5,995.1 165.5,994.1 166.5,992.5 167.5,991.3 168.5,991.6 169.5,993.0 170.5,994.0 171.5,993.1 172.5,991.2 173.5,990.5 174.5,991.2 175.5,991.5 176.5,990.6 177.5,989.2 178.5,988.2 179.5,987.6 180.5,987.1 181.5,986.9 182.5,987.0 183.5,986.9 184.5,986.2 185.5,985.1 186.5,984.6 187.5,985.1 188.5,985.6 189.5,985.4 190.5,985.6 191.5,986.7 192.5,987.8 193.5,987.6 194.5,985.9 195.5,984.4 196.5,984.5 197.5,985.8 198.5,986.2 199.5,984.8 200.5,983.3 201.5,982.5 202.5,982.1 203.5,982.0 204.5,982.5 205.5,983.3 206.5,983.9 207.5,983.8 208.5,983.1 209.5,981.7 210.5,979.9 211.5,978.6 212.5,978.7 213.5,980.0 214.5,981.2 215.5,982.3 216.5,983.3 217.5,983.8 218.5,983.5 219.5,982.3 220.5,980.5 221.5,978.8 222.5,977.7 223.5,977.2 224.5,977.2 225.5,977.6 226.5,978.1 227.5,978.0 228.5,977.2 229.5,976.7 230.5,977.6 231.5,979.0 232.5,979.7 233.5,979.2 234.5,978.6 235.5,979.2 236.5,980.7 237.5,982.1 238.5,982.3 239.5,981.1 240.5,979.4 241.5,978.4 242.5,978.3 243.5,978.3 244.5,977.8 245.5,976.8 246.5,975.4 247.5,974.3 248.5,973.9 249.5,974.2 250.5,974.8 251.5,975.6 252.5,976.4 253.5,976.8 254.5,976.5 255.5,975.7 256.5,974.8 257.5,974.0 258.5,973.7 259.5,973.8 260.5,974.1 261.5,974.1 262.5,973.7 263.5,973.1 264.5,972.6 265.5,972.1 266.5,971.6 267.5,971.6 268.5,971.7 269.5,971.5 270.5,970.9 271.5,970.7 272.5,971.3 273.5,972.0 274.5,971.6 275.5,970.6 276.5,970.1 277.5,970.4 278.5,970.8 279.5,970.9 280.5,970.8 281.5,970.5 282.5,970.4 283.5,971.0 284.5,971.9 285.5,972.2 286.5,972.1 287.5,971.7 288.5,971.2 289.5,970.5 290.5,969.9 291.5,969.3 292.5,968.8 293.5,968.2 294.5,967.7 295.5,967.9 296.5,969.1 297.5,970.1 298.5,969.8 299.5,968.6 300.5,967.4 301.5,966.5 302.5,965.4 303.5,964.1 304.5,963.1 305.5,962.7 306.5,962.3 307.5,961.6 308.5,960.9 309.5,961.3 310.5,963.0 311.5,965.2 312.5,966.5 313.5,966.1 314.5,964.7 315.5,962.9 316.5,961.9 317.5,962.1 318.5,962.8 319.5,963.1 320.5,963.0 321.5,962.2 322.5,961.0 323.5,960.3 324.5,960.6 325.5,961.7 326.5,963.2 327.5,964.5 328.5,965.1 329.5,964.9 330.5,964.9 331.5,965.1 332.5,965.2 333.5,964.9 334.5,964.8 335.5,965.4 336.5,965.8 337.5,965.2 338.5,964.4 339.5,964.4 340.5,964.5 341.5,964.2 342.5,963.6 343.5,963.1 344.5,962.6 345.5,962.2 346.5,962.1 347.5,962.3 348.5,962.7 349.5,962.6 350.5,962.0 351.5,961.2 352.5,960.3 353.5,959.8 354.5,960.5 355.5,961.9 356.5,963.0 357.5,963.1 358.5,963.0 359.5,962.9 360.5,963.0 361.5,963.1 362.5,962.8 363.5,962.0 364.5,960.9 365.5,960.1 366.5,960.3 367.5,961.0 368.5,960.9 369.5,960.1 370.5,959.2 371.5,958.6 372.5,958.0 373.5,957.4 374.5,956.9 375.5,956.7 376.5,956.5 377.5,955.6 378.5,954.7 379.5,954.5 380.5,954.8 381.5,955.1 382.5,955.9 383.5,957.3 384.5,957.7 385.5,956.3 386.5,954.4 387.5,952.8 388.5,951.3 389.5,950.2 390.5,950.3 391.5,951.4 392.5,952.5 393.5,952.8 394.5,952.7 395.5,952.8 396.5,952.4 397.5,950.7 398.5,949.1 399.5,948.8 400.5,949.2 401.5,949.4 402.5,949.1 403.5,949.2 404.5,950.2 405.5,950.6 406.5,948.7 407.5,946.1 408.5,945.1 409.5,945.8 410.5,947.2 411.5,948.7 412.5,949.7 413.5,949.8 414.5,948.8 415.5,947.7 416.5,947.2 417.5,947.4 418.5,947.6 419.5,947.3 420.5,946.8 421.5,946.4 422.5,945.5 423.5,944.1 424.5,942.7 425.5,941.4 426.5,940.6 427.5,941.0 428.5,942.5 429.5,943.9 430.5,944.5 431.5,944.4 432.5,943.3 433.5,941.5 434.5,940.3 435.5,941.1 436.5,943.4 437.5,945.2 438.5,945.2 439.5,943.0 440.5,940.0 441.5,938.5 442.5,939.1 443.5,940.3 444.5,940.6 445.5,939.8 446.5,938.5 447.5,937.7 448.5,937.7 449.5,938.1 450.5,938.4 451.5,938.3 452.5,938.0 453.5,937.7 454.5,937.6 455.5,937.4 456.5,936.6 457.5,935.8 458.5,935.8 459.5,936.2 460.5,936.2 461.5,935.4 462.5,933.9 463.5,932.2 464.5,931.2 465.5,931.0 466.5,930.6 467.5,929.4 468.5,927.9 469.5,927.1 470.5,926.8 471.5,926.0 472.5,924.5 473.5,923.6 474.5,923.3 475.5,923.0 476.5,923.0 477.5,923.2 478.5,923.2 479.5,922.3 480.5,920.7 481.5,919.0 482.5,917.6 483.5,916.4 484.5,915.2 485.5,914.2 486.5,913.7 487.5,913.6 488.5,913.4 489.5,913.0 490.5,913.1 491.5,913.6 492.5,913.8 493.5,912.8 494.5,911.0 495.5,909.0 496.5,907.7 497.5,907.2 498.5,906.7 499.5,905.5 500.5,903.9 501.5,902.9 502.5,902.6 503.5,902.3 504.5,902.2 505.5,902.7 506.5,903.7 507.5,904.7 508.5,906.3 509.5,908.6 510.5,910.4 511.5,911.2 512.5,911.5 513.5,911.5 514.5,911.5 515.5,912.2 516.5,913.7 517.5,915.5 518.5,916.6 519.5,916.7 520.5,916.8 521.5,917.7 522.5,919.4 523.5,920.9 524.5,922.0 525.5,923.7 526.5,926.3 527.5,928.5 528.5,929.2 529.5,928.8 530.5,928.5 531.5,928.8 532.5,929.6 533.5,930.9 534.5,932.5 535.5,933.2 536.5,932.6 537.5,931.5 538.5,930.3 539.5,929.6 540.5,930.3 541.5,932.2 542.5,934.0 543.5,934.2 544.5,932.8 545.5,931.2 546.5,931.1 547.5,932.6 548.5,934.1 549.5,934.5 550.5,934.3 551.5,934.1 552.5,934.4 553.5,935.4 554.5,936.4 555.5,936.5 556.5,936.0 557.5,935.4 558.5,935.3 559.5,936.0 560.5,936.7 561.5,937.0 562.5,936.7 563.5,935.9 564.5,935.3 565.5,935.5 566.5,936.3 567.5,937.1 568.5,937.7 569.5,937.9 570.5,937.6 571.5,936.8 572.5,936.2 573.5,935.9 574.5,935.5 575.5,934.0 576.5,932.2 577.5,931.1 578.5,930.8 579.5,929.9 580.5,928.0 581.5,925.7 582.5,923.5 583.5,922.1 584.5,921.6 585.5,921.6 586.5,921.1 587.5,920.5 588.5,920.0 589.5,919.4 590.5,918.3 591.5,916.6 592.5,914.8 593.5,913.3 594.5,912.1 595.5,910.8 596.5,909.3 597.5,907.8 598.5,906.3 599.5,904.4 600.5,902.5 601.5,901.7 602.5,901.9 603.5,901.9 604.5,900.4 605.5,897.4 606.5,893.9 607.5,891.5 608.5,890.4 609.5,890.1 610.5,889.8 611.5,888.8 612.5,887.0 613.5,884.7 614.5,882.2 615.5,880.4 616.5,879.8 617.5,879.8 618.5,879.7 619.5,878.7 620.5,876.6 621.5,874.1 622.5,872.1 623.5,870.8 624.5,870.0 625.5,870.1 626.5,870.8 627.5,870.9 628.5,869.7 629.5,867.8 630.5,866.2 631.5,865.1 632.5,864.1 633.5,863.2 634.5,861.9 635.5,860.0 636.5,858.4 637.5,857.6 638.5,857.2 639.5,856.4 640.5,854.8 641.5,852.6 642.5,850.3 643.5,848.8 644.5,847.6 645.5,846.1 646.5,844.4 647.5,843.3 648.5,842.9 649.5,842.7 650.5,842.8 651.5,843.3 652.5,843.3 653.5,842.3 654.5,840.4 655.5,837.7 656.5,834.8 657.5,832.7 658.5,831.3 659.5,830.3 660.5,829.2 661.5,827.8 662.5,825.6 663.5,823.4 664.5,822.1 665.5,820.7 666.5,818.2 667.5,814.9 668.5,811.7 669.5,808.9 670.5,806.3 671.5,803.5 672.5,800.7 673.5,799.2 674.5,799.4 675.5,799.0 676.5,796.9 677.5,793.9 678.5,790.9 679.5,788.4 680.5,786.1 681.5,782.7 682.5,778.5 683.5,774.5 684.5,771.2 685.5,769.2 686.5,768.5 687.5,768.2 688.5,767.1 689.5,766.1 690.5,765.3 691.5,764.9 692.5,764.8 693.5,764.7 694.5,764.7 695.5,764.6 696.5,763.3 697.5,760.5 698.5,757.0 699.5,754.4 700.5,752.7 701.5,750.5 702.5,747.7 703.5,744.8 704.5,742.4 705.5,740.7 706.5,739.1 707.5,737.4 708.5,736.0 709.5,735.0 710.5,733.8 711.5,732.4 712.5,731.4 713.5,731.0 714.5,730.6 715.5,729.6 716.5,728.1 717.5,726.7 718.5,725.4 719.5,724.0 720.5,722.5 721.5,721.4 722.5,721.3 723.5,721.9 724.5,721.9 725.5,720.8 726.5,719.2 727.5,716.9 728.5,714.2 729.5,712.7 730.5,713.5 731.5,715.8 732.5,717.6 733.5,717.6 734.5,715.5 735.5,712.4 736.5,710.0 737.5,710.0 738.5,711.6 739.5,712.7 740.5,713.0 741.5,713.4 742.5,714.3 743.5,715.5 744.5,715.9 745.5,715.3 746.5,714.9 747.5,715.5 748.5,716.5 749.5,717.7 750.5,719.2 751.5,720.9 752.5,722.3 753.5,723.4 754.5,724.5 755.5,725.8 756.5,727.5 757.5,729.8 758.5,732.6 759.5,735.4 760.5,738.1 761.5,740.6 762.5,742.8 763.5,745.6 764.5,748.9 765.5,751.5 766.5,752.7 767.5,753.6 768.5,755.4 769.5,758.2 770.5,761.7 771.5,765.1 772.5,767.7 773.5,769.7 774.5,771.8 775.5,774.4 776.5,777.2 777.5,779.6 778.5,782.2 779.5,785.4 780.5,788.6 781.5,791.2 782.5,793.4 783.5,795.4 784.5,796.9 785.5,798.4 786.5,800.4 787.5,802.9 788.5,805.8 789.5,808.7 790.5,811.3 791.5,813.7 792.5,816.6 793.5,820.1 794.5,823.6 795.5,826.8 796.5,830.4 797.5,834.3 798.5,838.0 799.5,841.2 800.5,843.4 801.5,845.0 802.5,847.1 803.5,850.8 804.5,855.0 805.5,858.8 806.5,862.2 807.5,865.3 808.5,868.0 809.5,870.4 810.5,873.1 811.5,875.6 812.5,878.5 813.5,882.2 814.5,885.8 815.5,888.3 816.5,890.2 817.5,893.1 818.5,896.6 819.5,899.9 820.5,903.1 821.5,906.7 822.5,910.4 823.5,913.7 824.5,916.6 825.5,919.7 826.5,923.0 827.5,926.1 828.5,927.9 829.5,928.8 830.5,930.1 831.5,932.3 832.5,934.6 833.5,936.2 834.5,936.9 835.5,937.5 836.5,938.1 837.5,939.0 838.5,940.3 839.5,942.0 840.5,943.5 841.5,945.1 842.5,946.8 843.5,947.7 844.5,947.7 845.5,947.6 846.5,948.6 847.5,950.7 848.5,952.7 849.5,953.8 850.5,954.2 851.5,954.5 852.5,955.3 853.5,956.8 854.5,958.0 855.5,958.2 856.5,957.5 857.5,956.6 858.5,956.3 859.5,956.9 860.5,958.2 861.5,959.9 862.5,961.4 863.5,962.6 864.5,964.2 865.5,965.7 866.5,966.5 867.5,967.3 868.5,968.5 869.5,968.7 870.5,967.8 871.5,967.4 872.5,968.5 873.5,970.1 874.5,971.0 875.5,971.6 876.5,972.3 877.5,972.7 878.5,972.5 879.5,972.9 880.5,975.0 881.5,977.9 882.5,979.5 883.5,979.1 884.5,977.7 885.5,976.2 886.5,975.1 887.5,974.6 888.5,974.5 889.5,974.9 890.5,976.2 891.5,978.1 892.5,979.7 893.5,980.5 894.5,980.4 895.5,980.3 896.5,980.8 897.5,981.2 898.5,980.5 899.5,979.1 900.5,978.8 901.5,980.8 902.5,983.3 903.5,984.5 904.5,984.6 905.5,984.7 906.5,984.7 907.5,984.3 908.5,983.9 909.5,983.7 910.5,983.4 911.5,983.2 912.5,983.7 913.5,985.1 914.5,986.8 915.5,987.9 916.5,988.8 917.5,989.9 918.5,990.8 919.5,991.1 920.5,991.1 921.5,990.9 922.5,990.5 923.5,990.6 924.5,991.3 925.5,991.6 926.5,991.0 927.5,990.0 928.5,989.2 929.5,989.0 930.5,989.0 931.5,988.4 932.5,987.5 933.5,987.0 934.5,987.1 935.5,987.8 936.5,989.1 937.5,990.1 938.5,990.8 939.5,991.3 940.5,992.5 941.5,994.1 942.5,995.2 943.5,995.2 944.5,994.5 945.5,994.1 946.5,994.1 947.5,994.2 948.5,994.1 949.5,994.1 950.5,994.3 951.5,994.8 952.5,995.6 953.5,996.0 954.5,995.8 955.5,995.6 956.5,996.0 957.5,996.5 958.5,996.7 959.5,996.5 960.5,995.6 961.5,994.4 962.5,993.7 963.5,993.5 964.5,993.5 965.5,993.7 966.5,994.5 967.5,996.3 968.5,998.0 969.5,998.7 970.5,998.4 971.5,997.1 972.5,995.1 973.5,994.1 974.5,994.9 975.5,997.2 976.5,999.4 977.5,1000.4 978.5,1000.9 979.5,1001.7 980.5,1002.1 981.5,1001.9 982.5,1001.7 983.5,1001.1 984.5,999.8 985.5,998.2 986.5,997.2 987.5,997.1 988.5,997.7 989.5,998.4 990.5,998.7 991.5,998.7 992.5,998.7 993.5,998.7 994.5,998.6 995.5,998.1 996.5,997.7 997.5,997.6 998.5,997.5 999.5,997.0 1000.5,996.0 1001.5,995.5 1002.5,996.2 1003.5,997.4 1004.5,997.4 1005.5,996.3 1006.5,995.5 1007.5,996.0 1008.5,997.1 1009.5,998.2 1010.5,999.5 1011.5,1001.0 1012.5,1001.7 1013.5,1001.2 1014.5,1000.1 1015.5,999.3 1016.5,999.0 1017.5,999.3 1018.5,1000.1 1019.5,1000.9 1020.5,1001.8 1021.5,1002.9 1022.5,1003.7 1023.5,1003.8 1024.5,1003.2 1025.5,1001.8 1026.5,1000.5 1027.5,1000.3 1028.5,1000.6 1029.5,1000.9 1030.5,1001.7 1031.5,1003.0 1032.5,1004.2 1033.5,1004.5 1034.5,1003.9 1035.5,1003.3 1036.5,1003.0 1037.5,1002.9 1038.5,1003.0 1039.5,1003.1 1040.5,1002.7 1041.5,1002.4 1042.5,1002.2 1043.5,1001.8 1044.5,1000.8 1045.5,999.7 1046.5,999.0 1047.5,998.5 1048.5,998.7 1049.5,1000.0 1050.5,1001.8 1051.5,1002.9 1052.5,1003.2 1053.5,1003.1 1054.5,1002.4 1055.5,1001.5 1056.5,1000.8 1057.5,1000.8 1058.5,1001.3 1059.5,1001.3 1060.5,1000.2 1061.5,998.7 1062.5,998.2 1063.5,999.4 1064.5,1001.2 1065.5,1001.6 1066.5,1000.0 1067.5,997.7 1068.5,996.8 1069.5,997.8 1070.5,999.4 1071.5,1000.5 1072.5,1000.9 1073.5,1000.5 1074.5,999.9 1075.5,1000.2 1076.5,1001.2 1077.5,1002.5 1078.5,1003.7 1079.5,1004.1 1080.5,1003.3 1081.5,1001.9 1082.5,1001.1 1083.5,1001.5 1084.5,1002.4 1085.5,1002.8 1086.5,1002.5 1087.5,1001.5 1088.5,999.7 1089.5,998.3 1090.5,999.0 1091.5,1001.3 1092.5,1002.3 1093.5,1001.0 1094.5,999.4 1095.5,998.9 1096.5,998.9 1097.5,999.0 1098.5,999.9 1099.5,1001.5 1100.5,1002.5 1101.5,1003.0 1102.5,1003.2 1103.5,1002.5 1104.5,1000.9 1105.5,1000.2 1106.5,1001.0 1107.5,1002.1 1108.5,1002.2 1109.5,1001.3 1110.5,1000.5 1111.5,1000.8 1112.5,1002.4 1113.5,1003.3 1114.5,1002.3 1115.5,999.8 1116.5,997.3 1117.5,995.9"/>
<polyline fill="none" stroke="#e3242b" stroke-width="3.2" stroke-linejoin="round" points="81.5,1178.5 82.5,1178.3 83.5,1178.0 84.5,1178.1 85.5,1178.4 86.5,1178.9 87.5,1179.2 88.5,1179.4 89.5,1179.5 90.5,1179.5 91.5,1179.6 92.5,1179.6 93.5,1179.7 94.5,1179.6 95.5,1179.4 96.5,1179.1 97.5,1178.8 98.5,1178.6 99.5,1178.6 100.5,1178.8 101.5,1179.0 102.5,1179.1 103.5,1179.2 104.5,1179.1 105.5,1179.1 106.5,1179.0 107.5,1178.8 108.5,1178.7 109.5,1178.7 110.5,1178.7 111.5,1178.7 112.5,1178.7 113.5,1178.6 114.5,1178.6 115.5,1178.7 116.5,1178.8 117.5,1178.9 118.5,1179.0 119.5,1179.0 120.5,1179.1 121.5,1179.1 122.5,1179.1 123.5,1178.9 124.5,1178.8 125.5,1178.7 126.5,1178.8 127.5,1178.9 128.5,1179.1 129.5,1179.0 130.5,1178.9 131.5,1178.7 132.5,1178.5 133.5,1178.4 134.5,1178.2 135.5,1178.0 136.5,1177.6 137.5,1177.1 138.5,1176.6 139.5,1176.2 140.5,1175.9 141.5,1175.7 142.5,1175.5 143.5,1175.1 144.5,1174.5 145.5,1173.7 146.5,1172.8 147.5,1172.0 148.5,1171.3 149.5,1170.9 150.5,1170.7 151.5,1170.8 152.5,1171.1 153.5,1171.6 154.5,1172.3 155.5,1173.2 156.5,1174.3 157.5,1175.3 158.5,1176.1 159.5,1176.6 160.5,1176.8 161.5,1176.9 162.5,1176.8 163.5,1176.5 164.5,1176.3 165.5,1176.1 166.5,1176.2 167.5,1176.5 168.5,1176.9 169.5,1177.1 170.5,1177.1 171.5,1176.9 172.5,1176.8 173.5,1176.8 174.5,1176.9 175.5,1177.2 176.5,1177.4 177.5,1177.6 178.5,1177.8 179.5,1178.0 180.5,1178.1 181.5,1178.2 182.5,1178.2 183.5,1178.4 184.5,1178.5 185.5,1178.6 186.5,1178.6 187.5,1178.4 188.5,1178.2 189.5,1178.0 190.5,1177.8 191.5,1177.8 192.5,1177.8 193.5,1177.9 194.5,1178.0 195.5,1178.1 196.5,1178.3 197.5,1178.4 198.5,1178.6 199.5,1178.7 200.5,1178.8 201.5,1178.9 202.5,1179.0 203.5,1179.0 204.5,1178.9 205.5,1178.7 206.5,1178.6 207.5,1178.6 208.5,1178.6 209.5,1178.5 210.5,1178.5 211.5,1178.4 212.5,1178.2 213.5,1177.8 214.5,1177.5 215.5,1177.2 216.5,1176.9 217.5,1176.6 218.5,1176.2 219.5,1175.8 220.5,1175.6 221.5,1175.4 222.5,1175.2 223.5,1174.8 224.5,1174.3 225.5,1173.7 226.5,1173.2 227.5,1172.6 228.5,1172.2 229.5,1171.7 230.5,1171.1 231.5,1170.4 232.5,1169.6 233.5,1168.9 234.5,1168.2 235.5,1167.6 236.5,1166.8 237.5,1165.9 238.5,1164.8 239.5,1163.7 240.5,1162.7 241.5,1161.9 242.5,1161.1 243.5,1160.2 244.5,1159.1 245.5,1157.9 246.5,1156.8 247.5,1155.7 248.5,1154.7 249.5,1153.9 250.5,1153.1 251.5,1152.5 252.5,1151.8 253.5,1150.8 254.5,1149.7 255.5,1148.5 256.5,1147.6 257.5,1146.8 258.5,1146.2 259.5,1145.6 260.5,1145.4 261.5,1145.5 262.5,1145.9 263.5,1146.3 264.5,1146.4 265.5,1146.3 266.5,1146.1 267.5,1146.0 268.5,1146.1 269.5,1146.4 270.5,1146.8 271.5,1147.3 272.5,1147.9 273.5,1148.4 274.5,1148.9 275.5,1149.4 276.5,1149.9 277.5,1150.6 278.5,1152.3 279.5,1154.7 280.5,1157.4 281.5,1160.0 282.5,1162.2 283.5,1163.8 284.5,1164.6 285.5,1165.2 286.5,1166.0 287.5,1167.0 288.5,1167.9 289.5,1168.8 290.5,1169.6 291.5,1170.3 292.5,1170.8 293.5,1171.3 294.5,1171.5 295.5,1171.8 296.5,1172.0 297.5,1172.2 298.5,1172.3 299.5,1172.1 300.5,1171.9 301.5,1171.9 302.5,1171.9 303.5,1171.9 304.5,1171.8 305.5,1171.7 306.5,1171.3 307.5,1170.9 308.5,1170.6 309.5,1170.3 310.5,1170.1 311.5,1169.9 312.5,1169.7 313.5,1169.4 314.5,1169.0 315.5,1168.4 316.5,1167.2 317.5,1165.3 318.5,1163.1 319.5,1160.4 320.5,1157.7 321.5,1154.9 322.5,1152.3 323.5,1149.6 324.5,1145.9 325.5,1141.5 326.5,1136.5 327.5,1131.4 328.5,1126.4 329.5,1121.9 330.5,1118.0 331.5,1115.2 332.5,1113.9 333.5,1114.2 334.5,1116.0 335.5,1118.8 336.5,1122.4 337.5,1126.5 338.5,1130.7 339.5,1134.6 340.5,1138.1 341.5,1141.0 342.5,1143.2 343.5,1145.3 344.5,1147.4 345.5,1149.4 346.5,1151.3 347.5,1153.2 348.5,1155.0 349.5,1156.7 350.5,1158.2 351.5,1159.5 352.5,1160.6 353.5,1161.4 354.5,1162.2 355.5,1163.0 356.5,1163.8 357.5,1164.4 358.5,1164.9 359.5,1165.4 360.5,1165.7 361.5,1166.0 362.5,1166.0 363.5,1166.1 364.5,1166.2 365.5,1166.5 366.5,1166.7 367.5,1166.8 368.5,1166.7 369.5,1166.6 370.5,1166.6 371.5,1166.6 372.5,1166.6 373.5,1166.5 374.5,1166.2 375.5,1165.8 376.5,1165.4 377.5,1165.1 378.5,1164.9 379.5,1164.7 380.5,1164.2 381.5,1163.0 382.5,1161.0 383.5,1158.4 384.5,1155.5 385.5,1152.5 386.5,1149.4 387.5,1146.5 388.5,1143.7 389.5,1140.6 390.5,1137.3 391.5,1133.9 392.5,1130.8 393.5,1127.5 394.5,1124.1 395.5,1121.1 396.5,1119.1 397.5,1118.5 398.5,1118.9 399.5,1119.5 400.5,1120.4 401.5,1121.5 402.5,1122.9 403.5,1124.4 404.5,1125.9 405.5,1127.2 406.5,1128.1 407.5,1128.5 408.5,1128.5 409.5,1128.0 410.5,1127.0 411.5,1125.6 412.5,1123.7 413.5,1121.5 414.5,1119.1 415.5,1116.6 416.5,1113.9 417.5,1111.3 418.5,1108.6 419.5,1106.1 420.5,1103.9 421.5,1102.1 422.5,1100.6 423.5,1098.9 424.5,1096.9 425.5,1094.8 426.5,1092.5 427.5,1090.3 428.5,1088.2 429.5,1086.4 430.5,1085.3 431.5,1084.9 432.5,1085.0 433.5,1086.2 434.5,1088.8 435.5,1092.5 436.5,1097.2 437.5,1102.4 438.5,1107.8 439.5,1113.2 440.5,1118.3 441.5,1123.0 442.5,1126.8 443.5,1129.7 444.5,1132.3 445.5,1135.0 446.5,1137.8 447.5,1140.4 448.5,1142.9 449.5,1145.2 450.5,1147.2 451.5,1149.0 452.5,1150.6 453.5,1151.9 454.5,1152.9 455.5,1153.6 456.5,1154.1 457.5,1154.7 458.5,1155.3 459.5,1156.0 460.5,1156.8 461.5,1157.6 462.5,1158.4 463.5,1158.9 464.5,1159.3 465.5,1159.7 466.5,1160.0 467.5,1160.1 468.5,1160.0 469.5,1159.6 470.5,1159.1 471.5,1158.6 472.5,1158.0 473.5,1157.3 474.5,1156.5 475.5,1155.6 476.5,1154.7 477.5,1153.7 478.5,1152.8 479.5,1151.8 480.5,1150.8 481.5,1149.6 482.5,1148.4 483.5,1147.2 484.5,1145.8 485.5,1144.4 486.5,1142.7 487.5,1140.6 488.5,1138.2 489.5,1135.4 490.5,1132.4 491.5,1129.3 492.5,1126.0 493.5,1122.5 494.5,1118.8 495.5,1114.8 496.5,1110.6 497.5,1106.2 498.5,1101.6 499.5,1096.7 500.5,1091.5 501.5,1086.1 502.5,1079.7 503.5,1072.6 504.5,1064.8 505.5,1056.5 506.5,1047.8 507.5,1039.0 508.5,1030.5 509.5,1022.8 510.5,1015.8 511.5,1008.2 512.5,1000.1 513.5,991.8 514.5,983.7 515.5,976.6 516.5,970.7 517.5,966.4 518.5,963.9 519.5,963.7 520.5,965.9 521.5,970.2 522.5,976.2 523.5,983.3 524.5,991.2 525.5,999.2 526.5,1006.9 527.5,1014.0 528.5,1021.6 529.5,1029.3 530.5,1037.0 531.5,1044.3 532.5,1051.8 533.5,1059.9 534.5,1068.2 535.5,1076.6 536.5,1084.8 537.5,1092.8 538.5,1100.4 539.5,1107.6 540.5,1114.2 541.5,1120.1 542.5,1125.1 543.5,1128.9 544.5,1131.7 545.5,1134.2 546.5,1136.6 547.5,1138.8 548.5,1141.0 549.5,1143.1 550.5,1145.2 551.5,1147.2 552.5,1149.1 553.5,1150.8 554.5,1152.3 555.5,1153.6 556.5,1154.8 557.5,1155.8 558.5,1156.7 559.5,1157.4 560.5,1158.0 561.5,1158.5 562.5,1159.1 563.5,1159.7 564.5,1160.2 565.5,1160.7 566.5,1161.2 567.5,1161.6 568.5,1162.2 569.5,1162.6 570.5,1163.0 571.5,1163.3 572.5,1163.6 573.5,1164.0 574.5,1164.5 575.5,1165.0 576.5,1165.5 577.5,1166.1 578.5,1166.6 579.5,1167.0 580.5,1167.2 581.5,1167.3 582.5,1167.3 583.5,1167.4 584.5,1167.7 585.5,1167.9 586.5,1168.1 587.5,1168.2 588.5,1168.3 589.5,1168.4 590.5,1168.5 591.5,1168.6 592.5,1168.6 593.5,1168.3 594.5,1168.1 595.5,1168.0 596.5,1168.0 597.5,1168.2 598.5,1168.4 599.5,1168.8 600.5,1169.0 601.5,1169.0 602.5,1168.6 603.5,1168.0 604.5,1167.2 605.5,1166.2 606.5,1165.0 607.5,1163.5 608.5,1162.1 609.5,1160.7 610.5,1159.6 611.5,1158.2 612.5,1156.4 613.5,1154.2 614.5,1151.8 615.5,1149.5 616.5,1147.3 617.5,1145.5 618.5,1144.1 619.5,1142.6 620.5,1141.2 621.5,1139.9 622.5,1138.7 623.5,1137.9 624.5,1137.2 625.5,1136.8 626.5,1136.6 627.5,1136.7 628.5,1137.1 629.5,1137.7 630.5,1138.6 631.5,1139.7 632.5,1140.9 633.5,1141.8 634.5,1142.4 635.5,1142.9 636.5,1143.4 637.5,1144.0 638.5,1144.6 639.5,1145.3 640.5,1145.7 641.5,1145.9 642.5,1145.8 643.5,1145.6 644.5,1145.4 645.5,1145.2 646.5,1145.1 647.5,1144.8 648.5,1144.1 649.5,1143.1 650.5,1141.7 651.5,1140.2 652.5,1138.8 653.5,1137.5 654.5,1136.4 655.5,1135.2 656.5,1133.8 657.5,1132.3 658.5,1130.2 659.5,1127.3 660.5,1123.7 661.5,1119.3 662.5,1114.3 663.5,1108.6 664.5,1102.5 665.5,1096.2 666.5,1089.6 667.5,1082.7 668.5,1075.5 669.5,1068.0 670.5,1060.5 671.5,1053.0 672.5,1045.5 673.5,1037.7 674.5,1028.6 675.5,1018.4 676.5,1007.5 677.5,996.1 678.5,984.4 679.5,972.7 680.5,961.4 681.5,950.9 682.5,941.7 683.5,933.8 684.5,927.5 685.5,921.3 686.5,915.1 687.5,909.3 688.5,903.9 689.5,899.2 690.5,895.2 691.5,892.0 692.5,889.7 693.5,888.6 694.5,888.9 695.5,890.7 696.5,893.7 697.5,897.7 698.5,902.7 699.5,908.6 700.5,915.1 701.5,922.0 702.5,929.2 703.5,936.4 704.5,943.3 705.5,949.6 706.5,956.0 707.5,962.7 708.5,969.9 709.5,977.4 710.5,985.1 711.5,993.0 712.5,1000.9 713.5,1008.8 714.5,1016.6 715.5,1024.0 716.5,1031.0 717.5,1037.5 718.5,1043.5 719.5,1049.1 720.5,1054.8 721.5,1060.4 722.5,1065.9 723.5,1071.1 724.5,1076.3 725.5,1081.3 726.5,1086.3 727.5,1091.0 728.5,1095.5 729.5,1099.5 730.5,1103.1 731.5,1106.4 732.5,1109.5 733.5,1112.3 734.5,1114.7 735.5,1116.9 736.5,1119.0 737.5,1120.9 738.5,1122.8 739.5,1124.6 740.5,1126.3 741.5,1127.9 742.5,1129.3 743.5,1130.6 744.5,1131.8 745.5,1133.1 746.5,1134.4 747.5,1135.8 748.5,1137.1 749.5,1138.3 750.5,1139.2 751.5,1140.0 752.5,1140.6 753.5,1141.1 754.5,1141.5 755.5,1142.1 756.5,1142.6 757.5,1143.0 758.5,1143.5 759.5,1144.0 760.5,1144.4 761.5,1144.8 762.5,1145.2 763.5,1145.6 764.5,1146.0 765.5,1146.5 766.5,1147.1 767.5,1148.0 768.5,1148.8 769.5,1149.4 770.5,1149.9 771.5,1150.1 772.5,1150.2 773.5,1150.1 774.5,1150.0 775.5,1150.1 776.5,1150.3 777.5,1150.6 778.5,1151.1 779.5,1151.6 780.5,1152.2 781.5,1152.7 782.5,1153.2 783.5,1153.5 784.5,1153.7 785.5,1153.8 786.5,1153.9 787.5,1154.2 788.5,1154.6 789.5,1155.0 790.5,1155.4 791.5,1155.7 792.5,1155.9 793.5,1156.1 794.5,1156.4 795.5,1156.8 796.5,1157.1 797.5,1157.4 798.5,1157.6 799.5,1158.0 800.5,1158.4 801.5,1158.8 802.5,1159.1 803.5,1159.3 804.5,1159.7 805.5,1160.2 806.5,1160.7 807.5,1161.0 808.5,1161.1 809.5,1161.3 810.5,1161.5 811.5,1161.9 812.5,1162.3 813.5,1162.7 814.5,1163.1 815.5,1163.4 816.5,1163.7 817.5,1164.1 818.5,1164.5 819.5,1164.9 820.5,1165.2 821.5,1165.4 822.5,1165.5 823.5,1165.4 824.5,1165.4 825.5,1165.6 826.5,1166.0 827.5,1166.5 828.5,1167.0 829.5,1167.3 830.5,1167.3 831.5,1167.3 832.5,1167.4 833.5,1167.7 834.5,1168.1 835.5,1168.5 836.5,1168.7 837.5,1168.9 838.5,1169.0 839.5,1169.0 840.5,1169.1 841.5,1169.2 842.5,1169.2 843.5,1169.4 844.5,1169.6 845.5,1170.0 846.5,1170.3 847.5,1170.6 848.5,1171.0 849.5,1171.6 850.5,1172.0 851.5,1172.2 852.5,1172.3 853.5,1172.2 854.5,1172.1 855.5,1172.1 856.5,1172.1 857.5,1172.2 858.5,1172.2 859.5,1172.3 860.5,1172.5 861.5,1172.8 862.5,1173.2 863.5,1173.4 864.5,1173.5 865.5,1173.5 866.5,1173.5 867.5,1173.5 868.5,1173.6 869.5,1173.9 870.5,1174.1 871.5,1174.4 872.5,1174.6 873.5,1174.6 874.5,1174.4 875.5,1174.2 876.5,1174.1 877.5,1174.1 878.5,1174.2 879.5,1174.3 880.5,1174.5 881.5,1174.7 882.5,1175.0 883.5,1175.4 884.5,1175.7 885.5,1175.9 886.5,1176.1 887.5,1176.3 888.5,1176.5 889.5,1176.5 890.5,1176.4 891.5,1176.3 892.5,1176.3 893.5,1176.5 894.5,1176.8 895.5,1177.1 896.5,1177.3 897.5,1177.4 898.5,1177.3 899.5,1177.0 900.5,1176.8 901.5,1176.8 902.5,1177.0 903.5,1177.3 904.5,1177.4 905.5,1177.4 906.5,1177.4 907.5,1177.5 908.5,1177.7 909.5,1177.8 910.5,1177.8 911.5,1177.8 912.5,1177.9 913.5,1177.9 914.5,1177.9 915.5,1177.7 916.5,1177.7 917.5,1177.7 918.5,1177.9 919.5,1178.0 920.5,1178.2 921.5,1178.2 922.5,1178.1 923.5,1178.0 924.5,1177.8 925.5,1177.6 926.5,1177.4 927.5,1177.2 928.5,1177.2 929.5,1177.2 930.5,1177.3 931.5,1177.4 932.5,1177.5 933.5,1177.6 934.5,1177.6 935.5,1177.5 936.5,1177.3 937.5,1177.0 938.5,1176.8 939.5,1176.9 940.5,1177.1 941.5,1177.3 942.5,1177.4 943.5,1177.4 944.5,1177.1 945.5,1176.8 946.5,1176.5 947.5,1176.2 948.5,1176.0 949.5,1175.8 950.5,1175.8 951.5,1175.8 952.5,1175.8 953.5,1176.0 954.5,1176.4 955.5,1176.6 956.5,1176.6 957.5,1176.3 958.5,1175.8 959.5,1175.3 960.5,1175.0 961.5,1174.7 962.5,1174.4 963.5,1174.1 964.5,1174.0 965.5,1174.1 966.5,1174.4 967.5,1174.7 968.5,1175.1 969.5,1175.6 970.5,1176.1 971.5,1176.5 972.5,1177.0 973.5,1177.3 974.5,1177.5 975.5,1177.5 976.5,1177.4 977.5,1177.2 978.5,1177.1 979.5,1177.1 980.5,1177.3 981.5,1177.7 982.5,1178.0 983.5,1178.2 984.5,1178.2 985.5,1178.2 986.5,1178.3 987.5,1178.5 988.5,1178.7 989.5,1178.8 990.5,1179.0 991.5,1179.1 992.5,1179.3 993.5,1179.5 994.5,1179.7 995.5,1179.8 996.5,1179.9 997.5,1179.8 998.5,1179.6 999.5,1179.4 1000.5,1179.3 1001.5,1179.4 1002.5,1179.5 1003.5,1179.7 1004.5,1179.8 1005.5,1179.9 1006.5,1179.9 1007.5,1179.7 1008.5,1179.5 1009.5,1179.5 1010.5,1179.6 1011.5,1179.8 1012.5,1180.0 1013.5,1180.1 1014.5,1180.0 1015.5,1179.8 1016.5,1179.7 1017.5,1179.5 1018.5,1179.3 1019.5,1179.3 1020.5,1179.5 1021.5,1179.6 1022.5,1179.7 1023.5,1179.7 1024.5,1179.8 1025.5,1179.9 1026.5,1180.0 1027.5,1180.2 1028.5,1180.4 1029.5,1180.5 1030.5,1180.6 1031.5,1180.5 1032.5,1180.4 1033.5,1180.2 1034.5,1180.1 1035.5,1180.0 1036.5,1179.9 1037.5,1179.8 1038.5,1179.7 1039.5,1179.7 1040.5,1179.7 1041.5,1179.8 1042.5,1179.9 1043.5,1179.9 1044.5,1179.9 1045.5,1179.9 1046.5,1179.8 1047.5,1179.8 1048.5,1179.9 1049.5,1179.9 1050.5,1180.0 1051.5,1180.0 1052.5,1180.1 1053.5,1180.1 1054.5,1180.1 1055.5,1180.1 1056.5,1180.0 1057.5,1179.8 1058.5,1179.7 1059.5,1179.7 1060.5,1179.8 1061.5,1179.9 1062.5,1179.9 1063.5,1179.9 1064.5,1180.0 1065.5,1180.2 1066.5,1180.4 1067.5,1180.6 1068.5,1180.6 1069.5,1180.6 1070.5,1180.7 1071.5,1180.8 1072.5,1180.8 1073.5,1180.8 1074.5,1180.7 1075.5,1180.7 1076.5,1180.7 1077.5,1180.6 1078.5,1180.4 1079.5,1180.1 1080.5,1179.8 1081.5,1179.6 1082.5,1179.8 1083.5,1180.2 1084.5,1180.6 1085.5,1180.9 1086.5,1180.9 1087.5,1180.7 1088.5,1180.3 1089.5,1179.9 1090.5,1179.7 1091.5,1179.5 1092.5,1179.6 1093.5,1179.7 1094.5,1180.0 1095.5,1180.2 1096.5,1180.3 1097.5,1180.3 1098.5,1180.3 1099.5,1180.4 1100.5,1180.3 1101.5,1180.1 1102.5,1179.8 1103.5,1179.5 1104.5,1179.4 1105.5,1179.6 1106.5,1179.8 1107.5,1180.1 1108.5,1180.4 1109.5,1180.6 1110.5,1180.7 1111.5,1180.6 1112.5,1180.5 1113.5,1180.5 1114.5,1180.5 1115.5,1180.7 1116.5,1180.9 1117.5,1181.1"/>
<polyline fill="none" stroke="#1e7a40" stroke-width="3.3" stroke-linejoin="round" points="81.5,1115.6 82.5,1115.8 83.5,1116.2 84.5,1116.6 85.5,1117.1 86.5,1117.5 87.5,1117.6 88.5,1117.5 89.5,1117.5 90.5,1117.5 91.5,1117.6 92.5,1117.7 93.5,1117.9 94.5,1118.0 95.5,1118.1 96.5,1118.0 97.5,1118.0 98.5,1118.3 99.5,1118.7 100.5,1119.2 101.5,1119.7 102.5,1120.1 103.5,1120.4 104.5,1120.4 105.5,1120.3 106.5,1120.0 107.5,1119.8 108.5,1119.6 109.5,1119.6 110.5,1119.8 111.5,1119.9 112.5,1119.8 113.5,1119.8 114.5,1119.8 115.5,1120.0 116.5,1120.2 117.5,1120.2 118.5,1120.1 119.5,1119.8 120.5,1119.7 121.5,1119.7 122.5,1119.8 123.5,1120.1 124.5,1120.4 125.5,1120.6 126.5,1120.7 127.5,1120.8 128.5,1120.9 129.5,1121.0 130.5,1121.2 131.5,1121.2 132.5,1121.2 133.5,1121.3 134.5,1121.4 135.5,1121.5 136.5,1121.6 137.5,1121.5 138.5,1121.3 139.5,1121.0 140.5,1120.8 141.5,1120.6 142.5,1120.6 143.5,1120.7 144.5,1120.8 145.5,1120.9 146.5,1120.8 147.5,1120.4 148.5,1119.9 149.5,1119.6 150.5,1119.7 151.5,1120.0 152.5,1120.5 153.5,1120.8 154.5,1120.9 155.5,1120.9 156.5,1120.9 157.5,1120.8 158.5,1120.7 159.5,1120.5 160.5,1120.3 161.5,1120.1 162.5,1119.9 163.5,1120.0 164.5,1120.1 165.5,1120.1 166.5,1119.9 167.5,1119.6 168.5,1119.5 169.5,1119.5 170.5,1119.7 171.5,1119.9 172.5,1120.0 173.5,1119.9 174.5,1119.6 175.5,1119.2 176.5,1118.8 177.5,1118.5 178.5,1118.2 179.5,1118.1 180.5,1118.1 181.5,1118.0 182.5,1117.5 183.5,1116.9 184.5,1116.5 185.5,1116.2 186.5,1116.2 187.5,1116.1 188.5,1115.9 189.5,1115.7 190.5,1115.5 191.5,1115.4 192.5,1115.2 193.5,1114.9 194.5,1114.5 195.5,1114.1 196.5,1113.6 197.5,1113.2 198.5,1112.9 199.5,1112.7 200.5,1112.6 201.5,1112.5 202.5,1112.5 203.5,1112.5 204.5,1112.3 205.5,1111.9 206.5,1111.4 207.5,1110.8 208.5,1110.2 209.5,1109.8 210.5,1109.6 211.5,1109.6 212.5,1109.6 213.5,1109.4 214.5,1109.0 215.5,1108.3 216.5,1107.8 217.5,1107.3 218.5,1106.9 219.5,1106.4 220.5,1106.0 221.5,1105.8 222.5,1105.5 223.5,1105.1 224.5,1104.6 225.5,1104.1 226.5,1103.5 227.5,1102.9 228.5,1102.1 229.5,1101.4 230.5,1100.7 231.5,1100.1 232.5,1099.6 233.5,1099.2 234.5,1098.8 235.5,1098.5 236.5,1098.4 237.5,1098.2 238.5,1097.9 239.5,1097.2 240.5,1096.2 241.5,1095.0 242.5,1093.9 243.5,1093.2 244.5,1093.0 245.5,1093.1 246.5,1093.0 247.5,1092.9 248.5,1092.7 249.5,1092.6 250.5,1092.5 251.5,1092.5 252.5,1092.4 253.5,1092.2 254.5,1092.1 255.5,1092.1 256.5,1092.4 257.5,1092.9 258.5,1093.4 259.5,1093.6 260.5,1093.6 261.5,1093.3 262.5,1092.8 263.5,1092.2 264.5,1091.7 265.5,1091.7 266.5,1091.9 267.5,1092.4 268.5,1092.8 269.5,1093.2 270.5,1093.6 271.5,1094.1 272.5,1094.4 273.5,1094.8 274.5,1095.2 275.5,1095.5 276.5,1095.7 277.5,1096.1 278.5,1096.8 279.5,1097.9 280.5,1099.0 281.5,1099.8 282.5,1100.4 283.5,1100.9 284.5,1101.3 285.5,1101.7 286.5,1102.0 287.5,1102.1 288.5,1102.1 289.5,1102.0 290.5,1101.8 291.5,1101.6 292.5,1101.6 293.5,1101.6 294.5,1101.5 295.5,1101.4 296.5,1101.1 297.5,1100.7 298.5,1100.2 299.5,1099.7 300.5,1099.3 301.5,1099.1 302.5,1098.8 303.5,1098.5 304.5,1097.8 305.5,1096.9 306.5,1095.8 307.5,1094.9 308.5,1094.3 309.5,1093.7 310.5,1092.8 311.5,1091.5 312.5,1089.8 313.5,1087.7 314.5,1085.5 315.5,1083.2 316.5,1080.8 317.5,1078.3 318.5,1075.7 319.5,1073.4 320.5,1071.3 321.5,1069.5 322.5,1068.0 323.5,1066.7 324.5,1065.7 325.5,1065.1 326.5,1064.8 327.5,1065.0 328.5,1065.5 329.5,1066.4 330.5,1067.5 331.5,1069.0 332.5,1070.5 333.5,1072.0 334.5,1073.4 335.5,1075.0 336.5,1076.7 337.5,1078.4 338.5,1080.1 339.5,1081.2 340.5,1081.9 341.5,1082.3 342.5,1082.8 343.5,1083.7 344.5,1084.7 345.5,1085.5 346.5,1086.0 347.5,1086.4 348.5,1086.7 349.5,1087.0 350.5,1087.4 351.5,1087.8 352.5,1088.1 353.5,1088.4 354.5,1088.6 355.5,1088.8 356.5,1088.9 357.5,1088.9 358.5,1088.9 359.5,1088.9 360.5,1088.8 361.5,1088.7 362.5,1088.4 363.5,1088.1 364.5,1087.8 365.5,1087.5 366.5,1087.1 367.5,1086.6 368.5,1086.2 369.5,1086.0 370.5,1085.9 371.5,1085.6 372.5,1084.9 373.5,1084.1 374.5,1083.1 375.5,1081.9 376.5,1080.3 377.5,1078.5 378.5,1076.5 379.5,1074.5 380.5,1072.7 381.5,1071.1 382.5,1069.6 383.5,1068.3 384.5,1066.9 385.5,1065.4 386.5,1064.1 387.5,1063.1 388.5,1062.4 389.5,1062.0 390.5,1061.9 391.5,1062.0 392.5,1062.2 393.5,1062.2 394.5,1062.1 395.5,1061.8 396.5,1061.6 397.5,1061.4 398.5,1061.3 399.5,1061.3 400.5,1061.4 401.5,1061.5 402.5,1061.1 403.5,1060.3 404.5,1059.0 405.5,1057.5 406.5,1056.1 407.5,1054.9 408.5,1053.7 409.5,1052.6 410.5,1051.3 411.5,1049.9 412.5,1048.6 413.5,1047.3 414.5,1046.4 415.5,1045.5 416.5,1044.7 417.5,1043.6 418.5,1042.5 419.5,1041.3 420.5,1040.2 421.5,1039.2 422.5,1038.6 423.5,1038.3 424.5,1038.2 425.5,1038.2 426.5,1038.3 427.5,1038.6 428.5,1039.1 429.5,1039.8 430.5,1040.8 431.5,1042.2 432.5,1044.1 433.5,1046.3 434.5,1048.6 435.5,1051.0 436.5,1053.3 437.5,1055.6 438.5,1057.8 439.5,1060.0 440.5,1062.3 441.5,1064.5 442.5,1066.5 443.5,1068.2 444.5,1069.6 445.5,1070.9 446.5,1071.9 447.5,1072.7 448.5,1073.3 449.5,1073.9 450.5,1074.6 451.5,1075.5 452.5,1076.3 453.5,1076.6 454.5,1076.6 455.5,1076.3 456.5,1076.1 457.5,1076.2 458.5,1076.2 459.5,1076.2 460.5,1076.0 461.5,1075.8 462.5,1075.7 463.5,1075.5 464.5,1075.0 465.5,1074.2 466.5,1073.5 467.5,1073.0 468.5,1072.6 469.5,1072.1 470.5,1071.4 471.5,1070.4 472.5,1069.2 473.5,1068.0 474.5,1066.9 475.5,1065.9 476.5,1064.9 477.5,1063.7 478.5,1062.2 479.5,1060.6 480.5,1058.9 481.5,1057.2 482.5,1055.5 483.5,1053.7 484.5,1051.8 485.5,1049.6 486.5,1047.1 487.5,1044.5 488.5,1041.9 489.5,1039.4 490.5,1037.1 491.5,1034.8 492.5,1032.3 493.5,1029.2 494.5,1025.4 495.5,1021.0 496.5,1016.1 497.5,1010.7 498.5,1005.2 499.5,999.6 500.5,993.8 501.5,988.1 502.5,982.7 503.5,977.5 504.5,972.6 505.5,968.0 506.5,963.7 507.5,959.9 508.5,956.9 509.5,954.6 510.5,952.9 511.5,951.8 512.5,951.7 513.5,952.8 514.5,955.1 515.5,958.6 516.5,963.2 517.5,968.7 518.5,974.9 519.5,981.6 520.5,988.4 521.5,995.4 522.5,1002.3 523.5,1009.0 524.5,1015.3 525.5,1021.1 526.5,1026.4 527.5,1031.1 528.5,1035.0 529.5,1038.5 530.5,1041.9 531.5,1045.4 532.5,1049.0 533.5,1052.4 534.5,1055.4 535.5,1057.9 536.5,1060.2 537.5,1062.3 538.5,1064.2 539.5,1065.9 540.5,1067.4 541.5,1068.7 542.5,1070.0 543.5,1071.3 544.5,1072.5 545.5,1073.6 546.5,1074.7 547.5,1075.9 548.5,1077.2 549.5,1078.8 550.5,1080.3 551.5,1081.4 552.5,1082.0 553.5,1082.4 554.5,1082.7 555.5,1083.2 556.5,1083.8 557.5,1084.4 558.5,1084.8 559.5,1085.0 560.5,1085.3 561.5,1085.8 562.5,1086.5 563.5,1087.4 564.5,1088.3 565.5,1089.0 566.5,1089.6 567.5,1090.0 568.5,1090.0 569.5,1089.8 570.5,1089.6 571.5,1089.7 572.5,1089.8 573.5,1090.1 574.5,1090.3 575.5,1090.4 576.5,1090.5 577.5,1090.6 578.5,1090.7 579.5,1090.8 580.5,1090.8 581.5,1090.7 582.5,1090.5 583.5,1090.3 584.5,1090.1 585.5,1090.0 586.5,1089.6 587.5,1088.8 588.5,1088.0 589.5,1087.5 590.5,1087.2 591.5,1086.9 592.5,1086.5 593.5,1086.0 594.5,1085.3 595.5,1084.5 596.5,1083.7 597.5,1082.9 598.5,1081.9 599.5,1080.6 600.5,1079.0 601.5,1077.2 602.5,1075.5 603.5,1073.8 604.5,1072.1 605.5,1070.3 606.5,1068.5 607.5,1066.6 608.5,1064.7 609.5,1062.9 610.5,1061.0 611.5,1059.0 612.5,1057.0 613.5,1055.3 614.5,1053.7 615.5,1052.2 616.5,1050.8 617.5,1049.7 618.5,1048.7 619.5,1047.9 620.5,1047.3 621.5,1046.7 622.5,1046.2 623.5,1045.7 624.5,1045.3 625.5,1045.0 626.5,1044.9 627.5,1044.6 628.5,1044.0 629.5,1043.2 630.5,1042.4 631.5,1041.7 632.5,1041.2 633.5,1041.0 634.5,1040.9 635.5,1040.9 636.5,1040.7 637.5,1040.2 638.5,1039.3 639.5,1038.3 640.5,1037.2 641.5,1036.1 642.5,1035.0 643.5,1033.7 644.5,1032.4 645.5,1031.0 646.5,1029.5 647.5,1027.8 648.5,1026.0 649.5,1024.2 650.5,1022.3 651.5,1020.3 652.5,1018.0 653.5,1015.5 654.5,1013.0 655.5,1010.5 656.5,1008.2 657.5,1005.9 658.5,1003.1 659.5,999.7 660.5,995.9 661.5,992.1 662.5,988.0 663.5,983.7 664.5,978.8 665.5,973.2 666.5,967.2 667.5,960.9 668.5,954.8 669.5,948.7 670.5,942.9 671.5,937.0 672.5,931.2 673.5,925.1 674.5,918.3 675.5,910.8 676.5,902.8 677.5,894.5 678.5,886.3 679.5,878.4 680.5,871.3 681.5,865.1 682.5,860.1 683.5,855.3 684.5,850.3 685.5,845.2 686.5,840.5 687.5,836.3 688.5,833.1 689.5,830.8 690.5,829.8 691.5,830.1 692.5,831.6 693.5,834.3 694.5,838.0 695.5,842.7 696.5,848.0 697.5,853.8 698.5,859.8 699.5,865.8 700.5,871.4 701.5,876.4 702.5,880.7 703.5,884.4 704.5,888.0 705.5,891.9 706.5,895.9 707.5,900.0 708.5,904.2 709.5,908.3 710.5,912.4 711.5,916.4 712.5,920.2 713.5,924.0 714.5,927.7 715.5,931.3 716.5,934.8 717.5,937.8 718.5,940.5 719.5,942.8 720.5,944.9 721.5,947.0 722.5,948.9 723.5,950.7 724.5,952.2 725.5,953.5 726.5,954.8 727.5,956.2 728.5,957.6 729.5,958.9 730.5,960.0 731.5,960.8 732.5,961.6 733.5,962.3 734.5,963.1 735.5,963.9 736.5,964.6 737.5,965.3 738.5,965.9 739.5,966.6 740.5,967.5 741.5,968.3 742.5,969.2 743.5,970.2 744.5,971.2 745.5,972.0 746.5,972.6 747.5,972.9 748.5,973.2 749.5,973.6 750.5,974.1 751.5,974.8 752.5,975.6 753.5,976.4 754.5,976.9 755.5,977.2 756.5,977.4 757.5,977.6 758.5,977.9 759.5,978.4 760.5,979.2 761.5,979.9 762.5,980.4 763.5,980.7 764.5,980.9 765.5,981.0 766.5,981.3 767.5,981.9 768.5,982.8 769.5,983.8 770.5,984.9 771.5,985.8 772.5,986.7 773.5,987.6 774.5,988.5 775.5,989.5 776.5,990.3 777.5,991.2 778.5,992.1 779.5,993.1 780.5,994.0 781.5,994.9 782.5,995.8 783.5,996.8 784.5,998.0 785.5,999.1 786.5,1000.2 787.5,1001.4 788.5,1002.7 789.5,1004.3 790.5,1006.0 791.5,1007.8 792.5,1009.6 793.5,1011.5 794.5,1013.4 795.5,1015.2 796.5,1017.0 797.5,1018.7 798.5,1020.4 799.5,1022.1 800.5,1024.1 801.5,1026.1 802.5,1028.1 803.5,1030.1 804.5,1032.1 805.5,1034.2 806.5,1036.4 807.5,1038.6 808.5,1040.8 809.5,1043.0 810.5,1045.0 811.5,1046.9 812.5,1048.7 813.5,1050.5 814.5,1052.2 815.5,1054.0 816.5,1056.0 817.5,1058.3 818.5,1060.6 819.5,1062.9 820.5,1065.0 821.5,1067.0 822.5,1068.9 823.5,1070.7 824.5,1072.6 825.5,1074.3 826.5,1075.9 827.5,1077.4 828.5,1079.0 829.5,1080.8 830.5,1082.6 831.5,1084.2 832.5,1085.4 833.5,1086.4 834.5,1087.4 835.5,1088.5 836.5,1089.6 837.5,1090.8 838.5,1092.0 839.5,1093.1 840.5,1094.1 841.5,1094.9 842.5,1095.4 843.5,1095.9 844.5,1096.6 845.5,1097.4 846.5,1098.5 847.5,1099.6 848.5,1100.4 849.5,1101.0 850.5,1101.5 851.5,1102.0 852.5,1102.7 853.5,1103.2 854.5,1103.5 855.5,1103.7 856.5,1103.8 857.5,1104.0 858.5,1104.4 859.5,1104.9 860.5,1105.7 861.5,1106.5 862.5,1107.3 863.5,1108.0 864.5,1108.4 865.5,1108.7 866.5,1108.7 867.5,1108.7 868.5,1108.5 869.5,1108.4 870.5,1108.3 871.5,1108.3 872.5,1108.6 873.5,1109.2 874.5,1109.7 875.5,1109.9 876.5,1109.7 877.5,1109.5 878.5,1109.4 879.5,1109.6 880.5,1109.9 881.5,1110.3 882.5,1110.6 883.5,1110.9 884.5,1111.1 885.5,1111.5 886.5,1111.8 887.5,1112.0 888.5,1112.2 889.5,1112.4 890.5,1112.4 891.5,1112.2 892.5,1111.8 893.5,1111.6 894.5,1111.8 895.5,1112.4 896.5,1113.0 897.5,1113.5 898.5,1113.6 899.5,1113.6 900.5,1113.5 901.5,1113.4 902.5,1113.2 903.5,1113.2 904.5,1113.1 905.5,1113.2 906.5,1113.4 907.5,1113.7 908.5,1114.0 909.5,1114.2 910.5,1114.4 911.5,1114.4 912.5,1114.3 913.5,1114.1 914.5,1114.2 915.5,1114.4 916.5,1114.9 917.5,1115.4 918.5,1115.6 919.5,1115.7 920.5,1115.7 921.5,1115.6 922.5,1115.6 923.5,1115.6 924.5,1115.6 925.5,1115.6 926.5,1115.6 927.5,1115.6 928.5,1115.7 929.5,1115.8 930.5,1116.1 931.5,1116.3 932.5,1116.5 933.5,1116.6 934.5,1116.6 935.5,1116.6 936.5,1116.6 937.5,1116.7 938.5,1116.8 939.5,1116.9 940.5,1117.0 941.5,1117.2 942.5,1117.2 943.5,1117.3 944.5,1117.5 945.5,1117.6 946.5,1117.6 947.5,1117.5 948.5,1117.3 949.5,1117.1 950.5,1116.9 951.5,1116.7 952.5,1116.4 953.5,1116.3 954.5,1116.5 955.5,1116.9 956.5,1117.2 957.5,1117.5 958.5,1117.8 959.5,1118.3 960.5,1118.8 961.5,1119.1 962.5,1119.1 963.5,1118.7 964.5,1118.4 965.5,1118.3 966.5,1118.6 967.5,1118.8 968.5,1118.8 969.5,1118.5 970.5,1118.2 971.5,1118.1 972.5,1118.3 973.5,1118.7 974.5,1118.9 975.5,1118.9 976.5,1118.8 977.5,1118.8 978.5,1118.8 979.5,1118.9 980.5,1119.0 981.5,1119.2 982.5,1119.3 983.5,1119.4 984.5,1119.4 985.5,1119.4 986.5,1119.3 987.5,1119.2 988.5,1119.2 989.5,1119.3 990.5,1119.4 991.5,1119.5 992.5,1119.5 993.5,1119.4 994.5,1119.2 995.5,1119.2 996.5,1119.3 997.5,1119.4 998.5,1119.4 999.5,1119.4 1000.5,1119.5 1001.5,1119.7 1002.5,1120.1 1003.5,1120.5 1004.5,1120.7 1005.5,1120.6 1006.5,1120.2 1007.5,1119.6 1008.5,1119.1 1009.5,1118.9 1010.5,1119.0 1011.5,1119.3 1012.5,1119.7 1013.5,1120.3 1014.5,1120.9 1015.5,1121.6 1016.5,1122.0 1017.5,1121.9 1018.5,1121.6 1019.5,1121.1 1020.5,1120.7 1021.5,1120.5 1022.5,1120.5 1023.5,1120.4 1024.5,1120.4 1025.5,1120.5 1026.5,1120.7 1027.5,1120.9 1028.5,1120.8 1029.5,1120.7 1030.5,1120.5 1031.5,1120.4 1032.5,1120.4 1033.5,1120.4 1034.5,1120.5 1035.5,1120.6 1036.5,1120.6 1037.5,1120.5 1038.5,1120.6 1039.5,1120.9 1040.5,1121.1 1041.5,1121.2 1042.5,1121.2 1043.5,1121.3 1044.5,1121.2 1045.5,1121.1 1046.5,1121.1 1047.5,1121.1 1048.5,1121.2 1049.5,1121.3 1050.5,1121.5 1051.5,1121.8 1052.5,1122.0 1053.5,1122.1 1054.5,1122.0 1055.5,1121.7 1056.5,1121.5 1057.5,1121.3 1058.5,1121.3 1059.5,1121.4 1060.5,1121.5 1061.5,1121.6 1062.5,1121.5 1063.5,1121.5 1064.5,1121.6 1065.5,1121.8 1066.5,1121.9 1067.5,1122.0 1068.5,1121.9 1069.5,1121.9 1070.5,1121.9 1071.5,1121.7 1072.5,1121.4 1073.5,1121.2 1074.5,1121.1 1075.5,1121.2 1076.5,1121.4 1077.5,1121.5 1078.5,1121.6 1079.5,1121.6 1080.5,1121.6 1081.5,1121.8 1082.5,1122.0 1083.5,1122.2 1084.5,1122.4 1085.5,1122.4 1086.5,1122.4 1087.5,1122.4 1088.5,1122.3 1089.5,1122.1 1090.5,1122.1 1091.5,1122.2 1092.5,1122.4 1093.5,1122.6 1094.5,1122.6 1095.5,1122.5 1096.5,1122.5 1097.5,1122.5 1098.5,1122.5 1099.5,1122.4 1100.5,1122.3 1101.5,1122.3 1102.5,1122.3 1103.5,1122.3 1104.5,1122.3 1105.5,1122.2 1106.5,1122.1 1107.5,1122.0 1108.5,1121.8 1109.5,1121.7 1110.5,1121.6 1111.5,1121.7 1112.5,1121.8 1113.5,1121.9 1114.5,1122.0 1115.5,1121.8 1116.5,1121.7 1117.5,1121.5"/>
<polyline fill="none" stroke="#3649a2" stroke-width="3.3" stroke-linejoin="round" points="81.5,1051.0 82.5,1051.8 83.5,1052.5 84.5,1052.9 85.5,1052.7 86.5,1052.3 87.5,1052.1 88.5,1052.5 89.5,1053.5 90.5,1054.5 91.5,1054.9 92.5,1054.8 93.5,1054.9 94.5,1055.5 95.5,1056.6 96.5,1057.9 97.5,1058.6 98.5,1058.9 99.5,1058.9 100.5,1059.0 101.5,1058.9 102.5,1058.8 103.5,1058.7 104.5,1058.7 105.5,1058.8 106.5,1059.0 107.5,1059.4 108.5,1059.8 109.5,1060.1 110.5,1060.3 111.5,1060.5 112.5,1060.5 113.5,1060.4 114.5,1060.5 115.5,1060.9 116.5,1061.4 117.5,1061.9 118.5,1062.4 119.5,1063.1 120.5,1063.5 121.5,1063.6 122.5,1063.4 123.5,1063.4 124.5,1063.4 125.5,1063.4 126.5,1062.9 127.5,1062.3 128.5,1061.9 129.5,1062.1 130.5,1062.7 131.5,1063.2 132.5,1063.5 133.5,1063.7 134.5,1064.0 135.5,1064.4 136.5,1064.8 137.5,1064.9 138.5,1064.8 139.5,1064.6 140.5,1064.1 141.5,1063.1 142.5,1062.1 143.5,1061.0 144.5,1059.9 145.5,1059.3 146.5,1059.2 147.5,1059.3 148.5,1058.8 149.5,1058.0 150.5,1057.5 151.5,1057.6 152.5,1058.0 153.5,1058.4 154.5,1058.7 155.5,1058.5 156.5,1057.8 157.5,1056.8 158.5,1055.8 159.5,1055.4 160.5,1055.5 161.5,1055.9 162.5,1055.9 163.5,1055.6 164.5,1054.8 165.5,1053.7 166.5,1052.7 167.5,1052.2 168.5,1052.1 169.5,1051.9 170.5,1051.6 171.5,1051.3 172.5,1051.0 173.5,1050.6 174.5,1050.3 175.5,1049.9 176.5,1049.5 177.5,1049.1 178.5,1048.5 179.5,1047.6 180.5,1046.7 181.5,1046.2 182.5,1046.1 183.5,1046.3 184.5,1046.3 185.5,1046.3 186.5,1046.3 187.5,1046.5 188.5,1046.4 189.5,1046.1 190.5,1046.0 191.5,1046.0 192.5,1045.8 193.5,1045.1 194.5,1044.3 195.5,1044.0 196.5,1044.1 197.5,1044.2 198.5,1043.7 199.5,1043.0 200.5,1042.3 201.5,1041.9 202.5,1041.4 203.5,1040.7 204.5,1040.3 205.5,1040.5 206.5,1041.0 207.5,1040.9 208.5,1040.1 209.5,1039.1 210.5,1038.2 211.5,1037.9 212.5,1038.1 213.5,1038.4 214.5,1038.1 215.5,1037.6 216.5,1037.4 217.5,1037.7 218.5,1037.8 219.5,1037.7 220.5,1037.4 221.5,1037.2 222.5,1036.9 223.5,1036.4 224.5,1035.6 225.5,1035.0 226.5,1034.7 227.5,1035.0 228.5,1035.3 229.5,1035.8 230.5,1036.3 231.5,1036.8 232.5,1037.0 233.5,1036.8 234.5,1036.5 235.5,1036.0 236.5,1035.6 237.5,1035.5 238.5,1035.5 239.5,1035.2 240.5,1034.8 241.5,1034.5 242.5,1034.3 243.5,1034.4 244.5,1034.8 245.5,1034.9 246.5,1034.8 247.5,1034.6 248.5,1034.8 249.5,1035.4 250.5,1036.0 251.5,1036.4 252.5,1036.4 253.5,1036.2 254.5,1035.5 255.5,1034.6 256.5,1033.7 257.5,1032.8 258.5,1032.5 259.5,1032.8 260.5,1033.2 261.5,1033.0 262.5,1032.9 263.5,1033.4 264.5,1034.1 265.5,1034.4 266.5,1034.3 267.5,1034.2 268.5,1034.4 269.5,1034.6 270.5,1034.6 271.5,1034.5 272.5,1034.4 273.5,1034.1 274.5,1033.6 275.5,1033.2 276.5,1032.8 277.5,1032.5 278.5,1032.1 279.5,1031.4 280.5,1030.4 281.5,1029.8 282.5,1029.7 283.5,1029.9 284.5,1029.9 285.5,1029.7 286.5,1029.4 287.5,1029.1 288.5,1028.5 289.5,1027.8 290.5,1027.3 291.5,1026.9 292.5,1026.6 293.5,1026.3 294.5,1026.1 295.5,1026.0 296.5,1025.7 297.5,1024.9 298.5,1024.1 299.5,1023.6 300.5,1023.4 301.5,1023.3 302.5,1022.8 303.5,1021.8 304.5,1020.6 305.5,1019.6 306.5,1019.2 307.5,1019.1 308.5,1019.0 309.5,1018.5 310.5,1017.8 311.5,1017.1 312.5,1016.3 313.5,1015.7 314.5,1014.9 315.5,1013.5 316.5,1011.6 317.5,1009.7 318.5,1007.9 319.5,1005.9 320.5,1004.2 321.5,1003.0 322.5,1002.2 323.5,1001.7 324.5,1001.5 325.5,1001.9 326.5,1002.7 327.5,1003.5 328.5,1003.6 329.5,1003.0 330.5,1002.4 331.5,1002.4 332.5,1003.2 333.5,1004.3 334.5,1005.3 335.5,1006.0 336.5,1006.3 337.5,1006.0 338.5,1005.3 339.5,1004.5 340.5,1004.1 341.5,1004.5 342.5,1005.2 343.5,1006.0 344.5,1006.2 345.5,1006.1 346.5,1006.1 347.5,1006.8 348.5,1007.5 349.5,1007.6 350.5,1007.0 351.5,1006.4 352.5,1006.0 353.5,1005.8 354.5,1005.9 355.5,1006.4 356.5,1006.7 357.5,1006.2 358.5,1005.5 359.5,1005.2 360.5,1005.3 361.5,1005.5 362.5,1005.2 363.5,1004.4 364.5,1003.2 365.5,1002.1 366.5,1001.2 367.5,1000.8 368.5,1000.6 369.5,1000.1 370.5,999.2 371.5,998.0 372.5,996.7 373.5,995.5 374.5,994.6 375.5,994.3 376.5,994.2 377.5,994.1 378.5,993.7 379.5,992.9 380.5,991.7 381.5,990.4 382.5,989.5 383.5,989.4 384.5,989.7 385.5,989.6 386.5,989.0 387.5,988.5 388.5,988.3 389.5,988.3 390.5,988.2 391.5,987.5 392.5,986.2 393.5,984.6 394.5,983.2 395.5,982.3 396.5,981.9 397.5,982.1 398.5,982.7 399.5,983.0 400.5,982.7 401.5,981.9 402.5,981.1 403.5,980.4 404.5,979.6 405.5,978.6 406.5,977.5 407.5,976.5 408.5,976.1 409.5,976.0 410.5,975.9 411.5,975.6 412.5,975.0 413.5,974.6 414.5,974.0 415.5,973.4 416.5,972.8 417.5,972.3 418.5,972.1 419.5,972.3 420.5,972.5 421.5,972.6 422.5,972.8 423.5,973.6 424.5,974.4 425.5,974.6 426.5,974.0 427.5,973.5 428.5,973.2 429.5,973.5 430.5,974.1 431.5,975.1 432.5,976.2 433.5,977.1 434.5,978.2 435.5,979.7 436.5,981.4 437.5,982.9 438.5,984.0 439.5,984.7 440.5,985.0 441.5,985.1 442.5,985.1 443.5,984.6 444.5,983.8 445.5,983.5 446.5,983.9 447.5,984.7 448.5,985.3 449.5,985.5 450.5,985.5 451.5,985.5 452.5,985.4 453.5,985.3 454.5,985.0 455.5,984.6 456.5,984.0 457.5,983.1 458.5,982.1 459.5,981.3 460.5,980.6 461.5,979.7 462.5,978.9 463.5,978.5 464.5,978.3 465.5,977.9 466.5,976.9 467.5,975.3 468.5,973.6 469.5,972.1 470.5,970.6 471.5,969.3 472.5,968.4 473.5,967.9 474.5,967.4 475.5,966.3 476.5,965.0 477.5,963.9 478.5,962.9 479.5,961.6 480.5,960.2 481.5,959.0 482.5,958.1 483.5,957.2 484.5,955.8 485.5,953.6 486.5,951.1 487.5,948.7 488.5,946.7 489.5,945.1 490.5,943.8 491.5,942.7 492.5,941.6 493.5,940.2 494.5,938.6 495.5,937.2 496.5,935.9 497.5,934.5 498.5,932.8 499.5,931.0 500.5,929.3 501.5,927.8 502.5,926.2 503.5,924.6 504.5,923.1 505.5,921.9 506.5,921.2 507.5,921.1 508.5,921.4 509.5,922.1 510.5,922.9 511.5,923.9 512.5,925.2 513.5,926.9 514.5,929.0 515.5,931.2 516.5,933.3 517.5,935.1 518.5,937.2 519.5,939.9 520.5,942.5 521.5,944.6 522.5,946.5 523.5,948.5 524.5,950.7 525.5,952.5 526.5,954.3 527.5,956.4 528.5,958.9 529.5,961.6 530.5,964.5 531.5,967.6 532.5,971.1 533.5,974.4 534.5,977.2 535.5,979.1 536.5,980.6 537.5,982.2 538.5,984.3 539.5,986.5 540.5,988.4 541.5,989.9 542.5,991.2 543.5,992.4 544.5,993.7 545.5,995.3 546.5,996.9 547.5,998.6 548.5,1000.4 549.5,1002.1 550.5,1003.4 551.5,1004.2 552.5,1004.9 553.5,1005.8 554.5,1007.0 555.5,1008.1 556.5,1009.0 557.5,1009.7 558.5,1009.9 559.5,1009.5 560.5,1008.8 561.5,1008.4 562.5,1008.4 563.5,1008.8 564.5,1009.1 565.5,1008.8 566.5,1008.1 567.5,1007.4 568.5,1007.3 569.5,1007.8 570.5,1008.3 571.5,1008.3 572.5,1007.7 573.5,1006.9 574.5,1006.6 575.5,1006.6 576.5,1006.8 577.5,1006.5 578.5,1005.8 579.5,1005.0 580.5,1004.3 581.5,1003.9 582.5,1003.5 583.5,1002.8 584.5,1001.8 585.5,1000.6 586.5,999.6 587.5,998.8 588.5,998.1 589.5,997.1 590.5,995.7 591.5,994.0 592.5,992.3 593.5,991.1 594.5,990.2 595.5,989.4 596.5,988.0 597.5,985.9 598.5,983.2 599.5,980.5 600.5,978.2 601.5,976.4 602.5,974.5 603.5,972.0 604.5,969.0 605.5,965.7 606.5,962.4 607.5,959.2 608.5,956.5 609.5,954.2 610.5,952.1 611.5,950.0 612.5,948.0 613.5,946.4 614.5,944.9 615.5,943.6 616.5,942.5 617.5,941.4 618.5,940.5 619.5,939.9 620.5,939.2 621.5,938.0 622.5,936.6 623.5,935.8 624.5,936.0 625.5,936.6 626.5,936.9 627.5,936.4 628.5,935.0 629.5,933.3 630.5,931.7 631.5,930.4 632.5,929.0 633.5,927.6 634.5,926.6 635.5,925.9 636.5,925.2 637.5,923.8 638.5,922.0 639.5,920.7 640.5,920.0 641.5,919.4 642.5,918.1 643.5,916.1 644.5,913.9 645.5,912.1 646.5,910.7 647.5,909.1 648.5,907.2 649.5,905.3 650.5,903.4 651.5,901.3 652.5,898.8 653.5,896.3 654.5,894.0 655.5,891.9 656.5,889.5 657.5,886.6 658.5,883.5 659.5,880.9 660.5,878.4 661.5,875.7 662.5,872.7 663.5,869.4 664.5,866.0 665.5,862.6 666.5,859.1 667.5,855.5 668.5,851.8 669.5,848.0 670.5,844.4 671.5,841.1 672.5,837.8 673.5,834.2 674.5,830.5 675.5,826.8 676.5,822.9 677.5,818.4 678.5,813.3 679.5,808.2 680.5,803.8 681.5,800.1 682.5,796.2 683.5,791.6 684.5,787.1 685.5,783.3 686.5,780.3 687.5,778.4 688.5,776.6 689.5,774.9 690.5,773.7 691.5,772.9 692.5,772.5 693.5,772.7 694.5,773.2 695.5,773.6 696.5,774.0 697.5,774.5 698.5,775.1 699.5,775.5 700.5,775.6 701.5,775.4 702.5,774.8 703.5,773.8 704.5,772.7 705.5,772.0 706.5,771.7 707.5,771.5 708.5,771.4 709.5,771.5 710.5,771.8 711.5,771.8 712.5,771.9 713.5,772.6 714.5,774.2 715.5,775.6 716.5,776.5 717.5,777.0 718.5,777.5 719.5,778.0 720.5,778.6 721.5,779.5 722.5,781.0 723.5,782.6 724.5,783.6 725.5,783.8 726.5,783.6 727.5,783.4 728.5,783.5 729.5,783.7 730.5,783.9 731.5,784.2 732.5,785.0 733.5,786.2 734.5,787.5 735.5,788.4 736.5,788.8 737.5,788.7 738.5,788.7 739.5,789.1 740.5,790.0 741.5,790.7 742.5,790.9 743.5,791.0 744.5,791.2 745.5,791.2 746.5,791.0 747.5,790.8 748.5,790.9 749.5,791.2 750.5,792.1 751.5,793.6 752.5,795.2 753.5,796.2 754.5,796.3 755.5,796.2 756.5,796.6 757.5,797.4 758.5,798.4 759.5,799.3 760.5,799.9 761.5,800.6 762.5,801.8 763.5,803.4 764.5,804.8 765.5,805.8 766.5,806.5 767.5,807.1 768.5,807.9 769.5,808.8 770.5,810.0 771.5,811.4 772.5,812.9 773.5,814.1 774.5,815.2 775.5,816.3 776.5,817.4 777.5,818.4 778.5,819.1 779.5,819.8 780.5,820.8 781.5,822.7 782.5,825.5 783.5,828.6 784.5,831.5 785.5,834.5 786.5,837.6 787.5,840.7 788.5,843.5 789.5,845.9 790.5,848.7 791.5,851.7 792.5,854.8 793.5,857.9 794.5,861.3 795.5,865.2 796.5,869.3 797.5,873.2 798.5,876.8 799.5,880.7 800.5,885.2 801.5,889.8 802.5,894.7 803.5,899.9 804.5,904.9 805.5,909.5 806.5,913.6 807.5,917.6 808.5,921.9 809.5,926.3 810.5,930.6 811.5,934.9 812.5,939.0 813.5,943.2 814.5,947.6 815.5,952.0 816.5,955.7 817.5,958.5 818.5,961.1 819.5,964.0 820.5,966.9 821.5,969.5 822.5,971.6 823.5,973.3 824.5,975.0 825.5,977.2 826.5,980.0 827.5,982.9 828.5,985.4 829.5,987.9 830.5,990.8 831.5,994.0 832.5,997.4 833.5,1000.8 834.5,1003.5 835.5,1005.3 836.5,1006.6 837.5,1008.1 838.5,1009.9 839.5,1011.8 840.5,1013.6 841.5,1015.0 842.5,1016.4 843.5,1018.0 844.5,1019.7 845.5,1021.1 846.5,1022.3 847.5,1023.5 848.5,1024.8 849.5,1025.9 850.5,1026.9 851.5,1028.1 852.5,1029.3 853.5,1030.0 854.5,1030.4 855.5,1030.7 856.5,1031.3 857.5,1032.1 858.5,1033.1 859.5,1034.3 860.5,1035.2 861.5,1035.7 862.5,1036.0 863.5,1036.4 864.5,1037.0 865.5,1037.8 866.5,1038.6 867.5,1039.5 868.5,1040.6 869.5,1041.6 870.5,1042.4 871.5,1042.8 872.5,1042.9 873.5,1042.9 874.5,1043.0 875.5,1043.6 876.5,1044.3 877.5,1045.1 878.5,1045.8 879.5,1046.1 880.5,1046.2 881.5,1046.2 882.5,1046.4 883.5,1046.7 884.5,1047.1 885.5,1047.7 886.5,1048.3 887.5,1049.0 888.5,1049.6 889.5,1049.7 890.5,1049.6 891.5,1049.9 892.5,1050.6 893.5,1051.3 894.5,1051.5 895.5,1051.4 896.5,1051.3 897.5,1051.2 898.5,1051.0 899.5,1050.9 900.5,1051.1 901.5,1051.7 902.5,1052.1 903.5,1052.3 904.5,1052.1 905.5,1051.9 906.5,1051.8 907.5,1051.9 908.5,1052.2 909.5,1052.8 910.5,1053.4 911.5,1053.6 912.5,1053.4 913.5,1053.3 914.5,1053.4 915.5,1053.8 916.5,1054.5 917.5,1055.3 918.5,1055.8 919.5,1055.7 920.5,1055.1 921.5,1054.4 922.5,1054.1 923.5,1054.3 924.5,1055.0 925.5,1055.9 926.5,1056.3 927.5,1056.4 928.5,1056.6 929.5,1056.7 930.5,1056.9 931.5,1057.1 932.5,1057.2 933.5,1057.1 934.5,1056.8 935.5,1056.4 936.5,1056.1 937.5,1055.9 938.5,1055.8 939.5,1055.5 940.5,1055.6 941.5,1056.3 942.5,1057.5 943.5,1058.4 944.5,1058.8 945.5,1058.9 946.5,1058.9 947.5,1058.8 948.5,1058.8 949.5,1059.4 950.5,1060.2 951.5,1060.3 952.5,1059.7 953.5,1059.0 954.5,1058.8 955.5,1059.2 956.5,1059.5 957.5,1059.7 958.5,1059.7 959.5,1059.7 960.5,1059.6 961.5,1059.2 962.5,1059.2 963.5,1059.7 964.5,1060.6 965.5,1061.3 966.5,1061.5 967.5,1061.1 968.5,1060.6 969.5,1060.3 970.5,1060.2 971.5,1060.1 972.5,1060.3 973.5,1060.5 974.5,1060.6 975.5,1060.3 976.5,1059.7 977.5,1059.1 978.5,1059.0 979.5,1059.3 980.5,1059.8 981.5,1060.2 982.5,1060.6 983.5,1060.6 984.5,1060.5 985.5,1060.5 986.5,1060.5 987.5,1060.4 988.5,1060.4 989.5,1061.1 990.5,1062.0 991.5,1062.5 992.5,1062.6 993.5,1062.3 994.5,1061.8 995.5,1061.4 996.5,1061.6 997.5,1062.3 998.5,1063.0 999.5,1063.1 1000.5,1062.8 1001.5,1062.5 1002.5,1062.7 1003.5,1063.4 1004.5,1063.9 1005.5,1064.1 1006.5,1063.9 1007.5,1063.7 1008.5,1063.8 1009.5,1063.7 1010.5,1063.1 1011.5,1062.0 1012.5,1060.7 1013.5,1060.1 1014.5,1060.5 1015.5,1061.5 1016.5,1062.4 1017.5,1062.6 1018.5,1062.2 1019.5,1061.6 1020.5,1061.3 1021.5,1061.3 1022.5,1061.4 1023.5,1061.7 1024.5,1062.0 1025.5,1062.1 1026.5,1061.9 1027.5,1061.5 1028.5,1061.3 1029.5,1061.3 1030.5,1061.8 1031.5,1062.2 1032.5,1062.3 1033.5,1062.3 1034.5,1062.6 1035.5,1063.2 1036.5,1063.8 1037.5,1064.0 1038.5,1063.9 1039.5,1063.5 1040.5,1063.4 1041.5,1063.7 1042.5,1064.3 1043.5,1064.8 1044.5,1064.7 1045.5,1063.8 1046.5,1062.5 1047.5,1061.4 1048.5,1061.1 1049.5,1061.3 1050.5,1061.5 1051.5,1061.3 1052.5,1061.5 1053.5,1062.4 1054.5,1063.5 1055.5,1064.2 1056.5,1064.2 1057.5,1063.5 1058.5,1062.6 1059.5,1062.1 1060.5,1062.2 1061.5,1063.0 1062.5,1064.2 1063.5,1065.0 1064.5,1064.8 1065.5,1064.0 1066.5,1063.1 1067.5,1062.5 1068.5,1062.4 1069.5,1062.7 1070.5,1063.0 1071.5,1062.8 1072.5,1062.4 1073.5,1062.2 1074.5,1062.2 1075.5,1061.9 1076.5,1061.6 1077.5,1061.9 1078.5,1062.7 1079.5,1063.2 1080.5,1063.3 1081.5,1063.4 1082.5,1063.5 1083.5,1063.3 1084.5,1062.8 1085.5,1062.4 1086.5,1062.2 1087.5,1062.3 1088.5,1062.6 1089.5,1062.9 1090.5,1063.3 1091.5,1063.7 1092.5,1063.7 1093.5,1063.4 1094.5,1063.1 1095.5,1063.1 1096.5,1063.3 1097.5,1063.7 1098.5,1064.3 1099.5,1064.7 1100.5,1064.5 1101.5,1063.6 1102.5,1062.7 1103.5,1062.3 1104.5,1062.3 1105.5,1062.2 1106.5,1062.0 1107.5,1062.2 1108.5,1062.9 1109.5,1063.6 1110.5,1063.7 1111.5,1062.9 1112.5,1061.9 1113.5,1061.1 1114.5,1060.5 1115.5,1060.3 1116.5,1060.7 1117.5,1061.1"/>
<path d="M903,902.5 L928,944 L915.5,944 L915.5,1165 L891,1165 L891,944 L878,944 Z" fill="none" stroke="#3a3a3a" stroke-width="2"/>
<g stroke="#000" fill="none">
<line x1="79.3" y1="652" x2="79.3" y2="1184" stroke-width="4.2"/>
<line x1="77" y1="654.3" x2="1122" y2="654.3" stroke-width="4.4"/>
<line x1="1120.1" y1="652" x2="1120.1" y2="1184" stroke-width="4"/>
<line x1="77" y1="1181.8" x2="1122" y2="1181.8" stroke-width="4.4"/>
<line x1="227.9" y1="1171" x2="227.9" y2="1181" stroke-width="3.2"/>
<line x1="376.4" y1="1171" x2="376.4" y2="1181" stroke-width="3.2"/>
<line x1="524.9" y1="1171" x2="524.9" y2="1181" stroke-width="3.2"/>
<line x1="673.4" y1="1171" x2="673.4" y2="1181" stroke-width="3.2"/>
<line x1="821.9" y1="1171" x2="821.9" y2="1181" stroke-width="3.2"/>
<line x1="970.4" y1="1171" x2="970.4" y2="1181" stroke-width="3.2"/>
</g>
<g font-family="Liberation Sans, sans-serif" fill="#2b2b2b">
<text x="76.6" y="44.2" font-size="28.5">(</text>
<text x="87.8" y="48.0" font-size="28">a</text>
<text x="104.4" y="44.2" font-size="28.5">)</text>
<text x="820" y="48.8" font-size="29" textLength="242" lengthAdjust="spacingAndGlyphs">heat = 300°C 5hrs</text>
<text x="707.8" y="210.8" font-size="27.5" textLength="168" lengthAdjust="spacingAndGlyphs">48hrs + heat</text>
<text x="714" y="297.6" font-size="27.5" textLength="152.5" lengthAdjust="spacingAndGlyphs">6hrs + heat</text>
<text x="715" y="383" font-size="27.5" textLength="136.5" lengthAdjust="spacingAndGlyphs">1hr + heat</text>
<text x="714.3" y="468.3" font-size="27.5" textLength="137" lengthAdjust="spacingAndGlyphs">0hr + heat</text>
<text x="57.5" y="560.3" font-size="30.5" text-anchor="middle" textLength="29.5" lengthAdjust="spacingAndGlyphs">15</text>
<text x="248.3" y="560.3" font-size="30.5" text-anchor="middle" textLength="29.5" lengthAdjust="spacingAndGlyphs">25</text>
<text x="439.3" y="560.3" font-size="30.5" text-anchor="middle" textLength="29.5" lengthAdjust="spacingAndGlyphs">35</text>
<text x="630.6" y="560.3" font-size="30.5" text-anchor="middle" textLength="29.5" lengthAdjust="spacingAndGlyphs">45</text>
<text x="821.9" y="560.3" font-size="30.5" text-anchor="middle" textLength="29.5" lengthAdjust="spacingAndGlyphs">55</text>
<text x="1013.2" y="560.3" font-size="30.5" text-anchor="middle" textLength="29.5" lengthAdjust="spacingAndGlyphs">65</text>
<text x="563" y="607.8" font-size="29" textLength="41" lengthAdjust="spacingAndGlyphs">2 θ</text>
<text transform="translate(25,353) rotate(-90)" font-size="27.5" textLength="193" lengthAdjust="spacingAndGlyphs">Intensity (a.u.)</text>
<text x="108.7" y="707.4" font-size="28.5">(</text>
<text x="119.2" y="712.9" font-size="30.5">b</text>
<text x="137.2" y="707.4" font-size="28.5">)</text>
<text x="110.5" y="753.6" font-size="29" textLength="395" lengthAdjust="spacingAndGlyphs">acid treatment + 300°C 5 hrs</text>
<text x="890" y="836.3" font-size="27.5" textLength="52.6" lengthAdjust="spacingAndGlyphs">acid</text>
<text x="850" y="870.4" font-size="27.5" textLength="130.8" lengthAdjust="spacingAndGlyphs">treatment</text>
<text x="1033.4" y="860.5" font-size="27.5" textLength="46" lengthAdjust="spacingAndGlyphs">ICP</text>
<text x="1033.4" y="893.2" font-size="27.5" textLength="78.2" lengthAdjust="spacingAndGlyphs">Li/Mn</text>
<text x="109.4" y="961.2" font-size="27.5" textLength="179.5" lengthAdjust="spacingAndGlyphs">48 hrs + heat</text>
<text x="108.6" y="1026.6" font-size="27.5" textLength="164.5" lengthAdjust="spacingAndGlyphs">6 hrs + heat</text>
<text x="108" y="1089.4" font-size="27.5" textLength="150.5" lengthAdjust="spacingAndGlyphs">1 hr + heat</text>
<text x="109.3" y="1149.6" font-size="27.5" textLength="149.5" lengthAdjust="spacingAndGlyphs">0 hr + heat</text>
<text x="1052" y="970.5" font-size="27.5" textLength="52.6" lengthAdjust="spacingAndGlyphs">0.56</text>
<text x="1052" y="1033.6" font-size="27.5" textLength="52.6" lengthAdjust="spacingAndGlyphs">0.99</text>
<text x="1053.3" y="1092" font-size="27.5" textLength="51.2" lengthAdjust="spacingAndGlyphs">1.56</text>
<text x="1052" y="1150.3" font-size="27.5" textLength="36.9" lengthAdjust="spacingAndGlyphs">2.0</text>
<text x="80" y="1232.8" font-size="31" text-anchor="middle" textLength="45.5" lengthAdjust="spacingAndGlyphs">200</text>
<text x="228.4" y="1232.8" font-size="31" text-anchor="middle" textLength="45.5" lengthAdjust="spacingAndGlyphs">300</text>
<text x="376.9" y="1232.8" font-size="31" text-anchor="middle" textLength="45.5" lengthAdjust="spacingAndGlyphs">400</text>
<text x="525.3" y="1232.8" font-size="31" text-anchor="middle" textLength="45.5" lengthAdjust="spacingAndGlyphs">500</text>
<text x="673.8" y="1232.8" font-size="31" text-anchor="middle" textLength="45.5" lengthAdjust="spacingAndGlyphs">600</text>
<text x="822.3" y="1232.8" font-size="31" text-anchor="middle" textLength="45.5" lengthAdjust="spacingAndGlyphs">700</text>
<text x="970.8" y="1232.8" font-size="31" text-anchor="middle" textLength="45.5" lengthAdjust="spacingAndGlyphs">800</text>
<text x="1119.3" y="1232.8" font-size="31" text-anchor="middle" textLength="45.5" lengthAdjust="spacingAndGlyphs">900</text>
<text x="463.7" y="1275.4" font-size="27.5" textLength="273.7" lengthAdjust="spacingAndGlyphs">Raman shift (cm^−1)</text>
<text transform="translate(38.5,1055) rotate(-90)" font-size="27.5" textLength="272.5" lengthAdjust="spacingAndGlyphs">Normalized intensity</text>
</g>
</svg>
</body></html>
